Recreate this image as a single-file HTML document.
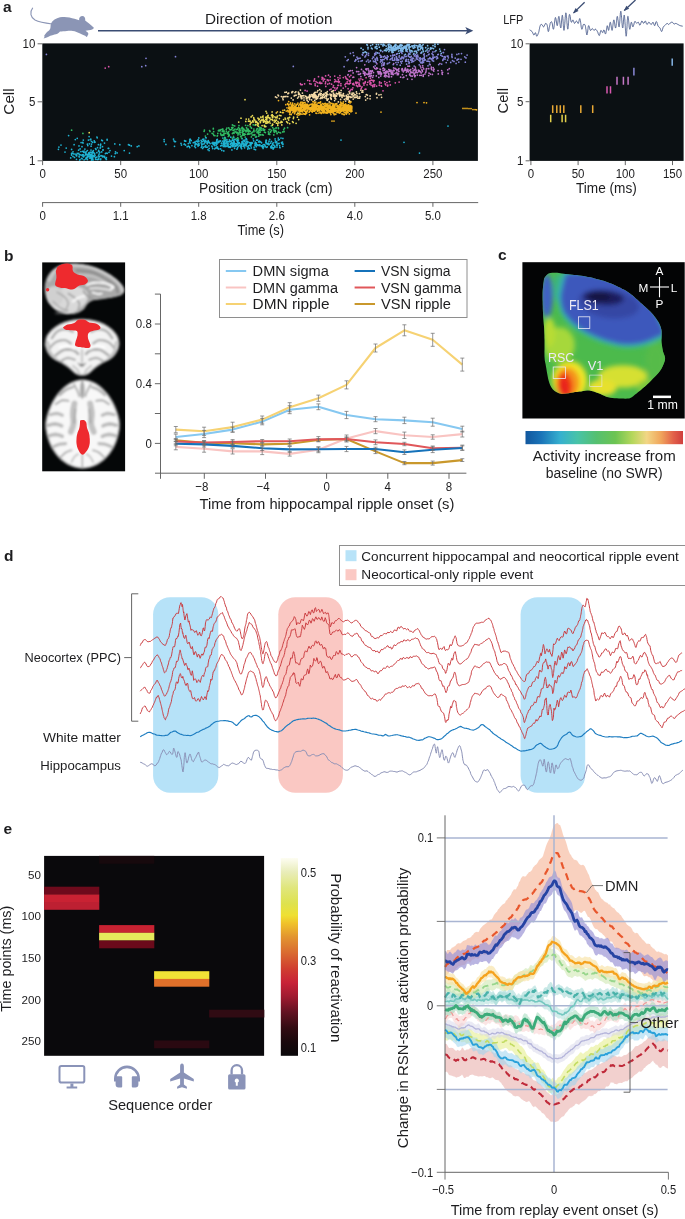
<!DOCTYPE html>
<html lang="en">
<head>
<meta charset="utf-8">
<title>Figure</title>
<style>
html,body{margin:0;padding:0;background:#fff}
svg{display:block}
text{font-family:"Liberation Sans", sans-serif;fill:#1d1d1f}
</style>
</head>
<body>
<svg width="685" height="1219" viewBox="0 0 685 1219">
<rect width="685" height="1219" fill="#fff"/>
<g id="panel_a">
<text x="3" y="12" font-size="15.5" font-weight="bold">a</text>
<path d="M32.6 8.2C29.5 12 30.5 17.5 35 20C40 22.5 46 23.2 52.5 24" fill="none" stroke="#8b95b5" stroke-width="1.1" stroke-linecap="round"/>
<path d="M51 23.5C52.5 20.5 56 18.2 60 17.3C65 16.3 70 17.2 74.5 18.8L79.2 20.3C78.8 18 79.8 16.2 82 15.9C84.3 15.8 85.6 17.6 85.2 20.6C87 22 90 24.3 93.9 27.8C93.5 29.3 91.5 30 88.5 30.3L85.5 30.8C87.5 32 88.6 33.2 88.3 34.2L86.9 36.9C86 36.5 85.6 35.8 84.5 35.4C81 34 79 32.9 76.5 31.9C73 30.8 70.5 30.6 67 30.9C64 31.1 62 31.2 60 31.5C58.5 33.5 56.5 34.3 54.5 34.5C51.5 35.3 49 36.3 46.8 37.6L43.6 38.6L44.8 36.6L43.9 36.3L45 34.6C45.8 33.2 46.8 31.8 48.4 30.9C49.8 30 50.3 28.8 50.5 27.2C50.6 25.8 50.6 24.6 51 23.5Z" fill="#8b95b5" stroke="none" stroke-width="1"/>
<line x1="98" y1="30.7" x2="468" y2="30.7" stroke="#3a4c73" stroke-width="1.6"/>
<path d="M473.3 30.7L465.3 27L467.3 30.7L465.3 34.4Z" fill="#3a4c73" stroke="none" stroke-width="1"/>
<text x="205" y="24" font-size="15.2" textLength="127.5" lengthAdjust="spacingAndGlyphs">Direction of motion</text>
<rect x="42.3" y="43.4" width="435.6" height="117.5" fill="#0b1013"/>
<g stroke-width="1.75" stroke-linecap="round" fill="none">
<path d="M92 154h0M95 155.3h0M89.3 154.5h0M83.1 156.5h0M87.5 155.1h0M82.1 155.4h0M92.6 151.5h0M105.4 153.6h0M85.8 154.1h0M96.9 152.7h0M95.6 157.7h0M82.7 151.3h0M91.7 155.7h0M99 154.2h0M78.6 150.2h0M87.4 159.1h0M73 156.4h0M79.1 156.8h0M73.6 153.8h0M89.6 158.1h0M79.3 154.6h0M94.7 156h0M93.6 152.5h0M90.1 152.1h0M86.6 154.7h0M91.5 157.6h0M93.1 156.4h0M76.7 154.9h0M87.2 154.7h0M82.2 158.8h0M83.9 155.4h0M102.6 156h0M83.9 156.6h0M100.8 158.9h0M86.2 157.9h0M90.9 154.5h0M93.1 151.5h0M92.6 159.9h0M79.7 160h0M92.8 156h0M105.6 158.5h0M76.5 159.3h0M100.6 159.5h0M93.2 159.8h0M85.6 154.9h0M99.6 152h0M80 159.6h0M92.7 158.3h0M97.8 159.6h0M91.3 152.4h0M98.7 150.4h0M106.4 159.4h0M85.2 152.8h0M94 156.5h0M87.4 159.5h0M93.3 150.6h0M80.1 148.9h0M86.2 157.4h0M90 156.7h0M101 155.6h0M103.5 156.6h0M78.8 153.4h0M84.1 151.1h0M98.5 155.9h0M72.1 153h0M87.4 150.6h0M91 158.3h0M104.6 156.3h0M98.9 158h0M88.7 152.9h0M88.3 154.1h0M89.5 152.9h0M107.2 153.3h0M87.7 157.2h0M89 153.7h0M95.5 157.8h0M90.8 157.7h0M80.9 151.5h0M91.9 159.7h0M87.6 156.2h0M103.7 156.4h0M98.5 151.3h0M91.8 154.8h0M98.7 159.2h0M88.6 156.2h0M102.5 156.8h0M91.9 155.5h0M79.1 156.4h0M95.5 148.6h0M75.1 154h0M71.6 149.4h0M83 154.6h0M114.4 156.7h0M83.7 152.3h0M85.8 153.1h0M96.9 157.1h0M90.2 156.7h0M89.9 156.3h0M99 156.6h0M97.2 159.4h0M81.7 158.5h0M91.2 157.3h0M92.4 152.7h0M81.5 158.3h0M94.6 154h0M101.7 151.9h0M93.9 156h0M92.9 156.5h0M86.1 151.7h0M80.7 154.8h0M95.6 159.3h0M70.7 157.9h0M100.5 147.1h0M74.5 157.4h0M99.6 156.3h0M83.5 156.8h0M99.8 152.6h0M93.3 155.5h0M76.6 155.9h0M106.4 157.7h0M91.3 156.5h0M90.4 154.5h0M82.2 155.1h0M103 150h0M91.5 160h0M84.1 159.8h0M85.7 158.9h0M79.2 156.9h0M104.6 157.3h0M90.5 155.6h0M101.7 155.8h0M92.1 156.7h0" stroke="#1fb2d2"/>
<path d="M108.2 148.3h0M94.7 142.3h0M83.3 140h0M82 146.7h0M131.3 145.9h0M107.1 140.1h0M97.5 147.7h0M88.4 140.1h0M71.6 153.7h0M94.5 153.4h0M115.2 153.5h0M87.4 144.2h0M91 150.1h0M91.1 146.2h0M98.4 144.7h0M61 145h0M90.8 139.2h0M77.2 138.3h0M115.5 151.8h0M79 145.9h0M108.7 148.3h0M129.5 153h0M89.1 136.6h0M82.8 142.3h0M100.2 148.1h0M96 149.4h0M74.1 144.7h0M106.1 153.2h0M90.3 139.7h0M91.5 141.4h0M73 151.8h0M103 149.8h0M68.6 135.6h0M71.6 155.1h0M124.2 150.6h0M76.1 155.1h0M119.8 144.7h0M129.5 145.2h0M101.7 140.2h0M138.9 145.9h0M91.7 156.5h0M83 143.1h0M66.2 148h0M96.9 137h0M128.5 144.7h0M117.1 152.9h0M75.3 139.5h0M77.2 153.4h0M84.9 149h0M102.4 140.7h0M91.5 144h0M100.7 144.2h0M102.5 146.7h0M89.4 143.8h0M95.1 142h0M100.5 145.2h0M94.2 140.8h0M107.1 139.3h0M137.2 146.7h0M109 152.3h0M97.2 137.8h0M58.9 147h0M104.5 143.1h0M65 152.1h0M114.8 143.9h0M111.5 156h0M92.7 142.3h0M58.4 149.3h0M87.8 145.6h0M81.1 142.5h0M110 150.5h0" stroke="#1fb2d2"/>
<path d="M173.5 139h0M181 143.4h0M174.5 146.3h0M164.1 139.7h0M174 140.8h0M175.5 141.6h0M184.6 140.7h0M165.9 144.4h0M174.6 141.5h0M181.5 145h0M164.2 141.6h0" stroke="#1fb2d2"/>
<path d="M248 148.3h0M205.9 141.8h0M198.6 144h0M225.4 138.1h0M242.3 141.9h0M234.1 142.3h0M239.8 145.7h0M236.5 145.6h0M203.8 139.2h0M188.3 146h0M204.6 142.9h0M195 141.9h0M257.4 145.4h0M259.6 141.1h0M206.2 137.8h0M193.3 142.7h0M224.4 139.5h0M276.7 141.9h0M250.8 144.7h0M202.7 148.4h0M266.2 143.2h0M202.7 139.4h0M226.4 141.6h0M189.8 141.1h0M205.7 140.3h0M276.6 145.1h0M259.6 141.9h0M222.9 138.1h0M208.9 145.8h0M223.2 144.8h0M234.1 144.1h0M232.5 145.6h0M232.2 143.9h0M201.3 147.4h0M233 145h0M233.8 144.9h0M273.7 145h0M230.9 143.3h0M212 143h0M233.1 144.4h0M216.8 139.9h0M212.7 148.5h0M233.2 144.1h0M203.7 140.3h0M253.2 138.8h0M231.9 143h0M242.5 143.5h0M229.5 141.7h0M213.2 144.1h0M206.6 141.9h0M227.9 145.4h0M218.5 141.7h0M242 143.7h0M234.9 146.6h0M237 140.9h0M194.7 142.5h0M216.5 141.4h0M226.2 146.1h0M237.7 142.4h0M239.5 143.7h0M230.3 141h0M222.3 141h0M223.8 142.4h0M205.7 137.7h0M226.9 139.6h0M218.4 142.6h0M237.8 144.2h0M198.9 143.3h0M242.1 138.7h0M239.3 142.5h0M230.8 146.1h0M221.8 145.4h0M251.6 143.6h0M185.1 141.2h0M248.8 145.6h0M242.3 142.1h0M243.5 140.4h0M246.5 141.5h0M215.4 148h0M227.2 144.4h0M254.1 147.2h0M247.9 142.4h0M241.2 146.5h0M189.6 142.1h0M251.1 143.3h0M265.3 146h0M242 142.3h0M188.3 143.6h0M263.3 144.7h0M230.6 147.3h0M246.3 138.8h0M190.2 143h0M196.1 143.8h0M216 144.1h0M273.2 147.6h0M223.9 144.7h0M243.1 146.2h0M282.8 146.3h0M231.9 149.9h0M227.8 146h0M197.2 144.5h0M214.2 144.2h0M247.8 149h0M246.9 141.1h0M238.3 143.5h0M264.8 145.1h0M211.8 146h0M233.3 142.5h0M256.9 144.7h0M252.5 143h0M267.1 144.1h0M246.9 143.4h0M225.7 140.5h0M245.9 143.7h0M204.9 146.3h0M185.8 141h0M252.4 143.1h0M233.3 145.7h0M244.3 140.7h0M184.1 144.3h0M224 140.7h0M217 147.1h0M209.1 150.5h0M225 143.2h0M261.9 145.9h0M246.4 144.2h0M217 144.1h0M234.6 148.3h0M257.7 140h0M231.3 143.7h0M251.3 147.9h0M255.5 144.3h0M269.1 144.6h0M244.4 145.9h0M244.1 143.9h0M258.6 145.2h0M218.8 142.3h0M233.8 137.6h0M262.2 146.4h0M230.2 144.2h0M233.5 144h0M241 146.8h0M275.3 142.5h0M234.1 141.8h0M279.1 143.3h0M206 147.2h0M229.4 139.8h0M229.1 147.3h0M258.6 141.9h0M266.4 140.6h0M189.7 147.5h0M207.5 143.5h0M245.1 140h0M215.2 142.8h0M189.3 146.5h0M266.2 147.3h0M249.8 142.6h0M249.8 145h0M220.7 145.9h0M265.9 141.9h0M227.8 144.8h0M267.9 143.7h0M207.7 142.2h0M209.4 142.4h0M241.1 144h0M213.9 143.9h0M255.3 142.2h0M242.8 142.6h0M207.3 147h0M237.2 144.4h0M224.5 146.4h0M262.5 147.3h0M216 145.5h0M221.8 150.4h0M271.3 141.4h0M236.9 149.2h0M241.6 148.7h0M281 138.1h0M231.3 141h0M205.7 145.7h0M238.5 146.1h0M248.5 145.9h0M210.1 143.6h0M185.6 145.1h0M191.9 145.7h0M255 143.6h0M212.2 146.8h0M230.8 137.2h0M241.4 145.6h0M253.6 140.8h0M225 146.6h0M250 143.1h0M208.3 141.2h0M224.1 144.9h0M204.3 141.2h0M269 141.2h0M234.2 139.3h0M212.8 143.7h0M224.4 145.2h0M228.3 146.8h0M256 143.4h0M187.1 146.8h0M203.9 143.9h0M223.7 143.5h0M263.7 146.9h0M231.7 142.8h0M256.4 143.1h0M228 144h0M224 141.2h0M271.4 146.8h0M249.8 142.6h0M255.1 145.1h0M219.8 141.4h0M252 142.6h0M255.5 149.7h0M254.1 149h0M229.2 146.6h0M248 141.9h0M255.5 142.7h0M224.8 145.1h0M184.3 144h0M246 143.9h0M212.8 143h0M225.1 138.6h0M216.9 143.1h0M224.8 137.4h0M271.5 141.7h0M242.6 141.7h0M268.3 143.2h0M235.7 139.6h0M208.2 140.7h0M198.8 137.9h0M219.9 141h0M237.4 148.4h0M245.3 145.7h0M189.7 139.8h0M243.9 144.7h0M231.7 142.9h0M225.6 143.6h0M232.8 145.4h0M218.8 148.9h0M216.6 144.4h0M184.5 144.2h0M234.1 141h0M274.7 146.2h0M256.2 143.7h0M214.7 148.8h0M278.3 138h0M233.3 142.9h0M232.9 146.4h0M226.3 142.8h0M237.8 141.5h0M221.9 143h0M232.5 139.8h0M202.5 144.1h0M223.8 150.9h0M232.9 140.6h0M227.8 141.3h0M251 142.6h0M256.2 146.7h0M201.6 141.4h0M228.8 141.8h0M262.5 146.4h0M243.1 146.3h0M238.7 142.7h0" stroke="#1fb2d2"/>
<path d="M282.5 142.1h0M246.3 138.7h0M196.9 141.2h0M236.2 143.7h0M194.6 146.4h0M241 146.7h0M207.2 143.6h0M224.2 143.3h0M218.3 141.4h0M246 145h0M266.5 143.1h0M277.1 145.6h0M220.6 148.9h0M243 143.7h0M190.5 139.5h0M224.6 141.3h0M279.3 139.6h0M201.1 140.3h0M270.9 147.6h0M250.7 144.5h0M217.3 139.4h0M262.4 145.7h0M216.9 147.5h0M273.2 142.8h0M197.7 141.8h0M201.1 142.8h0M259.8 144.6h0M231.8 145.7h0M203.7 147.2h0M237.7 147.3h0M217.6 147.2h0M241.1 147.7h0M259.2 145.7h0M269.7 139.4h0M195.5 143.4h0M245.1 144.7h0M281.5 142.7h0M232.8 146.4h0M261.6 142.8h0M199 141.1h0M271.2 148h0M244.1 145.7h0M272.6 144.4h0M263.2 146.5h0M270.8 146.9h0M195.3 144.8h0M256.5 136.7h0M208.3 141.8h0M214.7 142.5h0M220.2 140.9h0M245 144.4h0M248.4 147.3h0M276.6 142.4h0M191.2 140.5h0M208 149.7h0M223.7 142.5h0M266.1 140.2h0M241.1 144.5h0M237.6 145h0M260.7 141.8h0M250.9 146.1h0M217 142.4h0M198.1 141.1h0M233 144.3h0M271.9 146h0M245.6 142h0M195 144.8h0M230.9 143.5h0M244.2 141.7h0M244.6 147.8h0M278.5 143.6h0M221.4 143.4h0M228 145.9h0M247.1 146.4h0M272.4 147.5h0M255.7 144.8h0M233.8 142.1h0M265.8 142.2h0M235.1 145.3h0M279.6 145.5h0M216.3 147.9h0M201.8 145h0M267.2 146.9h0M217.6 148.2h0M268.8 144.3h0M246.7 139.5h0M237.3 140.4h0M198.1 139.6h0M263.1 148.4h0M196.1 141.3h0M279.8 147.4h0M271.6 145.5h0M218.2 148.8h0M201.9 146.7h0M272.4 143.5h0M234.6 143.2h0M201.6 144h0M236.4 144.3h0M213 142.3h0M227.9 143.7h0M249.5 148.5h0M275.1 138.9h0M264.5 144.5h0M205 141.2h0M234.4 144.3h0M235.7 146.2h0M282 143.6h0M198.1 146h0M237.5 139.2h0M275 147h0M227.1 142.1h0M214.3 145.6h0M241.7 144.3h0M276.2 141.6h0M197.9 144.4h0M209.2 148.3h0M197.8 144.6h0M256.2 144.5h0M217.3 139.7h0M273.7 148h0M273.1 149h0M277.1 143.9h0M213.8 143.2h0M190.1 139.1h0M226 146.4h0M261 145.9h0M195.5 147.5h0M255.3 145.4h0M275.3 140.9h0M280 147.7h0M256.6 140.2h0M270.3 143.2h0M268.3 144.6h0M223.3 146.4h0M199.2 145h0M257.7 144.9h0M202.7 141.6h0M225.7 140.1h0M282.6 144h0M242.1 141.7h0M238.5 140h0M278.2 140.1h0M216.4 142.4h0M282.9 138.4h0" stroke="#1fb2d2"/>
<path d="M220.4 130.7h0M214.9 135.7h0M249.5 130.5h0M253.8 130.7h0M284.1 131.7h0M217.5 135.6h0M233.1 125.3h0M263.3 128.9h0M241.9 128.8h0M239.8 128.6h0M278.5 128.5h0M239.6 129.3h0M224 133.2h0M221 129.6h0M252.4 132h0M251.8 132.9h0M219.9 130.1h0M227.3 132.6h0M256.2 136.6h0M257 132.6h0M233.8 130.1h0M257.8 131.4h0M256.9 128.8h0M212.1 133.3h0M240.1 134.6h0M253.9 129.1h0M235.1 131.4h0M205.4 136h0M240.6 130.4h0M260.3 132.1h0M276 128.1h0M204.4 130.1h0M224.6 138.8h0M264.2 130.2h0M269.4 129.7h0M264.7 129.7h0M248.8 131.2h0M223.9 134.2h0M257.9 132.1h0M232.4 138.2h0M259.5 132.4h0M280.5 132.9h0M228.7 127.8h0M273.9 130.9h0M276.2 131h0M275.5 130.5h0M245.6 125.3h0M223.2 134.9h0M242.6 130.7h0M204.1 131.3h0M213.7 131.7h0M247.7 131.1h0M227.2 133.4h0M242.9 128h0M243.9 129h0M282.7 131.9h0M270.7 131.7h0M245.1 130.7h0M269 129.6h0M231.2 129.6h0M239.6 131.8h0M263.3 135h0M222.4 129.1h0M240.7 136.5h0M220.9 134.8h0M248.2 130.4h0M277 133.5h0M231.7 127.7h0M250.3 126.5h0M229 128.3h0M224.2 131h0M222.5 131.3h0M273.6 129.7h0M255.2 125.2h0M232.4 133.6h0M259.4 127.3h0M239.6 129.9h0M261.2 130.3h0M251.5 128.2h0M251.3 127.6h0M257.5 128.6h0M235 132h0M238.3 133.7h0M213.3 134.1h0M237.6 129h0M219 130h0M243.3 129.1h0M227.8 133.5h0M247.9 125.6h0M254.6 135.3h0M219 130.9h0M230.5 129.8h0M228.1 133.2h0M260.2 134.6h0M278.4 132.2h0M262.2 134.6h0M239.4 132.3h0M273.8 134.9h0M217.2 136.1h0M274.5 130.9h0M233.5 136.4h0M276 128.4h0M226.4 131.3h0M249.2 134.1h0M241.9 127.9h0M247.9 133.7h0M217.8 133.4h0M233.1 132.9h0M254.9 125h0M250.2 131.4h0M268.8 133.3h0M247.5 129.5h0M232.4 124.9h0M250.9 133.7h0M209.6 130.5h0M222.2 134.9h0M271.2 125.8h0M228.1 134.2h0M256.1 130.9h0M244.8 134.2h0M226.2 129.4h0M239.4 130.1h0M236.2 138.7h0M236.7 129.5h0M260.3 129.4h0M258.4 130.7h0M235 129h0M228.8 135.7h0M251.4 136.9h0M244.1 129.7h0M265.5 126.2h0M262 134.8h0M245.3 134.3h0M242.7 135.3h0M229.7 129.5h0M228.8 131.6h0M226.9 128h0M238.5 127.7h0M237.9 134.9h0M260.1 129.5h0M238.4 138.8h0M242.2 132.1h0M222.9 130.3h0M277.2 133.6h0M255.6 137h0M280 132.6h0M261.1 127.8h0M274.3 132.3h0M241.3 136h0M259.6 130h0M222.8 135.3h0M268.3 131.8h0M278.3 127.8h0M254 130.5h0M260.5 129.2h0M270.3 132.2h0M233.3 132.4h0M253.9 135.1h0M229.1 134.3h0M232.9 127.4h0M234 133.3h0M243.2 134.5h0M248.8 133.1h0M254.8 134.7h0M218.4 130.7h0M284.5 128.2h0M268.5 134.1h0M260.1 128.3h0M239 125.5h0M244.3 134.9h0M256.7 129.4h0M254 130.7h0M213.3 128.3h0M260.4 127.5h0M210 131.4h0M265.4 132.5h0M253.2 124.8h0M243.8 134.1h0M272.7 127.7h0M222.9 129.1h0M249.2 133.8h0M274.5 131h0M242.2 127.3h0M237.8 137.5h0M248.2 129.2h0M237.3 132.7h0M276.2 131.8h0M228.3 136.4h0M263 130.1h0M221.6 135.3h0M259.1 129.3h0M244 135.2h0M245.9 130.7h0M225.2 137.9h0M237.3 132.9h0M276 131.5h0M224.2 139h0M225.3 133.3h0M274.1 128.8h0M248.3 134h0M276.1 127.7h0M252.3 135.1h0M228.8 135.8h0M244.7 130.1h0M270 129.4h0M264.4 132h0M246 131.8h0M247 128.8h0M243.8 133.5h0M234.7 125.9h0M283.7 129.7h0M246.1 130.6h0M223.9 131.4h0M236.7 132.9h0M260.2 127.8h0M258.5 133.3h0M243.3 131.3h0M232.9 130.1h0M246.5 127.7h0M213.3 128.9h0M220.6 133.4h0M261.6 128.6h0M236.6 132.2h0M253.3 134.8h0M269.8 134.4h0M258.7 136.2h0M246.4 130.9h0M287.6 127.7h0M259 134.6h0M239.1 132.9h0M260.3 134.9h0M254 131.7h0M229.3 135.7h0M247.4 134.3h0M242.8 134h0M207.6 134.1h0M242.6 133.1h0M240.5 132.6h0M237.4 132.6h0M213.9 135.4h0M239.1 130.4h0M245.2 137h0M248 131.4h0M223.8 135.2h0M258.4 131.3h0M222.3 131.5h0M241.6 138h0M271.5 130.4h0M232.5 128.2h0" stroke="#2fb862"/>
<path d="M258 118.2h0M263.6 122.2h0M298.2 113.3h0M270.9 119.6h0M281.1 121.4h0M254 119.7h0M272.9 120.4h0M277.4 116.1h0M293.2 122.4h0M258.3 123.9h0M276.4 120.2h0M272.2 114.5h0M253.7 117.7h0M267.7 122.9h0M264.3 125.4h0M276.4 123.2h0M275.6 117.7h0M261.9 119.8h0M249.3 121.1h0M288.7 120h0M271.7 115.2h0M282.2 122h0M287.7 122.8h0M260.7 117h0M279.4 115.3h0M264.6 121.3h0M267.1 118.1h0M266.8 113h0M268 122.4h0M283.6 119.5h0M269.7 118.5h0M265.8 126.5h0M264.1 120.6h0M272.8 117.5h0M255.5 121.1h0M261 117.3h0M267.3 117.8h0M260.1 121.6h0M266.3 118.4h0M259.4 119.2h0M296.1 123.3h0M286.6 121.5h0M274.3 122h0M267.2 121.6h0M298.7 119.6h0M272.5 124.1h0M266.8 120h0M272.2 125.3h0M272.3 116.9h0M287.7 118.1h0M267.7 115.9h0M297.4 117.2h0M255.7 122.3h0M277.7 123.8h0M254 118.9h0M293.4 118.5h0M263.4 119.2h0M267.2 117.8h0M280.9 115.7h0M285.6 119.1h0M252.4 115.7h0M263.2 120.6h0M248.5 121.2h0M269.9 117.9h0M266.6 117.1h0M263.1 116.1h0M258.4 126.2h0M262.6 116.3h0M257.6 125.3h0M275.4 121.4h0M289.2 117.6h0M241 118.2h0M266.4 123.2h0M262.1 125.5h0M274.9 116.8h0M254.7 119.9h0M265.9 123.3h0M253.4 121.9h0M277.8 125.4h0M269.4 118.2h0M265.7 121.8h0M273.2 115.9h0M264.5 126.5h0M246.2 119.1h0M276.3 112.9h0M272 119.4h0M265.8 119.7h0M281.8 124.9h0M285.1 118h0M252.7 120.9h0M257.1 122.4h0M289.7 123.5h0M287.9 118.6h0M257.7 123.7h0M251.5 122.5h0M259.1 119.6h0M261 120.7h0M245.8 121.4h0M268.4 117.2h0M250.1 124.7h0M251.1 116.9h0M280.8 122.7h0M258.4 123.4h0M267 119.8h0M276.8 117.2h0M279.4 118.6h0M263.3 121.7h0M268.6 122.2h0M256.4 121.6h0M292.5 121.5h0M277.1 117.8h0M252.6 121.6h0M268.1 115.3h0M278 121.7h0M274.7 120.1h0M293.6 117.2h0M287.2 122.3h0M260.4 122.5h0M250.1 121.2h0M271.5 115.4h0M270.1 123.1h0M269.4 118.4h0M238.7 122h0M258.6 119.8h0M269.6 121h0M250.4 123h0M255.9 124.6h0M262.9 117.3h0M272.8 124.4h0M265.7 117.3h0M255.6 121.6h0M279 122.8h0M260.4 122.6h0M261 117.6h0M248.7 119.1h0" stroke="#e9da55"/>
<path d="M280.4 112.2h0M284.5 110.1h0M296.5 107.4h0M272.1 111.9h0M289.7 110.9h0M291.1 114.5h0M290.6 108.6h0M289.7 117.3h0M300.2 113.8h0M289.9 112.3h0M293.6 110.9h0M290.6 110.6h0M266 111.4h0M297.8 113h0M282.4 112.5h0" stroke="#e9da55"/>
<path d="M292.5 108.7h0M345.7 104.2h0M351.1 111.7h0M321 109.2h0M302.8 103.7h0M323 108.1h0M332.7 105.9h0M319.1 106.2h0M310.9 108.4h0M304.2 106.1h0M307.4 111.1h0M291.7 106.1h0M304.7 111.1h0M349 108.1h0M289 110.8h0M334.7 106.6h0M338.6 106.7h0M314.2 104.7h0M326.3 109.9h0M302.5 111h0M330.9 114.6h0M333.4 112.1h0M335.1 108.9h0M319.7 107.6h0M350.1 109.4h0M343.5 108.1h0M324.9 112.6h0M331.8 111h0M305.9 105.7h0M348.4 106.1h0M329.5 112.3h0M345.3 109.1h0M306.8 107.5h0M350.9 111.8h0M295.2 107h0M322.2 107.4h0M295.5 106.8h0M300.6 102.3h0M337 110.8h0M292.7 104.6h0M312.8 106.5h0M300.7 106h0M342.5 110.4h0M293.7 108h0M309.9 108.2h0M342.9 103.2h0M332.1 107.9h0M333.2 103.8h0M351.4 109.1h0M290 109.3h0M330.7 108.1h0M335.8 114.3h0M336 109.8h0M333.8 110h0M293.1 108.6h0M293.8 107.6h0M337.6 111.1h0M327.3 111.5h0M305.2 104.3h0M289.1 111.4h0M322.4 109.7h0M294.2 111.1h0M336 109.6h0M310.1 104.5h0M339.8 104.7h0M294.6 113.7h0M319.9 109h0M294.8 103.9h0M338.1 109.2h0M324.1 107.1h0M303.4 102.7h0M349.6 101.3h0M331.8 103.4h0M309.9 109h0M342.8 108.1h0M312.6 107.5h0M348.3 109.1h0M307.4 110h0M351 101.9h0M292.5 107.3h0M335.1 105.7h0M307 104.5h0M315.4 106.6h0M328.9 107.8h0M291.4 107.4h0M302.7 103.8h0M295.1 106.8h0M335.5 114.2h0M302.5 105h0M320.1 103.1h0M309.4 109h0M303.5 110h0M347.9 109.6h0M320.7 104.8h0M329.8 111.2h0M333.2 105.8h0M340.6 104.8h0M305.2 106.4h0M293.5 107.9h0M318.2 110.3h0M299.3 110.1h0M289.8 108.1h0M346.9 111h0M328.3 108.4h0M314.8 110.9h0M297.2 104h0M336.8 103.5h0M322.3 110.5h0M299.6 104h0M350.9 107.3h0M348.9 107.9h0M347.4 106.7h0M341 106.8h0M322.3 112.4h0M329.9 110.9h0M298.1 115.1h0M327.7 108.3h0M292.7 108.1h0M289.4 110.4h0M333.9 113.7h0M310.3 104.6h0M332.8 108.5h0M338 107.6h0M341.5 109.9h0M327.6 108.7h0M342.3 110.2h0M330.3 106.9h0M347.4 108.3h0M345.4 106.2h0M291.2 106.2h0M305.5 107.8h0M313.2 107.8h0M304.5 104.7h0M299.7 112.9h0M344 107.8h0M290.1 104h0M300 111.5h0M336.8 106h0M302.7 109.7h0M304.9 108.1h0M349.9 109h0M336.9 108.7h0M317 106.5h0M297.1 108.3h0M305.6 114.3h0M350.8 101.5h0M338.7 108.4h0M292.9 109.5h0M333.4 105h0M312.4 104.1h0M334.2 114.7h0M307.3 107.1h0M296.8 114.4h0M289.8 109.8h0M307.3 108.4h0M343.1 109.6h0M345.1 110.1h0M331.9 111.7h0M336 109.5h0M300.9 108.6h0M311 108.7h0M345.6 112.3h0M351.1 110.7h0M316.6 105.2h0M337.8 106.3h0M347.8 109.2h0M351.8 106.3h0M307.3 107.1h0M330 105.3h0M313.3 107.4h0M318 109.5h0M317.8 111.2h0M306.2 108.2h0M289.7 114.4h0M337.2 108h0M341.9 111.2h0M298.2 109.7h0M303.6 106.7h0M348 107.7h0M318.5 108.7h0M301.3 114h0M326.3 104.1h0M349.3 113.9h0M343.6 107.4h0M345.6 110.4h0M305.2 108.6h0M343.8 107.2h0M338.5 110.2h0M342.6 108.5h0M313.3 104.8h0M306.7 111h0M303.8 110.3h0M343.8 110h0M346.9 111.2h0M311.8 111.5h0M344 108.1h0M312.7 104.1h0M316.9 104h0M324.5 112.2h0M302.6 110.3h0M305.5 108.5h0M305.4 106.9h0M305 108.3h0M321.2 108.3h0M294.9 107.2h0M338.1 106.1h0M299.6 114.7h0M316.7 108.9h0M329.3 106.4h0M297.3 104.3h0M314.5 106h0M324.3 110.4h0M323.4 110.5h0M345.2 107.5h0M338.3 108.4h0M296.2 107.3h0M341.4 104.9h0M323.4 112.1h0M331.6 109.3h0M318.5 105.9h0M332.9 107.8h0M339.1 110.8h0M339.7 107.5h0M302.3 104h0M341.4 105.4h0M324.6 108.5h0M331 109.2h0M342.6 107.9h0M314.2 111.2h0M346.9 111.2h0M344.5 109.2h0M339.8 108.3h0M312.6 107.4h0M322 109.9h0M299.5 111h0M336.7 108.4h0M345.1 109.5h0M298.7 107.2h0M335.8 104h0M332.6 105.2h0M290.8 110.5h0M346.7 109.5h0M318.9 113h0M305.6 108.4h0M290.4 110.8h0M338.1 112.2h0M309.9 111.2h0M321.1 106.4h0M300.9 107.6h0M327 108.6h0M313.7 105.2h0M339.7 109.6h0M330.8 111.3h0M334.3 106.8h0M304.4 114.1h0M292.6 107.3h0M344.4 107.6h0M347.9 107.5h0M329.4 106.1h0M347 109.5h0M333.3 108.3h0M327 113.2h0M315.1 110h0M311.1 109.8h0M319.6 107.5h0M302.6 104h0M315.7 107.9h0M320.7 105.6h0M290.5 111.1h0M313.5 108.1h0M306.6 113.2h0M328.8 110.4h0M340 110.7h0M327.5 108.9h0M330.7 108.8h0M327.5 110.2h0M304.8 111h0M312.4 106.1h0M342.1 109.7h0M300 107.9h0M289.2 107.4h0M349.6 106.1h0M343.1 103.9h0M327.1 111.8h0M340.4 108.4h0M326.2 109.1h0M346 113.7h0M316.7 105.5h0M331.1 111.4h0M302.2 110.1h0M333.9 109.4h0M305.2 109.6h0M333.6 108.1h0M339.6 113h0M315.4 110h0M351.4 109.2h0M328.6 111.9h0M336.5 110.9h0M289.8 109.6h0M295.7 109.2h0M333.7 113.5h0M348.4 109.7h0M328.4 107.9h0M346.5 105.6h0M292.3 107.2h0M345.1 105.1h0M344.2 108.5h0M328.4 109h0M315.8 102.1h0M333.3 108.3h0M304 110.2h0M330.9 108.7h0M332.6 105.3h0M322.8 112h0M305 106.1h0M288.6 104.5h0M300.9 105h0M341.4 108.2h0M302 111.2h0M293.2 111.7h0M304.2 108.8h0M321.5 104.6h0M325.7 106.2h0M344.2 105.5h0M342.8 107.7h0M350 102.9h0M344.7 108.5h0M317.1 110.1h0M297.5 107.8h0M349.2 109.6h0M303 105.4h0M328 103.8h0M305.3 106.3h0M340.4 111.7h0M301.2 111.3h0M315.2 106.8h0M302.5 111.8h0M343.1 107.2h0M327.8 112.7h0M328.6 109.7h0M308.5 106.8h0M299.7 110.6h0M342.9 105.9h0M337.1 105.4h0M335.1 103.8h0M351.8 109h0M324 108h0M299.8 108h0M327.2 107h0M306.7 112.5h0M321.1 106.9h0M317.7 106h0M324.3 111.9h0M347 112.5h0M339.9 109.2h0M314.9 103h0M340.4 106.4h0M343.1 110h0M337.6 108.3h0M323.5 112.9h0M345.6 104.1h0M319.7 110.2h0M295.2 106.3h0M305.8 112.2h0M330.3 108h0M312.6 111.3h0M315.3 106.3h0M314 104h0M300.7 104.9h0M294.4 106.4h0M291.6 105.1h0M331.2 111.8h0M309.1 112.2h0M317.5 109h0M347.9 105.1h0M328.3 107.8h0M340 106.1h0M336.9 112.6h0M349.1 109.1h0M292.7 109.7h0M312.9 107h0M348.8 102.2h0M318 105.9h0M348.7 104.9h0M300.2 109.3h0M292.3 108.5h0M345.4 105.8h0M314.6 107h0M320.8 112.9h0M348 105.3h0M302.4 105.4h0M350 107.5h0M313.7 106.1h0M304.2 106.9h0M303.3 109.8h0M321.4 113.4h0M318.2 102.9h0M344.8 108.1h0M291.7 108.3h0M291.3 107.9h0M298.2 107.6h0M327 107.2h0M338.1 111.2h0M319 106.8h0M327.5 107.8h0M329.3 108.2h0M289.7 108.5h0M304.1 107.7h0M351.9 111.2h0M309.5 108.2h0M348.6 108.7h0M319.8 108h0M302.6 105.2h0M288.7 105.7h0M302.3 105h0M308.9 108.8h0M316.4 106.1h0M316.9 105h0M323.3 108.9h0M318.6 109.8h0M290.6 102.9h0M305.5 113.3h0M349.6 108.3h0M290.2 107.9h0M335.1 111.4h0M318.7 108.4h0M333.4 106.4h0M309.6 114.8h0M312 105h0M321.3 107.9h0M346.3 110.7h0M309.4 105h0M294 107.9h0M290.9 109.4h0M308.4 105.5h0M296.1 108.1h0M326.4 110.2h0M342.2 108.4h0M326.6 104.6h0M298.1 109.4h0M314.3 108.5h0M305.4 109.5h0M289.6 111.6h0M349.8 111.2h0M317.7 109.4h0M297.1 109.1h0M344.7 104.9h0M351.1 107.8h0M340.3 108.9h0M304.6 107h0M300.6 108.5h0M321.8 105.7h0M325.6 112.8h0M344.3 114.7h0M349.9 107h0M346.3 109.4h0M310.2 107.5h0M325.7 112h0M296.4 109.5h0M321.4 108.4h0M293 107.5h0M295.6 108.6h0M296.2 105.2h0M307.6 110.2h0M308.2 106.1h0M333.3 109.8h0M293.3 108.6h0M295.6 111.5h0M330.2 108.1h0M331.2 111.3h0M333.6 105.4h0M334.2 110h0M330.6 107.5h0M323.6 108.8h0M335.6 108.4h0M293.7 111h0M302 102.1h0M335.6 109.2h0M300.7 103.7h0M322.2 111.8h0M305 102.3h0M315.9 105.2h0M341.5 103.2h0M330.5 113.1h0M316.8 104.3h0M305.9 108.5h0M339.6 106.6h0M330.2 102.8h0M316.4 107.2h0M343.7 110.2h0M332.5 107.6h0M350.8 111h0M330.7 107.1h0M345.6 108.2h0M323.5 107h0M333.6 109.2h0M342 113.9h0M294.2 109.3h0M318.6 108.8h0M327 106.3h0M292.2 105.9h0M338.6 112.6h0M333.9 104.9h0M348 105.5h0M312.1 107.9h0M318.3 106.9h0M346.4 114.1h0M341.5 109.3h0M315.3 110.3h0M309.9 104.8h0M306.1 106.3h0M302.1 109.5h0M315.9 113.1h0M298.8 105.4h0M341.1 103.5h0M350.4 111.1h0M294.7 112.8h0M292 107.2h0M288.7 101.6h0M347.7 112.6h0M293.2 107.6h0M331.7 111.6h0M307.8 108.1h0M301.1 107.1h0M304.1 106.8h0M332.3 112.6h0M289.6 112.5h0M343.4 101.8h0M324.6 105.4h0M303.5 113.5h0M301.7 107.1h0M330.1 104.1h0M328.5 108.2h0M308.7 107.9h0M309.7 107.9h0M317.9 106.8h0M346.3 107.3h0M322.7 106.8h0M341.8 109.2h0M329.2 105.8h0M324.2 107.3h0M319.6 107.8h0M331.7 112.1h0M319.7 109.3h0M334.6 107.9h0M300.1 109.8h0M309 109.4h0M343.9 111.5h0M313.6 109.7h0M342 113.6h0M348.1 112.2h0M325.2 108.1h0M295 107h0M336.6 110.8h0M330.8 109.7h0M307 107.9h0M343.3 103.8h0M319.2 102.7h0M292.1 109.2h0M292.8 110.5h0M303 110.6h0M327.2 104.3h0M340.3 111.3h0M294.8 106.6h0M289.9 109.4h0M328 109.5h0M314.5 105.8h0M316.5 106.4h0M340.6 102h0M346.9 105.4h0M349.9 102.8h0M338 109.5h0M288.7 108.4h0M298.1 110.9h0M325.8 109.3h0M349.2 106.3h0M293.7 109.2h0M321.2 107h0M313.7 110h0M314.3 109.1h0M305.6 105.2h0M305.7 108.2h0M303.6 108.4h0M295.1 107.3h0M323.7 110.9h0M316.8 113.3h0M333.8 107.1h0M329.1 107.1h0M349 101.5h0M310.1 107.8h0M344.5 106.9h0M312.9 101.7h0M330.5 109.1h0M339.6 110h0M313.7 106h0M316.8 107.1h0M328.6 105.3h0M295.5 110.5h0M322.3 103.6h0M294.5 107.3h0M302.8 114.1h0M328.1 108.4h0M350.2 109.6h0M352 107.8h0M305.1 104.7h0M297.8 108.1h0M321.4 109.4h0M316.5 105.1h0M312.6 109.2h0M337.3 111.9h0M333.6 111.4h0M324.2 103.5h0M328 105.3h0M325.4 103.4h0M331.5 111.4h0M347.4 110h0M348.6 110.3h0M350.7 105.6h0M343.1 104.7h0M295.2 108.4h0M317.2 108.5h0M338.1 105.6h0M307.2 108.6h0M327 110.1h0M292 108.9h0M301.4 105.1h0M313.9 101.9h0M293 107.4h0M315.4 108.7h0M303.1 107.4h0M343.2 106.9h0M308.7 106.1h0M312.7 110.3h0M339.4 108h0M324 108.6h0M291.7 105.3h0M302.3 106.3h0M327.3 108.7h0M301.2 105.2h0M304.3 104.4h0M328.1 107.2h0M319.9 111.8h0M305.6 108.8h0M324 112.6h0M328.7 107.8h0M291 107.3h0M305.9 104h0M308 106.5h0M344.3 112.5h0M291.8 109.2h0M310.5 110.4h0M300.9 110.3h0M332.6 108.2h0M340 107.6h0M292.1 108.6h0M343.3 110.2h0M332.7 109.6h0M302.3 109.7h0M346.7 108.7h0M307.1 105.9h0M338.6 107.4h0M293.3 105.4h0M317.5 111.2h0M320.6 101.9h0M345.4 107.5h0M323.2 107.2h0M291.8 104.8h0M315.8 108.1h0M312.3 112.1h0M351.7 107.7h0M331.7 110h0M314.2 108.5h0M311.7 107.1h0M294.6 108.4h0M340.4 106.6h0M331.1 106.7h0M316.1 109.3h0M333.6 109.4h0M313.8 110.5h0M297.6 108.6h0M315 103.9h0M291.8 109.8h0M294 107.3h0M316.4 107.3h0M340.9 103.8h0M301.4 106.5h0M320.3 106h0M350.7 108.1h0M341 103.8h0M345.8 108.4h0M331.4 108.6h0M325.9 104.8h0M325.4 106.3h0M326.7 105.6h0M318 110.9h0M303.7 107.2h0M292.6 103.2h0M311.9 106.9h0M337.4 110.7h0M323.6 106.3h0M298.9 108.6h0M340.2 105.7h0M291.1 114h0M347.6 110.9h0M329.9 111.6h0M323.8 104.2h0M314.7 104.9h0M340.9 111.4h0M288.9 107.6h0M289.5 107.4h0M321.5 109.2h0M307.4 104.4h0M314 110.5h0M322.6 108.3h0M291.3 109.6h0M350.9 106.2h0M331.5 109.7h0M294.8 106.1h0M335.4 111.1h0M322.3 111.6h0M332.1 110.9h0M335.3 109.7h0M351.5 110.1h0M351.8 110.7h0M318.8 107.4h0M301.3 108.5h0M312.2 107.3h0M311.6 104h0M345.4 106.6h0M321.8 110.2h0M292.7 112.5h0M333.9 106.3h0M320.1 105.5h0M340.2 112.6h0M291.5 105.6h0M343.4 114.4h0M345.2 108.4h0" stroke="#f2b21e"/>
<path d="M282.9 110.3h0M297.9 103.1h0M278.5 100.5h0M287.7 110.4h0M287 107.8h0M277.4 111.8h0M294 110h0M297.4 109.5h0M295.6 108.4h0M288.1 111.7h0M285.8 104.7h0M287.6 103.5h0M283.4 112.6h0M287.8 104.3h0M291.4 109h0M289.8 111.5h0M296.1 110.8h0M286.2 111.1h0" stroke="#f2b21e"/>
<path d="M304 100h0M309.3 98.6h0M341.5 95.6h0M362.8 92.2h0M359.4 93.7h0M381.6 97.3h0M333.5 93.9h0M330.9 98.1h0M350.1 96.7h0M326.5 96.6h0M324.5 97.5h0M300.9 97.1h0M349.8 93.6h0M300.3 95h0M338.3 101.9h0M291.9 92.7h0M352.3 94.6h0M301.3 98.6h0M346.2 95.4h0M287.9 93.7h0M315.4 92.4h0M354.3 97.2h0M306.7 98.5h0M327.6 99.4h0M314.5 95.9h0M333.4 93.1h0M336.4 96.2h0M299.4 94h0M339.8 96.3h0M306.9 97.8h0M301.9 98.6h0M326.2 93.2h0M309.6 99.1h0M381 94.6h0M288.7 93.1h0M343.7 95.4h0M349.7 92h0M278.5 95.8h0M284.4 96.6h0M339.5 95.3h0M314.4 97.2h0M335.2 95h0M353.3 95.8h0M317.1 92.1h0M300.5 95.9h0M330.9 94.6h0M303.7 95.6h0M333.5 96.3h0M331.6 91.5h0M292.8 91.7h0M367.4 95h0M352 97h0M346.4 96.7h0M297.6 98.1h0M316.2 99.2h0M312.9 97.1h0M316 95.7h0M299 93.1h0M336.4 93.3h0M331.5 94.6h0M334.8 96.5h0M313.9 96.4h0M357 95.8h0M330.5 95.4h0M310.6 96.3h0M324.6 96.6h0M349.2 96.6h0M318.8 94.4h0M320 93.1h0M310.1 97.1h0M342 96.9h0M315.3 95.2h0M311.5 94.7h0M308.2 101.7h0M339.4 93.8h0M313.2 95.2h0M285.8 96.5h0M340.9 92.8h0M309.2 96.1h0M334.6 100.5h0M335 98.2h0M354.9 97.4h0M351.1 97.3h0M312.2 96.1h0M322 98.3h0M295 95.4h0M366.3 94.7h0M336.6 96.1h0M359.5 98.2h0M318.3 96.7h0M276.8 97.6h0M362.8 90.5h0M328.2 98.9h0M329.2 101.9h0M327.3 99.3h0M341.5 95h0M338.8 93.6h0M287.8 96.5h0M352.1 93.2h0M313.3 97.7h0M314.8 94.4h0M367.5 98.3h0M348.1 99.3h0M317.9 90.5h0M281.4 96.6h0M329.9 94h0M338.9 92.1h0M324.1 94.2h0M296.1 95.2h0M307 98.5h0M295.9 91.8h0M331.2 98.5h0M345.7 101h0M350.6 97.4h0M308.4 97.2h0M331.6 95.8h0M339.3 92.7h0M313.7 97.2h0M322.4 96.8h0M377 97.7h0M347.2 97.7h0M315.6 96.9h0M327 99.9h0M284.9 92.3h0M325.4 92.8h0M354.6 94.8h0M376.4 94.1h0M354.7 97.6h0M342.5 95h0M327.3 100.3h0M311.6 99.8h0M322.2 97.8h0M340.7 94.8h0M307.2 97.4h0M348.4 97.9h0M302.4 93h0M283.3 96.7h0M301.7 97.6h0M286 96.4h0M293.1 99.9h0M353.2 99h0M321.2 93.7h0M331.2 96.1h0M353.8 93.6h0M356.2 97.3h0M313.9 93.5h0M357.9 98.2h0M335.2 96.8h0M326.1 98.3h0M336.6 95.4h0M291.8 92h0M307.1 100.4h0M323.4 95.4h0M340.6 99.4h0M317.1 96.9h0M322.9 97.6h0M349.3 100.6h0M359.9 96.7h0M344.4 99.4h0M356.4 91.9h0M316.3 98.1h0M318.6 95.2h0M333.6 95.5h0M318.8 95.8h0M313.8 96.7h0M365.7 100.1h0M321.2 91h0M302.8 95.9h0M337.7 93.9h0M370.1 98.8h0M327.9 94.7h0M355.6 97h0M315.5 94.8h0M314.2 97.5h0M309.4 98.4h0M322.6 94.8h0M370.1 95.9h0M298.3 92.1h0M365.3 96.6h0M301.8 98h0M320.4 94.4h0M346.1 98.7h0M341.1 90.4h0M332.8 91h0M286.4 92.2h0M334.7 94.5h0M301.5 95.8h0M320.9 95.6h0M330.5 97.7h0M298.5 94.6h0M314.5 92.5h0M295 92.6h0M349.6 101.3h0M319.7 89.7h0M339.5 95.3h0M309.6 99.6h0M314 97.1h0M356.9 93.6h0M302.7 95.8h0M282.8 98h0M335.7 98.9h0M298.6 93.5h0M315.5 97.8h0M347.9 96.5h0M306.4 98.7h0M347.1 99.4h0M309.7 94.9h0M361.8 92h0M357.8 96.8h0M314.7 100.4h0M320.9 97.6h0M306 96.4h0M353.6 93.1h0M291.3 98.1h0M348 94.3h0M294.2 95.9h0M305.4 96h0M283.1 99.7h0M376.5 93.4h0M327.4 94.4h0M331.9 91.7h0M309.8 97.1h0M351.6 94.6h0M275.5 96.9h0M326.6 93h0M379 94.9h0M316.8 98.5h0M326.4 95.3h0M342.1 97.4h0M306.5 97.2h0M326.5 94.9h0M349.1 91.7h0M330.7 98.4h0M334.9 96.2h0M317.6 98.4h0M333.6 90.6h0M327.3 91.5h0M360.9 90.2h0M343.4 93.5h0M320.2 98.5h0M343.2 95.7h0M344.1 96.1h0M304 97.8h0M278 95h0M298.6 96.8h0M348.2 96.2h0M300.4 90.1h0M315 94.8h0M331.3 99.3h0M355.4 94.8h0M325.6 95.4h0M323.6 94.2h0M312.8 94.5h0" stroke="#f3d9a6"/>
<path d="M381.2 82.9h0M345 84.7h0M325.4 83.7h0M337.1 81.7h0M300.9 84.5h0M304.6 83.8h0M372.7 86.7h0M370.4 78.4h0M302.2 84.6h0M374.1 80.6h0M363.9 83.5h0M331.6 84.2h0M371.1 85.1h0M309.7 80.8h0M320.7 83.4h0M314.6 78.8h0M323.1 78h0M374.8 84.7h0M317.3 82.6h0M322.1 77.3h0M327.3 79.9h0M357.1 82.9h0M343.2 88.1h0M374.4 86.4h0M333.5 85.5h0M318.5 76.7h0M338.9 82.5h0M352.9 84.4h0M327.7 84.1h0M359.1 84.2h0M399.1 82h0M336.7 88.8h0M352.9 87.8h0M386.9 82.5h0M334.9 79.5h0M329.7 89.8h0M323.3 80.9h0M362 86.9h0M365 89.3h0M347.8 79.6h0M352.7 83.8h0M384.7 81.6h0M374.1 84.6h0M315.1 83.9h0M351.2 89.4h0M354.2 84.8h0M370.1 82.8h0M345.6 86.6h0M334.6 81.9h0M339.4 81.6h0M305.1 90.4h0M350.6 80h0M335.8 81.1h0M363.4 83h0M324.6 79.2h0M339.9 75.6h0M325.8 86.4h0M323.5 80.1h0M369.4 81h0M339 81.5h0M362.7 79.5h0M322 79.1h0M353.6 83.3h0M307.1 91h0M338.6 85.3h0M337.9 85.3h0M366.1 77.7h0M355.7 82.7h0M346.4 78.8h0M372.7 85.4h0M355.9 82h0M364.9 82.9h0M370.8 82.5h0M349.2 80.8h0M343.3 77.6h0M359.4 84.8h0M340 78.1h0M360.9 78.8h0M379.6 81.8h0M373 80.4h0M340.9 83.7h0M317.5 86.2h0M349.4 83.6h0M347.6 83.5h0M379.5 82.9h0M340.9 85.7h0M345.4 76.5h0M369.9 84h0M338.4 79.6h0M346.7 78.6h0M395.3 82.8h0M389.5 81.5h0M367.1 84.8h0M357.7 86.5h0M365.3 82.6h0M352.3 89.5h0M356.5 85.7h0M337.3 87.7h0M350.5 83.1h0M346 77.9h0M359 79h0M387.8 85.2h0M360.2 86.1h0M307.7 80.3h0M325.6 81.9h0M309.7 83.7h0M330.2 76.8h0M365.3 81.6h0M361.2 88.3h0M335.2 90.2h0M357.7 82.4h0M331.1 89h0M313.9 81h0M314.3 80h0M328.5 75.2h0M387.6 86.1h0M316 81.5h0M383 90.8h0M385.2 83.9h0M346 83.4h0M349.5 76.7h0M334.8 87.9h0M350.1 81.6h0M367.8 82.3h0M350.9 75.3h0M376.6 86h0M381.5 86.2h0M359.6 80.7h0M359.2 83.1h0M349.1 84.1h0M359.7 86.1h0M321.8 83.2h0M361.2 88.7h0M356 82h0M328.3 80.7h0M328.1 80.1h0M357.9 86.2h0M300.4 83.7h0M330.1 80h0M311.1 84h0M325.6 75.9h0M347.2 81.8h0M358.9 84.6h0M379.3 85.2h0M371.5 80.2h0M381.4 85.9h0M365.9 89.2h0M338.5 81.4h0M379.5 85.3h0M337.9 77.5h0M334.7 76.1h0M390.3 84.9h0M371 83h0M356.3 83.5h0M370.1 80.8h0M373.4 81.8h0M315.2 85.6h0M348.1 88.7h0M320 82.1h0M353.7 77.2h0M333.1 87.2h0M385.8 84.9h0M364 85.1h0M329.5 83.4h0M350.1 90.7h0M319.1 83.1h0" stroke="#da54aa"/>
<path d="M409.1 70.3h0M352.3 70.6h0M382.9 68.6h0M380.3 71.9h0M396.1 69.2h0M405.1 68.8h0M378.8 77.4h0M438.3 73.9h0M371.2 75.4h0M386 71.6h0M402.5 74.6h0M366.7 74h0M410.5 75.5h0M412 79.3h0M389.7 70.7h0M442.6 72.3h0M398.7 71.3h0M373.7 66.9h0M356.6 71.5h0M381.6 73.6h0M389 69.6h0M385.8 75.2h0M415.2 75.7h0M369.5 76.2h0M352.9 77.3h0M429 73h0M383.2 68.2h0M384.4 76.3h0M370.3 70.9h0M418.4 70.2h0M386.9 71.9h0M402.1 69.7h0M347.9 75h0M424.9 74.1h0M406.3 75.5h0M410 73.4h0M426.5 68.9h0M392.2 71h0M392.8 74.4h0M414 70.2h0M390.9 70.7h0M397.9 69.6h0M384.7 75.3h0M414 74h0M419.3 71.4h0M396.9 70.7h0M442 72.9h0M359.9 74.3h0M391.2 74h0M438 70.5h0M386.7 72.9h0M358.4 74.3h0M430.4 74h0M368.1 68.6h0M415.5 68.9h0M372.2 70.7h0M364.6 72.1h0M393.2 74.5h0M385.3 73.5h0M370.4 71.1h0M388.1 71.6h0M372.7 77.3h0M398.3 69.5h0M396.3 72.5h0M414.8 76.7h0M385.9 72.6h0M364.8 64.8h0M365.1 72.7h0M390.9 70.2h0M433.8 71.1h0M417.3 75h0M381.4 73h0M419.5 70.6h0M369 74.4h0M421.2 72.9h0M387.7 71.8h0M415.4 72.5h0M411.8 72.3h0M390.2 70.4h0M404.8 70h0M371.2 71.6h0M395.1 68.4h0M422.9 67.3h0M413.8 70.7h0M399 71.4h0M372.5 71.1h0M422.4 71.6h0M357 71.6h0M377.6 71.7h0M405.5 68.8h0M367.9 74.6h0M434 69.2h0M423.2 74.9h0M383.2 65.2h0M383.5 68h0M365.1 74.8h0M363.2 71h0M407.5 69.3h0M411.9 72.7h0M405.4 68h0M403.3 71.8h0M383.4 64.2h0M405.6 70h0M361.5 69.4h0M397.1 73.3h0M432.4 74.4h0M428.7 68.7h0M385.7 76.8h0M388.8 69.5h0M430.1 64.7h0M439.9 63.6h0M360.9 76.6h0M386.6 71.2h0M402.5 69.4h0M426.2 69h0M376.7 67.9h0M412.4 76h0M389.7 71.2h0M407.3 70.8h0M393.7 63.7h0M388.8 74.3h0M422.3 70.3h0M413.3 70.7h0M370.8 76.7h0M402.1 70.6h0M364.7 75.3h0M378.7 71.5h0M365.7 69h0M365 73.2h0M380.4 69.5h0M373.3 75.6h0M409.6 74.7h0M416.1 71.7h0M391.2 73.5h0M370 73.4h0M416.3 70.6h0M348.1 74.5h0M350.4 70.7h0M414.5 73.5h0M412.7 68.4h0M420.4 71.8h0M391.7 72.9h0M366.5 68.9h0M384.6 70.1h0M410.6 69.7h0M378.5 73.9h0M380 69.1h0M363.3 73h0M368.9 76.5h0M417.2 72.7h0M407.9 66.2h0M368.9 71.9h0M370.9 75h0M383.4 70.6h0M410.1 75.2h0M368.8 73.6h0M392.9 72.9h0M366.6 69.8h0M407.1 70.7h0M418.6 71.7h0M369.1 73.3h0M378.3 72.9h0M416.2 70.5h0M387.5 71.7h0M383.9 72.8h0M409.4 66.2h0M401.7 69h0M423.7 68.9h0M416.1 70.9h0M383.1 70.6h0M394.1 70.7h0M395.5 68.7h0M364.3 73.8h0M373.5 72.5h0M420.4 66.1h0M358.7 71.6h0M420.9 67.8h0M403.8 77.2h0M393.6 70h0M409.9 70.3h0M408.4 71.8h0M426.1 70.9h0M387.3 71.4h0M391.5 76.7h0M391.1 72.3h0M442.3 74.3h0M419.8 75.3h0M374.7 68.3h0M389 77.1h0M380 73.8h0M397.3 74.7h0M402.2 68.7h0M353.1 72.9h0M421.8 69.8h0M407.5 79.1h0M380.1 73.4h0M393.4 70.8h0M385.1 72.2h0M398.3 74.6h0M421.3 75.3h0M360.5 73.5h0M428.7 75.6h0M388.1 76.4h0M433.2 67.5h0M407 70h0M426.8 68.5h0M410.7 71.9h0M423.2 76.3h0M398.5 73.7h0M377.1 68.1h0M413.3 70.6h0M414.2 75h0M447.7 69.8h0M348.9 71.2h0M392.4 72.6h0M422.7 65.6h0M367 74.1h0M391.7 72.7h0M448.1 73.4h0M431.3 68.3h0M376 69h0M431.5 69.6h0M425.7 72.4h0M415.9 71.8h0M406.4 72h0M403 77.5h0M376.3 75.9h0M384.8 69.2h0M414.9 69.4h0M400.6 77.2h0M441.7 70.5h0M389.2 76.1h0M389.2 69.8h0M404 70.7h0M406.5 71.8h0M398.9 68.7h0M377.5 68.3h0M433.2 70.2h0M381.3 74.4h0M414.4 70.1h0M390.4 70.9h0M368.6 70h0M431.3 67.1h0M376.9 63.8h0M407.8 69.4h0M388.8 73.4h0M415.4 67h0M395 73.6h0M386.5 75.7h0M449.3 68.7h0M392.1 72.3h0M393.6 67.9h0M371.4 73.2h0M379.5 71.9h0M413 72.3h0M411 76.1h0M397.5 73.1h0M380.7 76h0M414 73.7h0M356.6 67.6h0" stroke="#bf74cc"/>
<path d="M416.1 56.3h0M422.8 61.6h0M366.6 54.4h0M447.2 56.1h0M410.5 52.4h0M419.2 64.8h0M382.6 62.1h0M410.7 60.1h0M417.3 59.2h0M399.1 57.1h0M410.9 57.1h0M347.1 60.6h0M448.1 56.1h0M376.2 62.7h0M345.3 56.8h0M380.7 55.5h0M384.3 62.9h0M424.3 58h0M382 60.4h0M416.8 57.1h0M380.7 50.8h0M424.3 53.9h0M465.3 62.2h0M379.1 53.2h0M427.8 52.2h0M380.8 59.5h0M425.3 59.9h0M428.2 58.9h0M362.3 54.4h0M375.5 61.5h0M374.7 53.5h0M364.9 56.9h0M387.3 55.8h0M380.6 57.2h0M366.5 61.4h0M411.3 56.3h0M424.3 60.4h0M370.3 60.9h0M392.3 52.7h0M408.6 54.5h0M401.7 57.2h0M388.1 56.5h0M431.9 59.5h0M432.9 51.9h0M428.1 61h0M402.3 61h0M466 57.9h0M458.8 53.8h0M396.7 58.5h0M404.9 56.7h0M442.8 60.4h0M385.1 58.2h0M419.9 61h0M409.7 57h0M387.9 63.4h0M401.6 50.7h0M362.7 55h0M392.5 60.2h0M350.4 53.4h0M451.9 54.4h0M443.9 58.8h0M417 55.4h0M437.2 57h0M445.1 59.1h0M437.7 58.1h0M434.9 57.2h0M381.8 65.8h0M420.6 58.5h0M392.7 55.2h0M374 61.7h0M375.1 61.3h0M420.6 62.7h0M438.7 64.6h0M368.5 55.3h0M458.8 62.1h0M450.7 62.4h0M397.1 58.5h0M394.7 59.3h0M436.6 56.5h0M397 64.6h0M376 52.4h0M418 56.7h0M348.2 59.5h0M412.1 60.5h0M441.7 64h0M416.9 52.5h0M430.7 58.6h0M422.3 61.4h0M429.1 54h0M412.2 58.4h0M384 64.9h0M401.5 63h0M405.9 60.3h0M444.5 49.6h0M455.2 58.1h0M420.2 59.8h0M386.2 57.5h0M386.8 58.3h0M448.3 57.8h0M417.7 55.2h0M406.4 59.3h0M385.8 57.4h0M433.6 57.4h0M416.4 58.2h0M406.5 61.1h0M411 59.3h0M456.9 54.4h0M403.3 58h0M457 60.1h0M444 56.9h0M409.5 62.4h0M433.6 61.1h0M404.4 55.1h0M384 59.6h0M400.2 65.2h0M381.7 63.8h0M422.8 58.3h0M408.4 61.6h0M424.5 56.2h0M432 53.6h0M417 59.3h0M355.8 60.2h0M412.8 58.4h0M382.6 59.6h0M411 56.8h0M447.6 60.1h0M358.5 61.3h0M413.5 58.3h0M405.7 61.3h0M353.1 52.5h0M426.8 55.8h0M409 63.4h0M393.2 64.5h0M387.1 59.4h0M396.6 54.2h0M355.8 59.7h0M381 61.1h0M397.4 53.5h0M396.9 60.4h0M405.7 60.2h0M377.6 60h0M423.7 54.7h0M394 60.3h0M368.5 53.4h0M384.3 63.6h0M396.8 59h0M432.6 54.5h0M422.1 63.1h0M398.2 62.4h0M408.6 56.3h0M414.2 66h0M467.1 55.1h0M390.1 59.6h0M421.5 62.5h0M429.1 50.8h0M380.4 61.9h0M413.5 58.3h0M412.7 58.4h0M394.4 54.8h0M424.5 59.6h0M437.8 54.7h0M440.8 55.2h0M402.4 57h0M413.5 54.3h0M376 54h0M414.4 55.9h0M433.8 57.4h0M412.4 58.5h0M427 61.2h0M413 61.3h0M429.9 57.5h0M445.2 57.2h0M401.6 58.6h0M413.7 61.3h0M406.4 60.9h0M396.3 56.7h0M407.4 51.5h0M375.2 65.8h0M429.6 61.7h0M457.4 59.4h0M457.4 59.7h0M445 56.7h0M380 55.1h0M452.1 57.4h0M387.3 57.7h0M406.5 56.4h0M461.5 53.5h0M376.9 57.4h0M432.4 60.5h0M416.2 56.8h0M403.6 58.6h0M382.6 51.5h0M420.3 57.8h0M394.6 58.1h0M438.3 54.3h0M443.5 52.6h0M368 59.9h0M393.3 55.7h0M398.7 60.2h0M373.7 57.1h0M375.6 60.6h0M410.6 57.3h0M402 53.4h0M360.1 58.2h0M392.4 57.4h0M423 60.7h0M373 57h0M381.2 57.2h0M454 61.4h0M446.2 62.5h0M361 61.1h0M368.8 62h0M418.9 60h0M373.4 61.1h0M400.7 61.5h0M394.9 59.9h0M424.2 58.7h0M344.1 66.7h0M372.4 58.5h0M437.4 57.7h0M403.5 57.3h0M358.5 58.4h0M422.3 59.3h0M428.5 54.7h0M400.9 51.8h0M398.4 59.5h0M420.7 53h0M443.1 59.4h0M412.4 59h0M423.5 62.4h0M406.6 64.2h0M396.9 59.8h0M381.4 56.6h0M415.4 54.5h0M399.3 55.8h0M400.9 58.6h0M435 51.5h0M422.2 58.8h0M433.2 58.5h0M362.3 60.7h0M424.2 57.4h0M390.9 58.8h0M384.6 56h0M383.3 56.9h0M443.1 52.5h0M432 58.9h0M387.2 63.8h0M375 59.1h0M408.4 59.7h0M394.7 55.2h0M456.1 63.4h0M365.6 55.9h0M354.9 61.2h0M400.6 58.9h0M408.3 55.2h0M411.8 62h0M429.8 58.6h0M398.1 60h0M392.2 58.4h0M357 57.2h0M415.1 60.1h0M432.7 57.1h0M400.4 58.7h0M442.2 56.2h0M408.9 53.4h0M451.9 56.2h0M417.7 56.8h0M377.3 58.6h0M389.5 62.5h0M363.5 52.8h0M357.6 58.9h0M415.7 51h0M433.2 54.9h0M464.7 56.8h0M406.4 50.8h0M401.1 52.2h0M375.8 59h0M436.6 58.8h0M419.3 58.1h0M390.7 55.8h0M428 65.8h0M424.3 58h0M353.8 55.6h0M429.5 64.2h0M411.9 60.6h0M396.6 57.2h0M395.9 62.6h0M458.7 59h0M452.5 60.7h0M461 59.3h0M374.7 55h0" stroke="#8583d6"/>
<path d="M418.5 46.1h0M403 49.4h0M380.8 50.3h0M385.5 50.2h0M418.2 49.6h0M400.9 44.5h0M412.4 46.5h0M402.4 48.1h0M412.1 51.7h0M417.8 48.4h0M416.5 45.6h0M430.7 48h0M406.9 46.4h0M414.8 45.2h0M430.2 49h0M394.5 46.1h0M433 45.6h0M414.9 47.1h0M435 44.2h0M416.2 51.3h0M383.3 44.2h0M421.6 52.8h0M406.2 50.2h0M407.9 44.7h0M402.9 47.9h0M425.8 51h0M410.5 46.9h0M409.2 47.8h0M413.9 53.5h0M391.7 49.2h0M392.7 47.5h0M388.5 47.1h0M406.6 46.3h0M419.3 46.5h0M436 50.6h0M422.7 49.3h0M419.4 44.5h0M421.7 52.2h0M392.8 49.5h0M413.2 48.1h0M406.1 51.1h0M397.5 48.6h0M391.4 50.7h0M390.4 47.4h0M394.9 50.4h0M376.5 48.5h0M409.9 54h0M399.6 45.4h0M402 51.1h0M406.4 48.9h0M413.8 48h0M388.8 45.8h0M398 48.9h0M363.1 49.7h0M365.3 51.8h0M409 46.7h0M428.1 48.3h0M391.3 47.7h0M431 48.8h0M435.1 46.7h0M418 46.4h0M411.8 50.7h0M386.2 50.9h0M410 51.3h0M391.6 48.6h0M375.3 46.9h0M389.8 50h0M399.7 46.3h0M387.5 49.9h0M402.8 51.4h0M395.6 47.8h0M392.4 50.7h0M377.2 48.5h0M386.1 46.1h0M405.8 46.3h0M439.7 49.1h0M420.3 44.9h0M434.9 46.2h0M409.5 44.6h0M398.6 47.4h0M375.1 47.7h0M400.3 50.5h0M394.6 48h0M431.3 48.3h0M406.6 47.9h0M421.8 47.9h0M393.1 52.2h0M391.3 47h0M392.9 48.5h0M423.3 50.9h0M437.9 44.2h0M386.3 48.6h0M393.6 50.1h0M397.7 46.2h0M376.8 46.5h0M407.3 49.5h0M407.8 45h0M377.5 52.9h0M398.3 48h0M367.4 45.1h0M417.8 46h0M381.1 44.3h0M395.3 48.7h0M392 52h0M389.4 46.9h0M380.4 50.3h0M366.9 44.7h0M433.5 48.5h0M405.4 54.4h0M440.4 51.2h0M398.6 51.1h0M423.1 44.6h0M410.1 50.4h0M406.6 46.2h0M395.7 47h0M405.9 49.7h0M422.7 47.9h0M361.1 48.2h0M398.1 46.6h0M392.7 50.9h0M394.9 45.2h0M363.1 52.6h0M414.5 46.5h0M384.5 45.1h0M396.3 49.5h0M391 48.9h0M392.1 48.2h0M382.7 45h0M394.6 49.9h0M400.5 44.9h0M401.7 48.6h0M398 46.4h0M441.2 53.3h0M408.9 47.2h0M389 44.2h0M388.1 44.8h0M397.3 47.9h0M389.2 47.5h0M384.4 50.4h0M432 48h0M401.5 47.9h0M394.2 48.5h0M395.8 47.1h0M396.5 48.4h0M427.1 49.9h0M409.7 49.9h0M422 45.9h0M406.8 45.1h0M420.8 48.3h0M401.2 46.1h0M368 48.8h0M411.9 45.8h0M366.6 52.7h0M388.9 51.6h0M420.7 46.7h0M423.5 51.5h0M414.4 51.4h0M378.5 44.7h0M399.2 46.7h0M425.7 47.7h0M417.6 47.5h0M402.4 50.7h0M399.4 48.1h0M404 46.7h0M364.9 52.1h0M419.6 44.8h0M418.1 50.4h0M393.3 46.6h0M400.5 48.1h0M406.5 47.6h0M430.6 47.8h0M409 47.3h0M401.6 45.1h0M391.1 45.7h0M372.2 48.8h0M389.5 47.1h0M396 45.3h0M402.3 45.4h0M415 47.3h0M409.1 48h0M406.1 47.7h0M413.3 45.5h0M404.4 47.5h0M368 47.3h0M376.4 44.6h0M401.1 49.3h0M401.6 48.2h0M383 45.9h0M403.2 48.8h0M402.5 48.5h0M420 49.7h0M416.5 52.9h0M405.3 48.2h0M371.5 48.2h0M393.3 47h0M403 47.7h0M435.1 46.3h0M408.3 44.7h0M399.2 53.3h0M398.9 48.1h0M400.5 48.7h0M404 47.8h0M372.6 44.5h0M419.2 46.8h0M409.1 46h0M379.3 47.2h0M405.1 46.1h0M427.6 45.7h0M388.9 49.4h0M409 48.6h0M370.7 45.5h0M392.6 47.5h0M388 48h0M395.8 44.4h0M390.6 45h0M407.4 44.7h0M396.9 47.8h0M389.7 49.5h0" stroke="#7fbbea"/>
<path d="M46.4 54.4h0M146 58.3h0M141.8 66.7h0M145.7 65.7h0M175.5 56.7h0M293.3 66.4h0" stroke="#8583d6"/>
<path d="M105.2 68h0M108.7 66.7h0" stroke="#da54aa"/>
<path d="M417 102.6h0M424 102.6h0M426.5 102.8h0M356 113h0M381 112h0M463 108.4h0M465 108.4h0M467 108.4h0M469 108.6h0M471 108.6h0M473 109.5h0M475 109.5h0M476.5 109.8h0M332 121h0M334 121h0" stroke="#f2b21e"/>
<path d="M341 140h0M448 126h0M404 142.3h0M419.5 153h0M277 147h0M283 144h0" stroke="#1fb2d2"/>
<path d="M71.6 130.2h0M82.9 133.4h0" stroke="#2fb862"/>
<path d="M89.2 132.7h0M245 99.7h0" stroke="#e9da55"/>
</g>
<line x1="37.6" y1="43.8" x2="42.3" y2="43.8" stroke="#555" stroke-width="0.9"/>
<text x="35.4" y="47.9" font-size="13.2" text-anchor="end" textLength="12.8" lengthAdjust="spacingAndGlyphs">10</text>
<line x1="37.6" y1="101.8" x2="42.3" y2="101.8" stroke="#555" stroke-width="0.9"/>
<text x="35.4" y="105.9" font-size="13.2" text-anchor="end" textLength="6.4" lengthAdjust="spacingAndGlyphs">5</text>
<line x1="37.6" y1="160.8" x2="42.3" y2="160.8" stroke="#555" stroke-width="0.9"/>
<text x="35.4" y="164.9" font-size="13.2" text-anchor="end" textLength="6.4" lengthAdjust="spacingAndGlyphs">1</text>
<text font-size="15.4" text-anchor="middle" textLength="26.3" lengthAdjust="spacingAndGlyphs" transform="translate(13.9 101.5) rotate(-90)">Cell</text>
<line x1="42.6" y1="160.9" x2="42.6" y2="165.1" stroke="#555" stroke-width="0.9"/>
<text x="42.6" y="177.6" font-size="13.2" text-anchor="middle" textLength="6.4" lengthAdjust="spacingAndGlyphs">0</text>
<line x1="120.7" y1="160.9" x2="120.7" y2="165.1" stroke="#555" stroke-width="0.9"/>
<text x="120.7" y="177.6" font-size="13.2" text-anchor="middle" textLength="12.8" lengthAdjust="spacingAndGlyphs">50</text>
<line x1="198.7" y1="160.9" x2="198.7" y2="165.1" stroke="#555" stroke-width="0.9"/>
<text x="198.7" y="177.6" font-size="13.2" text-anchor="middle" textLength="19.2" lengthAdjust="spacingAndGlyphs">100</text>
<line x1="276.8" y1="160.9" x2="276.8" y2="165.1" stroke="#555" stroke-width="0.9"/>
<text x="276.8" y="177.6" font-size="13.2" text-anchor="middle" textLength="19.2" lengthAdjust="spacingAndGlyphs">150</text>
<line x1="354.8" y1="160.9" x2="354.8" y2="165.1" stroke="#555" stroke-width="0.9"/>
<text x="354.8" y="177.6" font-size="13.2" text-anchor="middle" textLength="19.2" lengthAdjust="spacingAndGlyphs">200</text>
<line x1="432.9" y1="160.9" x2="432.9" y2="165.1" stroke="#555" stroke-width="0.9"/>
<text x="432.9" y="177.6" font-size="13.2" text-anchor="middle" textLength="19.2" lengthAdjust="spacingAndGlyphs">250</text>
<text x="199" y="192.6" font-size="15.2" textLength="133.5" lengthAdjust="spacingAndGlyphs">Position on track (cm)</text>
<line x1="42.2" y1="202.6" x2="478.2" y2="202.6" stroke="#555" stroke-width="0.9"/>
<line x1="42.6" y1="202.6" x2="42.6" y2="206.8" stroke="#555" stroke-width="0.9"/>
<text x="42.6" y="219.8" font-size="13.2" text-anchor="middle" textLength="6.4" lengthAdjust="spacingAndGlyphs">0</text>
<line x1="120.7" y1="202.6" x2="120.7" y2="206.8" stroke="#555" stroke-width="0.9"/>
<text x="120.7" y="219.8" font-size="13.2" text-anchor="middle" textLength="16" lengthAdjust="spacingAndGlyphs">1.1</text>
<line x1="198.7" y1="202.6" x2="198.7" y2="206.8" stroke="#555" stroke-width="0.9"/>
<text x="198.7" y="219.8" font-size="13.2" text-anchor="middle" textLength="16" lengthAdjust="spacingAndGlyphs">1.8</text>
<line x1="276.8" y1="202.6" x2="276.8" y2="206.8" stroke="#555" stroke-width="0.9"/>
<text x="276.8" y="219.8" font-size="13.2" text-anchor="middle" textLength="16" lengthAdjust="spacingAndGlyphs">2.6</text>
<line x1="354.8" y1="202.6" x2="354.8" y2="206.8" stroke="#555" stroke-width="0.9"/>
<text x="354.8" y="219.8" font-size="13.2" text-anchor="middle" textLength="16" lengthAdjust="spacingAndGlyphs">4.0</text>
<line x1="432.9" y1="202.6" x2="432.9" y2="206.8" stroke="#555" stroke-width="0.9"/>
<text x="432.9" y="219.8" font-size="13.2" text-anchor="middle" textLength="16" lengthAdjust="spacingAndGlyphs">5.0</text>
<text x="237.5" y="235" font-size="15.2" textLength="46.5" lengthAdjust="spacingAndGlyphs">Time (s)</text>
<rect x="529.6" y="43.4" width="154" height="117.5" fill="#0b1013"/>
<text x="503.2" y="23.8" font-size="13.2" textLength="20.2" lengthAdjust="spacingAndGlyphs">LFP</text>
<path d="M529.7 29.9L530.1 30.2L530.7 30.5L531.4 31L532 31.5L532.4 32.1L532.7 32.8L533 33.5L533.3 34.2L533.6 34.8L533.9 35L534.3 34.7L534.7 33.9L535.1 33L535.5 32.7L535.7 33L535.9 33.7L536.1 34.5L536.3 35.3L536.5 36L536.7 36.2L537 36.1L537.3 35.7L537.6 35.1L537.9 34.4L538.2 33.6L538.6 32.7L538.7 32.2L538.9 31.6L539 30.9L539.2 30.2L539.3 29.4L539.5 28.7L539.6 28L539.7 27.3L539.9 26.7L540 26.1L540.2 25.7L540.7 24.7L541.3 24.4L541.8 24.5L542.3 25L542.7 25.8L543.2 26.6L543.7 26.9L544 26.6L544.3 25.9L544.6 25.1L545 24.4L545.3 23.7L545.6 23.4L546 23.3L546.4 23.7L546.8 24.3L547.2 25.2L547.3 25.7L547.4 26.4L547.6 27.3L547.7 28.1L547.8 29L547.9 29.8L548 30.6L548.1 31.1L548.2 31.5L548.4 31.5L548.5 31.4L548.6 31L548.8 30.5L548.9 29.9L549 29.1L549.2 28.3L549.3 27.5L549.5 26.7L549.7 25.8L549.8 25.1L550 24.4L550.1 23.8L550.2 23.4L550.8 22.2L551.3 21.7L551.9 22.2L552 22.6L552.2 23.2L552.3 24L552.5 24.9L552.6 25.9L552.7 26.8L552.9 27.7L553 28.4L553.2 29L553.3 29.2L553.5 29.2L553.6 29L553.7 28.7L553.8 28.2L553.9 27.6L554 27L554.1 26.2L554.2 25.4L554.3 24.6L554.4 23.7L554.5 22.9L554.6 22L554.7 21.2L554.8 20.4L554.9 19.7L555 19L555.1 18.5L555.2 18L555.3 17.7L555.4 17.5L555.5 17.5L555.7 17.9L555.8 18.4L556 19.1L556.1 20L556.2 21L556.4 22L556.5 22.9L556.7 23.8L556.8 24.6L557 25.2L557.1 25.6L557.2 25.7L557.4 25.5L557.5 25.2L557.6 24.6L557.7 23.9L557.8 23.1L557.9 22.2L558 21.3L558.1 20.3L558.2 19.4L558.3 18.6L558.4 17.8L558.5 17.2L558.7 16.7L558.8 16.4L558.9 16.4L559 16.5L559.1 16.8L559.2 17.3L559.3 17.9L559.4 18.6L559.5 19.3L559.6 20.2L559.7 21L559.8 22L559.9 22.9L560 23.8L560.1 24.6L560.2 25.4L560.3 26.2L560.4 26.8L560.5 27.3L560.6 27.7L560.7 28L560.7 28L560.8 27.9L560.9 27.7L561 27.2L561.1 26.7L561.2 26.1L561.2 25.3L561.3 24.5L561.4 23.7L561.5 22.8L561.5 21.9L561.6 20.9L561.7 20L561.8 19.1L561.8 18.3L561.9 17.5L562 16.8L562.1 16.2L562.2 15.8L562.2 15.4L562.3 15.2L562.4 15.2L562.4 15.3L562.5 15.5L562.6 15.9L562.6 16.4L562.7 17L562.8 17.6L562.8 18.3L562.9 19.1L563 19.9L563 20.8L563.1 21.7L563.2 22.6L563.2 23.5L563.3 24.4L563.3 25.3L563.4 26.2L563.5 27L563.5 27.7L563.6 28.4L563.7 29L563.7 29.5L563.8 29.9L563.9 30.2L563.9 30.3L564 30.4L564.1 30.3L564.1 30.1L564.2 29.8L564.3 29.4L564.3 28.9L564.4 28.3L564.5 27.7L564.5 27L564.6 26.2L564.6 25.4L564.7 24.6L564.8 23.7L564.8 22.9L564.9 22L565 21.1L565 20.2L565.1 19.3L565.2 18.5L565.2 17.7L565.3 16.9L565.4 16.1L565.4 15.5L565.5 14.8L565.6 14.3L565.6 13.8L565.7 13.4L565.8 13.1L565.8 12.9L565.9 12.9L566 12.9L566 13.1L566.1 13.4L566.2 13.7L566.2 14.2L566.3 14.8L566.4 15.5L566.4 16.2L566.5 16.9L566.6 17.8L566.7 18.6L566.7 19.5L566.8 20.4L566.9 21.3L566.9 22.2L567 23.1L567.1 24L567.2 24.8L567.2 25.6L567.3 26.3L567.4 27L567.4 27.6L567.5 28.1L567.6 28.6L567.6 28.9L567.7 29.1L567.8 29.2L567.8 29.2L567.9 29L568 28.7L568 28.3L568.1 27.8L568.2 27.2L568.2 26.5L568.3 25.8L568.4 25L568.4 24.1L568.5 23.3L568.6 22.4L568.6 21.5L568.7 20.6L568.8 19.7L568.8 18.9L568.9 18.1L569 17.3L569 16.6L569.1 16L569.2 15.5L569.2 15L569.3 14.7L569.4 14.5L569.5 14.4L569.7 14.5L569.8 14.9L570 15.5L570.1 16.3L570.3 17.1L570.4 18L570.5 18.9L570.7 19.8L570.8 20.6L571 21.3L571.1 21.9L571.3 22.2L571.7 22.2L572.1 21.3L572.5 20.3L572.9 19.9L573.2 20.2L573.4 20.8L573.7 21.6L574 22.4L574.2 23.1L574.5 23.4L575 23.1L575.5 22.3L575.9 21.4L576.4 21L576.9 21.4L577.4 22.3L577.8 23.2L578.3 23.4L578.5 23L578.7 22.3L578.9 21.5L579.1 20.5L579.3 19.6L579.5 19L579.7 18.6L579.9 18.7L580 18.9L580.1 19.3L580.2 19.8L580.3 20.4L580.4 21.1L580.6 21.9L580.7 22.7L580.8 23.5L580.9 24.4L581 25.2L581.1 26L581.2 26.8L581.3 27.5L581.5 28.1L581.6 28.6L581.7 29L581.8 29.2L582 29.3L582.2 29L582.4 28.3L582.6 27.5L582.8 26.5L583 25.6L583.2 24.9L583.4 24.5L584 24.2L584.7 24.5L585.3 25.7L585.4 26.1L585.5 26.7L585.6 27.3L585.7 28.1L585.8 28.9L586 29.7L586.1 30.6L586.2 31.5L586.3 32.3L586.4 33L586.5 33.7L586.6 34.2L586.7 34.7L586.8 34.9L586.9 35L587 34.9L587.1 34.6L587.2 34.1L587.3 33.5L587.5 32.8L587.6 32L587.7 31.1L587.8 30.2L587.9 29.3L588 28.5L588.1 27.7L588.2 27L588.3 26.4L588.4 26L588.6 25.7L588.8 25.7L589 26L589.2 26.7L589.5 27.6L589.7 28.5L589.9 29.3L590.2 30L590.4 30.4L590.9 30.3L591.4 29.6L591.8 28.9L592.3 28.5L592.7 28.8L593.1 29.4L593.5 30L593.9 30.4L594.5 30.1L595 29.4L595.6 29.2L596 29.5L596.5 30.1L597 30.8L597.4 31.5L597.7 32.1L598 32.8L598.2 33.6L598.5 34.4L598.8 35L599 35.4L599.3 35.5L599.5 35.3L599.7 34.7L599.9 33.9L600.1 33L600.3 32.2L600.5 31.3L600.7 30.7L600.9 30.4L601.3 30.6L601.8 31.4L602.2 32.3L602.6 32.7L602.9 32.4L603.1 31.6L603.4 30.8L603.7 30.1L604 29.9L604.2 30.2L604.4 30.9L604.7 31.8L604.9 32.7L605.1 33.4L605.4 33.9L605.6 33.9L605.7 33.6L605.9 33.2L606 32.6L606.1 31.8L606.2 31L606.4 30.2L606.5 29.3L606.6 28.5L606.8 27.7L606.9 27L607 26.4L607.1 25.9L607.2 25.7L607.4 25.8L607.6 26.3L607.8 27.1L607.9 28L608.1 29L608.3 29.8L608.5 30.3L608.6 30.4L608.8 30.1L608.9 29.7L609 29L609.1 28.3L609.2 27.4L609.4 26.5L609.5 25.6L609.6 24.7L609.8 23.9L609.9 23.2L610 22.7L610.1 22.3L610.3 22.2L610.4 22.3L610.6 22.7L610.7 23.3L610.8 24.1L611 25L611.1 25.9L611.3 26.9L611.4 27.8L611.6 28.7L611.7 29.4L611.9 30L612 30.3L612.1 30.4L612.3 30.2L612.4 29.9L612.4 29.4L612.5 28.8L612.6 28.1L612.7 27.3L612.8 26.4L612.9 25.6L613 24.7L613.1 23.8L613.2 22.9L613.3 22.2L613.4 21.4L613.5 20.8L613.6 20.4L613.7 20L613.8 19.9L613.9 19.9L614.1 20.3L614.2 20.9L614.4 21.6L614.5 22.5L614.6 23.5L614.8 24.5L614.9 25.5L615.1 26.4L615.2 27.1L615.4 27.7L615.5 28L615.7 28L615.7 27.9L615.8 27.5L615.9 27.1L616 26.5L616.1 25.8L616.2 25.1L616.3 24.2L616.3 23.4L616.4 22.5L616.5 21.6L616.6 20.7L616.7 19.9L616.8 19.1L616.8 18.4L616.9 17.7L617 17.2L617.1 16.7L617.2 16.5L617.3 16.4L617.4 16.4L617.5 16.7L617.6 17.2L617.7 17.9L617.8 18.6L617.9 19.5L618.1 20.4L618.2 21.4L618.3 22.3L618.4 23.3L618.5 24.2L618.6 25L618.7 25.7L618.8 26.3L618.9 26.7L619.1 26.9L619.2 26.9L619.2 26.7L619.3 26.4L619.4 26.1L619.4 25.6L619.5 25L619.5 24.4L619.6 23.7L619.7 22.9L619.7 22.1L619.8 21.3L619.9 20.4L619.9 19.5L620 18.6L620 17.8L620.1 16.9L620.2 16.1L620.2 15.3L620.3 14.5L620.3 13.8L620.4 13.1L620.5 12.6L620.5 12.1L620.6 11.7L620.7 11.4L620.7 11.3L620.8 11.2L620.9 11.3L620.9 11.5L621 11.8L621.1 12.2L621.1 12.7L621.2 13.2L621.3 13.8L621.3 14.5L621.4 15.3L621.5 16L621.5 16.9L621.6 17.7L621.7 18.6L621.7 19.5L621.8 20.3L621.9 21.2L621.9 22.1L622 22.9L622.1 23.7L622.1 24.4L622.2 25.2L622.3 25.8L622.3 26.4L622.4 26.9L622.5 27.3L622.5 27.7L622.6 27.9L622.7 28L622.7 28L622.8 27.8L622.9 27.5L623 26.9L623.1 26.3L623.1 25.5L623.2 24.7L623.3 23.8L623.4 22.8L623.4 21.8L623.5 20.9L623.6 19.9L623.7 18.9L623.7 18.1L623.8 17.3L623.9 16.5L624 16L624.1 15.5L624.1 15.2L624.2 15.1L624.3 15.2L624.3 15.3L624.4 15.6L624.5 15.9L624.5 16.3L624.6 16.8L624.6 17.3L624.7 17.9L624.7 18.5L624.8 19.2L624.8 19.9L624.9 20.7L624.9 21.5L625 22.3L625 23.1L625.1 24L625.2 24.8L625.2 25.7L625.3 26.6L625.3 27.4L625.4 28.3L625.4 29.1L625.5 29.9L625.5 30.7L625.6 31.5L625.6 32.2L625.7 32.9L625.8 33.5L625.8 34.1L625.9 34.6L625.9 35.1L626 35.4L626 35.8L626.1 36L626.1 36.2L626.2 36.2L626.2 36.2L626.3 36L626.3 35.8L626.4 35.5L626.4 35.1L626.5 34.7L626.5 34.1L626.6 33.5L626.6 32.9L626.7 32.2L626.7 31.4L626.8 30.6L626.8 29.8L626.9 29L626.9 28.1L627 27.2L627 26.4L627.1 25.5L627.1 24.6L627.2 23.7L627.2 22.9L627.2 22.1L627.3 21.3L627.3 20.5L627.4 19.8L627.4 19.1L627.5 18.5L627.5 18L627.6 17.5L627.6 17.1L627.7 16.8L627.8 16.5L627.8 16.4L627.9 16.3L628 16.4L628.1 16.6L628.1 17.1L628.2 17.6L628.3 18.2L628.4 19L628.5 19.8L628.6 20.6L628.7 21.5L628.8 22.4L628.9 23.4L629 24.3L629.1 25.2L629.1 26L629.2 26.8L629.3 27.5L629.4 28.1L629.5 28.6L629.6 29L629.7 29.2L629.8 29.3L630 29L630.1 28.4L630.3 27.6L630.4 26.7L630.6 25.7L630.7 24.7L630.9 23.8L631 23L631.2 22.5L631.3 22.2L631.5 22.3L631.7 22.8L631.9 23.5L632.1 24.4L632.3 25.3L632.5 26.1L632.7 26.7L632.9 26.9L633.1 26.7L633.3 26.2L633.5 25.6L633.8 24.8L634 23.9L634.2 23.1L634.4 22.4L634.6 21.8L634.8 21.5L635.3 21.5L635.8 22.2L636.2 22.9L636.7 23.4L637.2 23L637.8 22.4L638.3 22.2L638.6 22.7L639 23.5L639.3 24.3L639.6 25L640 25.2L640.2 25L640.5 24.4L640.7 23.6L641 22.8L641.3 22L641.6 21.3L641.8 21L642.3 21.3L642.8 22.1L643.2 23L643.7 23.4L644.1 23L644.5 22.1L644.9 21.3L645.3 21L645.6 21.3L645.9 22L646.1 22.8L646.4 23.6L646.7 24.2L647 24.5L647.4 24.2L647.9 23.4L648.3 22.6L648.8 22.2L649.3 22.4L649.8 23L650.2 23.7L650.7 24.3L651.2 24.5L651.7 24.1L652.1 23.3L652.6 22.5L653 22.2L653.3 22.5L653.6 23.2L653.9 24.1L654.1 24.9L654.4 25.5L654.7 25.7L654.9 25.4L655.1 24.8L655.4 24L655.6 23.1L655.8 22.3L656.1 21.7L656.3 21.5L656.5 21.7L656.8 22.1L657 22.7L657.2 23.5L657.5 24.2L657.7 25L657.9 25.7L658.2 26.2L658.7 26.8L659.1 27.2L659.6 27.5L660 28L660.3 28.6L660.6 29.4L660.9 30.2L661.1 30.9L661.4 31.4L661.7 31.5L661.9 31.3L662.1 30.9L662.3 30.3L662.5 29.5L662.7 28.8L662.9 28L663.1 27.4L663.3 26.9L663.8 26.3L664.2 25.9L664.7 25.6L665.2 25.2L665.7 24.7L666.1 24.1L666.6 23.6L667.1 23.4L667.6 23.6L668.2 24.2L668.7 24.5L669.2 24.2L669.8 23.5L670.3 22.9L670.9 22.5L671.6 22.2L672.2 22.2L672.7 22.5L673.1 23.1L673.6 23.7L674.1 24.1L674.9 23.8L675.7 23.4L676.2 23.5L676.8 23.8L677.4 24.2L678 24.5L678.6 24.8L679.2 25.2L679.8 25.5L680.4 25.7L681.2 25.9L682.1 26.1L682.7 26.2" fill="none" stroke="#4b5d8c" stroke-width="0.95" stroke-linejoin="round"/>
<line x1="584.6" y1="2.3" x2="573.6" y2="12.9" stroke="#3a4c73" stroke-width="1.3"/>
<path d="M573 13.5L578.5 11L575.6 8.1Z" fill="#3a4c73" stroke="none" stroke-width="1"/>
<line x1="635.5" y1="0" x2="624.3" y2="10.5" stroke="#3a4c73" stroke-width="1.3"/>
<path d="M623.7 11L629.2 8.7L626.4 5.7Z" fill="#3a4c73" stroke="none" stroke-width="1"/>
<path d="M552.7 105.2V112.9M556.8 105.2V112.9M560.3 105.2V112.9M563.8 105.2V112.9M580.8 105.2V112.9M592.7 105.2V112.9" fill="none" stroke="#e9a935" stroke-width="1.5"/>
<path d="M550.7 114.8V122.2M562.1 114.8V122.2M565.6 114.8V122.2" fill="none" stroke="#e3d04c" stroke-width="1.5"/>
<path d="M607 86.2V93.5M610.5 86.2V93.5" fill="none" stroke="#d858b0" stroke-width="1.5"/>
<path d="M617 76.8V84.7M623.4 76.8V84.7M628.1 76.8V84.7" fill="none" stroke="#c577c6" stroke-width="1.5"/>
<path d="M633.9 67.7V75.4" fill="none" stroke="#8a88d6" stroke-width="1.5"/>
<path d="M672.2 58.4V65.8" fill="none" stroke="#86b6e6" stroke-width="1.5"/>
<line x1="525.6" y1="43.8" x2="529.6" y2="43.8" stroke="#555" stroke-width="0.9"/>
<text x="523.4" y="47.9" font-size="13.2" text-anchor="end" textLength="12.8" lengthAdjust="spacingAndGlyphs">10</text>
<line x1="525.6" y1="101.7" x2="529.6" y2="101.7" stroke="#555" stroke-width="0.9"/>
<text x="523.4" y="105.8" font-size="13.2" text-anchor="end" textLength="6.4" lengthAdjust="spacingAndGlyphs">5</text>
<line x1="525.6" y1="160.8" x2="529.6" y2="160.8" stroke="#555" stroke-width="0.9"/>
<text x="523.4" y="164.9" font-size="13.2" text-anchor="end" textLength="6.4" lengthAdjust="spacingAndGlyphs">1</text>
<text font-size="15.4" text-anchor="middle" textLength="25.5" lengthAdjust="spacingAndGlyphs" transform="translate(507.6 100.8) rotate(-90)">Cell</text>
<line x1="530.9" y1="160.9" x2="530.9" y2="165.1" stroke="#555" stroke-width="0.9"/>
<text x="530.9" y="178.2" font-size="13.2" text-anchor="middle" textLength="6.4" lengthAdjust="spacingAndGlyphs">0</text>
<line x1="578.1" y1="160.9" x2="578.1" y2="165.1" stroke="#555" stroke-width="0.9"/>
<text x="578.1" y="178.2" font-size="13.2" text-anchor="middle" textLength="12.8" lengthAdjust="spacingAndGlyphs">50</text>
<line x1="625.3" y1="160.9" x2="625.3" y2="165.1" stroke="#555" stroke-width="0.9"/>
<text x="625.3" y="178.2" font-size="13.2" text-anchor="middle" textLength="19.2" lengthAdjust="spacingAndGlyphs">100</text>
<line x1="672.5" y1="160.9" x2="672.5" y2="165.1" stroke="#555" stroke-width="0.9"/>
<text x="672.5" y="178.2" font-size="13.2" text-anchor="middle" textLength="19.2" lengthAdjust="spacingAndGlyphs">150</text>
<text x="576" y="192.8" font-size="15.2" textLength="60.8" lengthAdjust="spacingAndGlyphs">Time (ms)</text>
</g>
<g id="panel_b">
<text x="4" y="261" font-size="15.5" font-weight="bold">b</text>
<defs><filter id="bl1" x="-20%" y="-20%" width="140%" height="140%"><feGaussianBlur stdDeviation="1.05"/></filter><filter id="bl2" x="-30%" y="-30%" width="160%" height="160%"><feGaussianBlur stdDeviation="1.8"/></filter><filter id="bl3" x="-30%" y="-30%" width="160%" height="160%"><feGaussianBlur stdDeviation="3"/></filter><filter id="blr" x="-20%" y="-20%" width="140%" height="140%"><feGaussianBlur stdDeviation="0.45"/></filter><radialGradient id="gA" cx="50%" cy="50%" r="55%"><stop offset="0" stop-color="#f4f4f4"/><stop offset="0.62" stop-color="#e2e2e2"/><stop offset="0.86" stop-color="#b4b4b4"/><stop offset="1" stop-color="#6e6e6e"/></radialGradient><radialGradient id="gB" cx="50%" cy="42%" r="60%"><stop offset="0" stop-color="#ededed"/><stop offset="0.6" stop-color="#d6d6d6"/><stop offset="0.88" stop-color="#a8a8a8"/><stop offset="1" stop-color="#6a6a6a"/></radialGradient></defs>
<rect x="42.2" y="262.4" width="82.9" height="208.9" fill="#050708"/>
<clipPath id="cb1"><path d="M47.9 301.4L47.3 299.9L46.5 297.9L45.6 295.6L45 293.5L44.6 290.9L44.4 288.3L44.6 285.6L45 283.3L45.5 281L46.3 278.6L47.2 276.4L48.4 274.4L49.8 272.5L51.4 270.7L53.1 269.2L54.7 268L56.5 267L58.3 266L60.3 265.2L62.3 264.6L64.5 264.1L66.8 263.7L69.2 263.4L71.7 263.3L74.2 263.3L76.3 263.3L78.4 263.5L80.7 263.7L82.9 264L85.1 264.4L87.3 264.8L89.5 265.4L91.7 266L94 266.7L96.2 267.5L98.3 268.3L100.4 269.2L102.5 270.1L104.6 271.2L106.6 272.3L108.6 273.4L110.5 274.6L112.3 275.7L114.3 277.2L116.1 278.6L117.9 280.1L119.5 281.6L120.8 283L122.7 285.3L124.1 287.5L124.8 289.5L124.2 292.4L122.1 294.8L120.5 295.7L118.4 296.3L116.1 296.9L113.6 297.4L111.4 297.9L109 298.3L106.5 298.7L104 299.1L101.8 299.4L99.2 299.7L96.8 299.9L94.5 300.2L92.6 300.7L90.5 301.8L88.8 303.1L87.3 304.6L86 306.4L84.9 308.2L83.4 309.9L81.7 311.1L79.8 312.2L77.7 313.2L75.5 313.8L73.5 314.2L71.4 314.3L69.2 314.3L67 314.2L65 313.8L63 313.3L61 312.6L59.1 311.7L57.3 310.8L55.8 309.9L53.8 308.6L52.4 307.3L51.2 306L49.2 303.4L47.9 301.4Z"/></clipPath>
<g filter="url(#bl1)"><g clip-path="url(#cb1)">
<path d="M47.9 301.4L47.3 299.9L46.5 297.9L45.6 295.6L45 293.5L44.6 290.9L44.4 288.3L44.6 285.6L45 283.3L45.5 281L46.3 278.6L47.2 276.4L48.4 274.4L49.8 272.5L51.4 270.7L53.1 269.2L54.7 268L56.5 267L58.3 266L60.3 265.2L62.3 264.6L64.5 264.1L66.8 263.7L69.2 263.4L71.7 263.3L74.2 263.3L76.3 263.3L78.4 263.5L80.7 263.7L82.9 264L85.1 264.4L87.3 264.8L89.5 265.4L91.7 266L94 266.7L96.2 267.5L98.3 268.3L100.4 269.2L102.5 270.1L104.6 271.2L106.6 272.3L108.6 273.4L110.5 274.6L112.3 275.7L114.3 277.2L116.1 278.6L117.9 280.1L119.5 281.6L120.8 283L122.7 285.3L124.1 287.5L124.8 289.5L124.2 292.4L122.1 294.8L120.5 295.7L118.4 296.3L116.1 296.9L113.6 297.4L111.4 297.9L109 298.3L106.5 298.7L104 299.1L101.8 299.4L99.2 299.7L96.8 299.9L94.5 300.2L92.6 300.7L90.5 301.8L88.8 303.1L87.3 304.6L86 306.4L84.9 308.2L83.4 309.9L81.7 311.1L79.8 312.2L77.7 313.2L75.5 313.8L73.5 314.2L71.4 314.3L69.2 314.3L67 314.2L65 313.8L63 313.3L61 312.6L59.1 311.7L57.3 310.8L55.8 309.9L53.8 308.6L52.4 307.3L51.2 306L49.2 303.4L47.9 301.4Z" fill="#a9a9a9" stroke="none" stroke-width="1"/>
<ellipse cx="65" cy="301.4" rx="24" ry="13.5" fill="#d9d9d9" transform="rotate(-20 65 301.4)"/>
<ellipse cx="54.5" cy="296.1" rx="9" ry="10" fill="#d0d0d0"/>
<path d="M49.2 280.3L49.9 279L50.9 277.2L52.1 275L53.5 272.8L55.1 270.7L57.1 269.2L58.8 268.3L60.7 267.5L62.8 266.9L65 266.3L67.3 265.9L69.6 265.6L71.9 265.4L74.2 265.2L76.2 265.2L78.2 265.3L80.3 265.4L82.4 265.7L84.5 266L86.6 266.4L88.6 266.8L90.6 267.3L92.6 267.9L94.7 268.5L96.8 269.3L98.9 270.2L100.9 271.1L102.9 272.1L104.8 273.1L106.6 274.1L108.3 275.1L110.5 276.4L112.5 277.9L114.3 279.4L116 280.8L117.5 282.3L118.8 283.6L120.3 285.7L121.3 287.8L122 289.6L122.5 290.9" fill="none" stroke="#cbcbcb" stroke-width="3.0" stroke-linecap="round" stroke-linejoin="round"/>
<path d="M76.8 270.5L78.2 270.6L80.2 270.8L82.6 270.9L85.2 271.2L87.8 271.5L90.3 271.9L92.6 272.5L94.6 273.1L96.6 274L98.6 274.9L100.4 275.9L102.3 277L104 278L105.7 279L107.6 280.2L109.5 281.4L111.3 282.7L113 283.9L114.4 285.1L115.6 286.3L116.9 288.5L117.3 290.7L117.5 292.2" fill="none" stroke="#8f8f8f" stroke-width="2.6" stroke-linecap="round" stroke-linejoin="round"/>
<path d="M79.4 275.1L80.9 275.2L82.9 275.3L85.3 275.4L87.8 275.6L90.3 275.9L92.6 276.4L94.7 277L96.7 277.8L98.8 278.7L100.8 279.7L102.7 280.7L104.4 281.7L106.3 283L108.2 284.5L109.9 286L111.3 287.3L112.3 288.2" fill="none" stroke="#c4c4c4" stroke-width="2.2" stroke-linecap="round" stroke-linejoin="round"/>
<path d="M86.6 284.9L88.1 284.4L90.1 283.6L92.6 283L94.6 282.7L97 282.6L99.4 282.6L101.8 282.7L104.1 283.1L106.4 283.7L108.6 284.3L110.3 284.9L112.6 286.1L113.6 287.2L112.5 288.2L111 289" fill="none" stroke="#ffffff" stroke-width="1.9" stroke-linecap="round" stroke-linejoin="round"/>
<path d="M89.9 288.5L92 288.4L94.9 288.2L97.8 288.2L100.5 288.5L103.3 288.9L105.7 289.3L108.8 289.9L111 290.3" fill="none" stroke="#f2f2f2" stroke-width="1.5" stroke-linecap="round" stroke-linejoin="round"/>
<path d="M92.6 292.4L94.9 293.3L97.8 294.1L100.1 293.9L101.8 293.5" fill="none" stroke="#ffffff" stroke-width="1.6" stroke-linecap="round" stroke-linejoin="round"/>
<path d="M57.1 292.2L58.6 293.1L60.8 294.4L63.1 295.9L65 297.4L66.6 299.4L67.7 301.4L68.3 303.3L67.5 306.3L66.3 308.6" fill="none" stroke="#a6a6a6" stroke-width="1.4" stroke-linecap="round" stroke-linejoin="round"/>
<path d="M68.3 293.5L69.8 294.4L72 295.8L74.2 297.4L76.2 299.2L78.2 301.3L79.4 303.3L79.4 305.5L78.7 307.7L78.1 309.2" fill="none" stroke="#9c9c9c" stroke-width="1.5" stroke-linecap="round" stroke-linejoin="round"/>
<path d="M72.9 301.4L74.6 300.2L77.1 298.7L79.4 297.4L82.5 296.5L84.7 296.1" fill="none" stroke="#f4f4f4" stroke-width="2.6" stroke-linecap="round" stroke-linejoin="round"/>
<path d="M53.1 301.4L54.3 302.5L55.9 304.1L57.8 305.8L59.7 307.3L61.8 308.4L64.1 309.3L66.1 310L67.6 310.6" fill="none" stroke="#a8a8a8" stroke-width="1.3" stroke-linecap="round" stroke-linejoin="round"/>
<path d="M83.4 290.9L84.3 292.3L85.7 294.4L87.3 296.1L90.2 297.8L92.6 298.7" fill="none" stroke="#9a9a9a" stroke-width="1.6" stroke-linecap="round" stroke-linejoin="round"/>
</g></g>
<g filter="url(#bl2)"><ellipse cx="61.7" cy="312.1" rx="7" ry="1.6" fill="#9a9a9a" fill-opacity="0.6" transform="rotate(-8 61.7 312.1)"/>
</g>
<g filter="url(#blr)">
<path d="M55.8 271.1L56.3 269.7L57 267.6L58.4 265.9L59.7 265.2L61.3 264.5L63 264L64.7 263.7L66.3 263.5L68 263.6L69.7 263.9L71.1 264.4L72.2 265.2L72.7 267L72.5 269.2L72.9 271.1L74 272.5L75.6 273.5L77.5 274.4L79.2 274.9L81.1 275.3L83.1 275.8L84.7 276.4L86.3 277.8L87.5 279.5L88 281L87.2 282.8L85.3 284.3L84.1 284.7L82.5 284.9L80.9 285.2L79.4 285.6L78 286.3L76.7 287.3L75.4 288.2L74.2 288.9L72.1 289.5L70.2 289.5L68.4 289L66.3 288.2L64.8 288.1L63 288L61.3 287.9L59.7 287.6L57.8 287L56.1 286.2L55.1 284.9L55.1 283.4L55.5 281.6L56.1 279.6L56.4 277.7L56.4 275.9L56.2 274L55.9 272.3L55.8 271.1Z" fill="#ee2a2f" stroke="none" stroke-width="1"/>
<circle cx="47.6" cy="289.8" r="1.7" fill="#ee2a2f"/>
</g>
<clipPath id="cb2"><path d="M44.6 344.7L44.8 343.1L45.1 340.7L45.6 338L46.6 335.5L47.7 333.7L49.1 331.9L50.7 330.2L52.5 328.5L54.5 327L56.2 325.8L58 324.7L59.9 323.6L61.9 322.7L64 321.8L66.3 321.1L68.3 320.5L70.5 320L72.8 319.6L75.1 319.2L77.4 318.9L79.8 318.8L82 318.7L84.3 318.8L86.7 318.9L89 319.2L91.3 319.6L93.6 320L95.8 320.5L97.8 321.1L100.1 321.8L102.2 322.7L104.2 323.6L106.1 324.7L107.9 325.8L109.6 327L111.6 328.5L113.4 330.2L115 331.9L116.4 333.7L117.5 335.5L118.5 337.8L119.2 340.2L119.5 342.5L119.5 344.7L119.2 346.8L118.6 348.9L117.8 350.8L116.9 352.6L115.4 354.8L113.7 356.7L111.6 358.5L109.7 359.8L107.5 360.9L105.2 362L103.1 363.1L101 364.4L99 365.7L97.1 367L95.2 368.4L93.5 369.9L91.8 371.6L90.2 373.1L88.6 374.3L86.4 375.3L84.2 375.7L82 375.9L79.9 375.7L77.7 375.3L75.5 374.3L73.9 373.1L72.3 371.6L70.6 369.9L68.9 368.4L67 367L65.1 365.7L63.1 364.4L61 363.1L58.9 362L56.6 360.9L54.4 359.8L52.5 358.5L50.4 356.7L48.7 354.8L47.2 352.6L46.3 350.6L45.6 348.3L45 346.2L44.6 344.7Z"/></clipPath>
<g filter="url(#bl1)"><g clip-path="url(#cb2)">
<path d="M44.6 344.7L44.8 343.1L45.1 340.7L45.6 338L46.6 335.5L47.7 333.7L49.1 331.9L50.7 330.2L52.5 328.5L54.5 327L56.2 325.8L58 324.7L59.9 323.6L61.9 322.7L64 321.8L66.3 321.1L68.3 320.5L70.5 320L72.8 319.6L75.1 319.2L77.4 318.9L79.8 318.8L82 318.7L84.3 318.8L86.7 318.9L89 319.2L91.3 319.6L93.6 320L95.8 320.5L97.8 321.1L100.1 321.8L102.2 322.7L104.2 323.6L106.1 324.7L107.9 325.8L109.6 327L111.6 328.5L113.4 330.2L115 331.9L116.4 333.7L117.5 335.5L118.5 337.8L119.2 340.2L119.5 342.5L119.5 344.7L119.2 346.8L118.6 348.9L117.8 350.8L116.9 352.6L115.4 354.8L113.7 356.7L111.6 358.5L109.7 359.8L107.5 360.9L105.2 362L103.1 363.1L101 364.4L99 365.7L97.1 367L95.2 368.4L93.5 369.9L91.8 371.6L90.2 373.1L88.6 374.3L86.4 375.3L84.2 375.7L82 375.9L79.9 375.7L77.7 375.3L75.5 374.3L73.9 373.1L72.3 371.6L70.6 369.9L68.9 368.4L67 367L65.1 365.7L63.1 364.4L61 363.1L58.9 362L56.6 360.9L54.4 359.8L52.5 358.5L50.4 356.7L48.7 354.8L47.2 352.6L46.3 350.6L45.6 348.3L45 346.2L44.6 344.7Z" fill="#f3f3f3" stroke="none" stroke-width="1"/>
<path d="M44.6 344.7L44.8 343.1L45.1 340.7L45.6 338L46.6 335.5L47.7 333.7L49.1 331.9L50.7 330.2L52.5 328.5L54.5 327L56.2 325.8L58 324.7L59.9 323.6L61.9 322.7L64 321.8L66.3 321.1L68.3 320.5L70.5 320L72.8 319.6L75.1 319.2L77.4 318.9L79.8 318.8L82 318.7L84.3 318.8L86.7 318.9L89 319.2L91.3 319.6L93.6 320L95.8 320.5L97.8 321.1L100.1 321.8L102.2 322.7L104.2 323.6L106.1 324.7L107.9 325.8L109.6 327L111.6 328.5L113.4 330.2L115 331.9L116.4 333.7L117.5 335.5L118.5 337.8L119.2 340.2L119.5 342.5L119.5 344.7L119.2 346.8L118.6 348.9L117.8 350.8L116.9 352.6L115.4 354.8L113.7 356.7L111.6 358.5L109.7 359.8L107.5 360.9L105.2 362L103.1 363.1L101 364.4L99 365.7L97.1 367L95.2 368.4L93.5 369.9L91.8 371.6L90.2 373.1L88.6 374.3L86.4 375.3L84.2 375.7L82 375.9L79.9 375.7L77.7 375.3L75.5 374.3L73.9 373.1L72.3 371.6L70.6 369.9L68.9 368.4L67 367L65.1 365.7L63.1 364.4L61 363.1L58.9 362L56.6 360.9L54.4 359.8L52.5 358.5L50.4 356.7L48.7 354.8L47.2 352.6L46.3 350.6L45.6 348.3L45 346.2L44.6 344.7Z" fill="none" stroke="#8c8c8c" stroke-width="3.2" stroke-opacity="0.85"/>
<path d="M51.8 338.2L52.7 336.9L54 335L55.5 333.1L57.1 331.6L58.9 330.5L60.9 329.7L62.9 329.2L65 329L67.1 329.3L69.4 330.1L71.4 331L72.9 331.6" fill="none" stroke="#b0b0b0" stroke-width="2.6" stroke-linecap="round" stroke-linejoin="round"/>
<path d="M49.2 348.7L50.3 347.4L51.9 345.5L53.8 343.6L55.8 342.1L58 341.2L60.4 340.5L62.8 340.1L65 340.1L67.4 341L69.5 342.4L70.9 343.4" fill="none" stroke="#b0b0b0" stroke-width="2.4" stroke-linecap="round" stroke-linejoin="round"/>
<path d="M55.8 355.2L57.2 354.2L59.1 352.6L61.4 351.1L63.7 350L66 349.5L68.4 349.4L70.8 349.6L72.9 350L75.1 351.2L76.9 352.8L78.1 353.9" fill="none" stroke="#b0b0b0" stroke-width="2.8" stroke-linecap="round" stroke-linejoin="round"/>
<path d="M59.7 361.8L61.1 361L63.2 359.7L65.5 358.5L67.6 357.9L70.3 358.2L73 359.1L74.8 359.8" fill="none" stroke="#b0b0b0" stroke-width="2.2" stroke-linecap="round" stroke-linejoin="round"/>
<path d="M47.9 342.1L48.2 343.6L48.6 345.7L49.1 348.1L49.7 350.6L50.5 352.6L52 354.8L54 356.9L55.8 358.6L57.1 359.8" fill="none" stroke="#c2c2c2" stroke-width="2.4" stroke-linecap="round" stroke-linejoin="round"/>
<path d="M59.7 347.4L61.8 346.9L64.8 346.2L67.6 346L70.2 346.7L72.7 347.8L74.4 348.7" fill="none" stroke="#ffffff" stroke-width="2.2" stroke-linecap="round" stroke-linejoin="round"/>
<path d="M72.9 365.8L74.1 366.8L75.9 368.2L77.5 369.7L78.7 371.9L79.4 373.6" fill="none" stroke="#c6c6c6" stroke-width="2.0" stroke-linecap="round" stroke-linejoin="round"/>
<path d="M112.3 338.2L111.4 336.9L110.1 335L108.6 333.1L107 331.6L105.2 330.5L103.2 329.7L101.2 329.2L99.1 329L97 329.3L94.7 330.1L92.7 331L91.2 331.6" fill="none" stroke="#b0b0b0" stroke-width="2.6" stroke-linecap="round" stroke-linejoin="round"/>
<path d="M114.9 348.7L113.8 347.4L112.2 345.5L110.3 343.6L108.3 342.1L106.1 341.2L103.7 340.5L101.3 340.1L99.1 340.1L96.7 341L94.6 342.4L93.2 343.4" fill="none" stroke="#b0b0b0" stroke-width="2.4" stroke-linecap="round" stroke-linejoin="round"/>
<path d="M108.3 355.2L106.9 354.2L105 352.6L102.7 351.1L100.4 350L98.1 349.5L95.7 349.4L93.3 349.6L91.2 350L89 351.2L87.2 352.8L86 353.9" fill="none" stroke="#b0b0b0" stroke-width="2.8" stroke-linecap="round" stroke-linejoin="round"/>
<path d="M104.4 361.8L103 361L100.9 359.7L98.6 358.5L96.5 357.9L93.8 358.2L91.1 359.1L89.3 359.8" fill="none" stroke="#b0b0b0" stroke-width="2.2" stroke-linecap="round" stroke-linejoin="round"/>
<path d="M116.2 342.1L115.9 343.6L115.5 345.7L115 348.1L114.4 350.6L113.6 352.6L112.1 354.8L110.1 356.9L108.3 358.6L107 359.8" fill="none" stroke="#c2c2c2" stroke-width="2.4" stroke-linecap="round" stroke-linejoin="round"/>
<path d="M104.4 347.4L102.3 346.9L99.3 346.2L96.5 346L93.9 346.7L91.4 347.8L89.7 348.7" fill="none" stroke="#ffffff" stroke-width="2.2" stroke-linecap="round" stroke-linejoin="round"/>
<path d="M91.2 365.8L90 366.8L88.2 368.2L86.6 369.7L85.4 371.9L84.7 373.6" fill="none" stroke="#c6c6c6" stroke-width="2.0" stroke-linecap="round" stroke-linejoin="round"/>
<path d="M82 350L82 351.8L82 354.4L82 357.4L82 360L82 361.8" fill="none" stroke="#c8c8c8" stroke-width="2.2" stroke-linecap="round" stroke-linejoin="round"/>
<ellipse cx="81.8" cy="365.1" rx="2.6" ry="1.6" fill="#6e6e6e"/>
<path d="M78.1 363.1L79.7 364.8L81.8 366L83.9 364.8L85.5 363.1" fill="none" stroke="#9a9a9a" stroke-width="1.3" stroke-linecap="round" stroke-linejoin="round"/>
</g></g>
<g filter="url(#blr)"><path d="M63 327.6L64.1 326.5L66.3 325L67.6 324.6L69.3 324.2L71.1 323.9L72.8 323.5L74.2 323L75.7 321.9L76.7 320.7L78.1 319.8L79.6 319.5L81.4 319.4L83.1 319.5L84.7 319.8L86.3 320.5L87.6 321.5L89.3 322.4L91 322.8L92.9 323L94.9 323.3L96.5 323.7L98.3 324.7L99.6 325.9L100.4 327L100.4 328.4L99.1 329.6L97.8 330L96 330.3L94.1 330.6L92.6 330.9L90.2 331.7L88.6 332.9L88 334.3L87.8 336.1L88 338.2L88.4 339.6L89 341.1L89.7 342.7L90.3 344.2L90.6 345.4L90.2 347.2L88.6 348L87.3 348.1L85.6 347.9L83.8 347.6L82 347.4L80.3 347.1L78.4 346.9L76.7 346.6L75.5 346L74.9 344.4L75.5 342.1L75.9 340.6L76.5 338.9L77.1 337.1L77.5 335.5L77.6 333.7L77.5 332.1L76.8 330.9L75.5 330.5L73.8 330.4L71.9 330.3L70.2 330.3L68.3 330.1L66.4 329.9L65 329.6L63.7 328.6L63 327.6Z" fill="#ee2a2f" stroke="none" stroke-width="1"/>
</g>
<clipPath id="cb3"><path d="M120.2 424L119.9 428.7L119.1 433.3L118 437.8L116.5 442.2L114.7 446.4L112.5 450.3L110 454L107.2 457.3L104.2 460.2L100.9 462.8L97.5 464.9L93.9 466.6L90.2 467.8L86.4 468.6L82.6 468.8L78.8 468.6L75 467.8L71.3 466.6L67.7 464.9L64.3 462.8L61 460.2L58 457.3L55.2 454L52.7 450.3L50.5 446.4L48.7 442.2L47.2 437.8L46.1 433.3L45.3 428.7L45 424L45.7 419.3L46.8 414.7L48.3 410.2L50.1 405.8L52.2 401.6L54.5 397.7L57.1 394L59.9 390.7L62.8 387.8L65.9 385.2L69.1 383.1L72.4 381.4L75.8 380.2L79.2 379.4L82.6 379.2L86 379.4L89.4 380.2L92.8 381.4L96.1 383.1L99.3 385.2L102.4 387.8L105.3 390.7L108.1 394L110.7 397.7L113 401.6L115.1 405.8L116.9 410.2L118.4 414.7L119.5 419.3Z"/></clipPath>
<g filter="url(#bl1)"><g clip-path="url(#cb3)">
<path d="M120.2 424L119.9 428.7L119.1 433.3L118 437.8L116.5 442.2L114.7 446.4L112.5 450.3L110 454L107.2 457.3L104.2 460.2L100.9 462.8L97.5 464.9L93.9 466.6L90.2 467.8L86.4 468.6L82.6 468.8L78.8 468.6L75 467.8L71.3 466.6L67.7 464.9L64.3 462.8L61 460.2L58 457.3L55.2 454L52.7 450.3L50.5 446.4L48.7 442.2L47.2 437.8L46.1 433.3L45.3 428.7L45 424L45.7 419.3L46.8 414.7L48.3 410.2L50.1 405.8L52.2 401.6L54.5 397.7L57.1 394L59.9 390.7L62.8 387.8L65.9 385.2L69.1 383.1L72.4 381.4L75.8 380.2L79.2 379.4L82.6 379.2L86 379.4L89.4 380.2L92.8 381.4L96.1 383.1L99.3 385.2L102.4 387.8L105.3 390.7L108.1 394L110.7 397.7L113 401.6L115.1 405.8L116.9 410.2L118.4 414.7L119.5 419.3Z" fill="#f8f8f8" stroke="none" stroke-width="1"/>
<path d="M120.2 424L119.9 428.7L119.1 433.3L118 437.8L116.5 442.2L114.7 446.4L112.5 450.3L110 454L107.2 457.3L104.2 460.2L100.9 462.8L97.5 464.9L93.9 466.6L90.2 467.8L86.4 468.6L82.6 468.8L78.8 468.6L75 467.8L71.3 466.6L67.7 464.9L64.3 462.8L61 460.2L58 457.3L55.2 454L52.7 450.3L50.5 446.4L48.7 442.2L47.2 437.8L46.1 433.3L45.3 428.7L45 424L45.7 419.3L46.8 414.7L48.3 410.2L50.1 405.8L52.2 401.6L54.5 397.7L57.1 394L59.9 390.7L62.8 387.8L65.9 385.2L69.1 383.1L72.4 381.4L75.8 380.2L79.2 379.4L82.6 379.2L86 379.4L89.4 380.2L92.8 381.4L96.1 383.1L99.3 385.2L102.4 387.8L105.3 390.7L108.1 394L110.7 397.7L113 401.6L115.1 405.8L116.9 410.2L118.4 414.7L119.5 419.3Z" fill="none" stroke="#888888" stroke-width="3.4" stroke-opacity="0.8"/>
<ellipse cx="82.3" cy="389.7" rx="2.6" ry="8.5" fill="#b4b4b4"/>
<path d="M82.3 380.5L82.3 382L82.3 384.1L82.3 386.6L82.3 389.4L82.3 392.1L82.3 394.6L82.3 396.8L82.3 398.3" fill="none" stroke="#a0a0a0" stroke-width="1.3" stroke-linecap="round" stroke-linejoin="round"/>
<path d="M82.3 454.1L82.3 455.5L82.3 457.6L82.3 460L82.3 462.6L82.3 465.1L82.3 467.1L82.3 468.6" fill="none" stroke="#b0b0b0" stroke-width="1.6" stroke-linecap="round" stroke-linejoin="round"/>
<path d="M59.7 395L60.9 394L62.6 392.5L64.5 391L66.3 389.7L68.7 388.5L71.1 387.7L72.9 387.1" fill="none" stroke="#b4b4b4" stroke-width="2.6" stroke-linecap="round" stroke-linejoin="round"/>
<path d="M74.2 384.5L75.1 386.2L76.3 388.7L77.5 391L78.6 394.1L79.4 396.3" fill="none" stroke="#b4b4b4" stroke-width="2.0" stroke-linecap="round" stroke-linejoin="round"/>
<path d="M55.8 404.2L57.5 403L60 401.3L62.3 400.2L65.7 400.3L68.3 400.9" fill="none" stroke="#b4b4b4" stroke-width="2.2" stroke-linecap="round" stroke-linejoin="round"/>
<path d="M74.4 403.5L74.1 405.3L73.6 407.8L73.1 410.6L72.9 413.4L72.9 415.5L73.1 417.6L73.4 419.8L73.6 421.9L73.5 423.9L73 426.2L72.2 428.5L71.4 430.4L70.9 431.8" fill="none" stroke="#c2c2c2" stroke-width="6.0" stroke-linecap="round" stroke-linejoin="round"/>
<path d="M75.5 409.4L75.4 411L75.2 413.3L75 416L74.7 418.7L74.6 421L74.4 422.6" fill="none" stroke="#a9a9a9" stroke-width="2.0" stroke-linecap="round" stroke-linejoin="round"/>
<path d="M50.5 414.7L52.3 414.2L54.7 413.6L57.1 413.4L60.1 414.3L62.3 415.3" fill="none" stroke="#bcbcbc" stroke-width="3.2" stroke-linecap="round" stroke-linejoin="round"/>
<path d="M48.5 425.2L50.5 424.7L53.2 424.1L55.8 423.9L58.1 424.4L60.2 425.2L61.7 425.8" fill="none" stroke="#bcbcbc" stroke-width="3.6" stroke-linecap="round" stroke-linejoin="round"/>
<path d="M49.2 435.7L51.1 435.2L53.8 434.6L56.4 434.4L58.7 434.9L60.9 435.7L62.3 436.4" fill="none" stroke="#bcbcbc" stroke-width="3.6" stroke-linecap="round" stroke-linejoin="round"/>
<path d="M53.1 446.9L54.9 446.1L57.3 445.1L59.7 444.2L63.1 443.8L65.6 443.6" fill="none" stroke="#bcbcbc" stroke-width="3.2" stroke-linecap="round" stroke-linejoin="round"/>
<path d="M61 456.7L62.4 455.4L64.3 453.6L66.3 452.1L69.2 450.9L71.5 450.2" fill="none" stroke="#b4b4b4" stroke-width="2.0" stroke-linecap="round" stroke-linejoin="round"/>
<path d="M71.5 462L72.8 459.5L74.4 456.7L76.4 455.1L78.1 454.1" fill="none" stroke="#c4c4c4" stroke-width="1.8" stroke-linecap="round" stroke-linejoin="round"/>
<path d="M104.9 395L103.7 394L102 392.5L100.1 391L98.3 389.7L95.9 388.5L93.5 387.7L91.8 387.1" fill="none" stroke="#b4b4b4" stroke-width="2.6" stroke-linecap="round" stroke-linejoin="round"/>
<path d="M90.5 384.5L89.6 386.2L88.3 388.7L87.2 391L86 394.1L85.2 396.3" fill="none" stroke="#b4b4b4" stroke-width="2.0" stroke-linecap="round" stroke-linejoin="round"/>
<path d="M108.9 404.2L107.1 403L104.7 401.3L102.3 400.2L98.9 400.3L96.4 400.9" fill="none" stroke="#b4b4b4" stroke-width="2.2" stroke-linecap="round" stroke-linejoin="round"/>
<path d="M90.2 403.5L90.5 405.3L91 407.8L91.5 410.6L91.8 413.4L91.7 415.5L91.5 417.6L91.3 419.8L91.1 421.9L91.1 423.9L91.6 426.2L92.4 428.5L93.2 430.4L93.7 431.8" fill="none" stroke="#c2c2c2" stroke-width="6.0" stroke-linecap="round" stroke-linejoin="round"/>
<path d="M89.1 409.4L89.3 411L89.5 413.3L89.7 416L89.9 418.7L90.1 421L90.2 422.6" fill="none" stroke="#a9a9a9" stroke-width="2.0" stroke-linecap="round" stroke-linejoin="round"/>
<path d="M114.1 414.7L112.4 414.2L109.9 413.6L107.5 413.4L104.5 414.3L102.3 415.3" fill="none" stroke="#bcbcbc" stroke-width="3.2" stroke-linecap="round" stroke-linejoin="round"/>
<path d="M116.1 425.2L114.2 424.7L111.4 424.1L108.9 423.9L106.6 424.4L104.4 425.2L102.9 425.8" fill="none" stroke="#bcbcbc" stroke-width="3.6" stroke-linecap="round" stroke-linejoin="round"/>
<path d="M115.4 435.7L113.5 435.2L110.8 434.6L108.2 434.4L105.9 434.9L103.8 435.7L102.3 436.4" fill="none" stroke="#bcbcbc" stroke-width="3.6" stroke-linecap="round" stroke-linejoin="round"/>
<path d="M111.5 446.9L109.8 446.1L107.3 445.1L104.9 444.2L101.5 443.8L99 443.6" fill="none" stroke="#bcbcbc" stroke-width="3.2" stroke-linecap="round" stroke-linejoin="round"/>
<path d="M103.6 456.7L102.2 455.4L100.3 453.6L98.3 452.1L95.4 450.9L93.1 450.2" fill="none" stroke="#b4b4b4" stroke-width="2.0" stroke-linecap="round" stroke-linejoin="round"/>
<path d="M93.1 462L91.9 459.5L90.2 456.7L88.2 455.1L86.5 454.1" fill="none" stroke="#c4c4c4" stroke-width="1.8" stroke-linecap="round" stroke-linejoin="round"/>
</g></g>
<g filter="url(#blr)"><path d="M80.1 420.6L81.9 420.1L84 419.9L85.3 420.9L86.3 422.6L86.6 424.1L86.7 425.9L87 427.8L87.5 429.3L88.2 430.9L88.8 432.5L89.3 434.4L89.5 435.8L89.6 437.4L89.8 439L89.8 440.6L89.8 442.2L89.7 443.6L89.3 445.5L88.8 447.2L88.1 448.7L87.3 450.2L86.3 451.6L85.1 453.1L83.9 454.3L82.7 454.8L81.3 454.2L79.9 452.7L78.8 450.8L78.2 449.6L77.6 448.3L77.1 446.8L76.8 445.2L76.5 443.6L76.4 442.1L76.4 440.6L76.5 438.9L76.6 437.3L76.8 435.8L77.1 434.4L77.6 432.6L78.2 431L78.9 429.4L79.4 427.8L79.7 425.9L79.9 423.8L80 421.9L80.1 420.6Z" fill="#ee2a2f" stroke="none" stroke-width="1"/>
</g>
<line x1="160.5" y1="294.1" x2="160.5" y2="473.2" stroke="#555" stroke-width="0.9"/>
<line x1="155" y1="473.2" x2="466.4" y2="473.2" stroke="#555" stroke-width="0.9"/>
<line x1="154.9" y1="294.1" x2="160.5" y2="294.1" stroke="#555" stroke-width="0.9"/>
<line x1="154.9" y1="324" x2="160.5" y2="324" stroke="#555" stroke-width="0.9"/>
<line x1="154.9" y1="353.8" x2="160.5" y2="353.8" stroke="#555" stroke-width="0.9"/>
<line x1="154.9" y1="383.7" x2="160.5" y2="383.7" stroke="#555" stroke-width="0.9"/>
<line x1="154.9" y1="413.5" x2="160.5" y2="413.5" stroke="#555" stroke-width="0.9"/>
<line x1="154.9" y1="443.4" x2="160.5" y2="443.4" stroke="#555" stroke-width="0.9"/>
<text x="151.8" y="328.1" font-size="13.2" text-anchor="end" textLength="16" lengthAdjust="spacingAndGlyphs">0.8</text>
<text x="151.8" y="387.8" font-size="13.2" text-anchor="end" textLength="16" lengthAdjust="spacingAndGlyphs">0.4</text>
<text x="151.8" y="447.5" font-size="13.2" text-anchor="end" textLength="6.4" lengthAdjust="spacingAndGlyphs">0</text>
<line x1="160.5" y1="473.2" x2="160.5" y2="478.8" stroke="#555" stroke-width="0.9"/>
<line x1="204.3" y1="473.2" x2="204.3" y2="478.8" stroke="#555" stroke-width="0.9"/>
<text x="201.8" y="490.6" font-size="13.2" text-anchor="middle" textLength="13.1" lengthAdjust="spacingAndGlyphs">−8</text>
<line x1="265.5" y1="473.2" x2="265.5" y2="478.8" stroke="#555" stroke-width="0.9"/>
<text x="263" y="490.6" font-size="13.2" text-anchor="middle" textLength="13.1" lengthAdjust="spacingAndGlyphs">−4</text>
<line x1="326.6" y1="473.2" x2="326.6" y2="478.8" stroke="#555" stroke-width="0.9"/>
<text x="326.6" y="490.6" font-size="13.2" text-anchor="middle" textLength="6.4" lengthAdjust="spacingAndGlyphs">0</text>
<line x1="387.8" y1="473.2" x2="387.8" y2="478.8" stroke="#555" stroke-width="0.9"/>
<text x="387.8" y="490.6" font-size="13.2" text-anchor="middle" textLength="6.4" lengthAdjust="spacingAndGlyphs">4</text>
<line x1="449" y1="473.2" x2="449" y2="478.8" stroke="#555" stroke-width="0.9"/>
<text x="449" y="490.6" font-size="13.2" text-anchor="middle" textLength="6.4" lengthAdjust="spacingAndGlyphs">8</text>
<text x="199.6" y="508.5" font-size="15.2" textLength="254.8" lengthAdjust="spacingAndGlyphs">Time from hippocampal ripple onset (s)</text>
<path d="M175.8 446.9L204.1 448.7L232.6 451.4L262.2 451.4L289.7 453.9L318.4 449.8L346.5 438.5L375.5 431.1L404.4 435.3L432.7 437L462.3 434.1" fill="none" stroke="#f9c4c2" stroke-width="2.1" stroke-linejoin="round"/>
<path d="M175.8 437L204.1 434L232.6 429.6L262.2 421.6L289.7 409.7L318.4 406.8L346.5 415L375.5 419.2L404.4 420.4L432.7 422.2L462.3 429.1" fill="none" stroke="#86c8f1" stroke-width="2.1" stroke-linejoin="round"/>
<path d="M175.8 429.6L204.1 431.3L232.6 427.1L262.2 419.6L289.7 407.2L318.4 398.2L346.5 384.9L375.5 348L404.4 330.3L432.7 339.8L462.3 364.6" fill="none" stroke="#f6d273" stroke-width="2.1" stroke-linejoin="round"/>
<path d="M175.8 440.2L204.1 442.7L232.6 443.2L262.2 444.4L289.7 443.7L318.4 440L346.5 439L375.5 451.4L404.4 463.1L432.7 463.1L462.3 460.1" fill="none" stroke="#c9982c" stroke-width="2.1" stroke-linejoin="round"/>
<path d="M175.8 441.5L204.1 442.5L232.6 442L262.2 441.2L289.7 441.2L318.4 439.2L346.5 439L375.5 442.3L404.4 444L432.7 448.2L462.3 447.7" fill="none" stroke="#e0575a" stroke-width="2.1" stroke-linejoin="round"/>
<path d="M175.8 443.7L204.1 444.4L232.6 445.9L262.2 448.2L289.7 449.4L318.4 449.2L346.5 449L375.5 449L404.4 452.2L432.7 449.7L462.3 448" fill="none" stroke="#1572ba" stroke-width="2.1" stroke-linejoin="round"/>
<path d="M175.8 444V449.8M173.8 444h4M173.8 449.8h4M204.1 445.2V452.2M202.1 445.2h4M202.1 452.2h4M232.6 448.8V454M230.6 448.8h4M230.6 454h4M262.2 448.2V454.6M260.2 448.2h4M260.2 454.6h4M289.7 451.7V456.1M287.7 451.7h4M287.7 456.1h4M318.4 446.9V452.7M316.4 446.9h4M316.4 452.7h4M346.5 435V442M344.5 435h4M344.5 442h4M375.5 428.5V433.7M373.5 428.5h4M373.5 433.7h4M404.4 432.1V438.5M402.4 432.1h4M402.4 438.5h4M432.7 434.8V439.2M430.7 434.8h4M430.7 439.2h4M462.3 431.2V437M460.3 431.2h4M460.3 437h4M175.8 434.1V439.9M173.8 434.1h4M173.8 439.9h4M204.1 430.4V437.6M202.1 430.4h4M202.1 437.6h4M232.6 427.1V432.1M230.6 427.1h4M230.6 432.1h4M262.2 418.4V424.8M260.2 418.4h4M260.2 424.8h4M289.7 405.7V413.7M287.7 405.7h4M287.7 413.7h4M318.4 403.9V409.7M316.4 403.9h4M316.4 409.7h4M346.5 411.4V418.6M344.5 411.4h4M344.5 418.6h4M375.5 416.7V421.7M373.5 416.7h4M373.5 421.7h4M404.4 417.2V423.6M402.4 417.2h4M402.4 423.6h4M432.7 418.2V426.2M430.7 418.2h4M430.7 426.2h4M462.3 426.2V432M460.3 426.2h4M460.3 432h4M175.8 426.5V432.8M173.8 426.5h4M173.8 432.8h4M204.1 427.2V435.4M202.1 427.2h4M202.1 435.4h4M232.6 422.2V432.1M230.6 422.2h4M230.6 432.1h4M262.2 416V423.2M260.2 416h4M260.2 423.2h4M289.7 402.7V411.7M287.7 402.7h4M287.7 411.7h4M318.4 395.1V401.3M316.4 395.1h4M316.4 401.3h4M346.5 380.8V388.9M344.5 380.8h4M344.5 388.9h4M375.5 344V352M373.5 344h4M373.5 352h4M404.4 324.8V335.8M402.4 324.8h4M402.4 335.8h4M432.7 333.3V346.3M430.7 333.3h4M430.7 346.3h4M462.3 358.1V371.1M460.3 358.1h4M460.3 371.1h4M175.8 438.8V441.6M173.8 438.8h4M173.8 441.6h4M204.1 440.9V444.5M202.1 440.9h4M202.1 444.5h4M232.6 441V445.4M230.6 441h4M230.6 445.4h4M262.2 442.8V446M260.2 442.8h4M260.2 446h4M289.7 441.7V445.7M287.7 441.7h4M287.7 445.7h4M318.4 438.6V441.4M316.4 438.6h4M316.4 441.4h4M346.5 437.2V440.8M344.5 437.2h4M344.5 440.8h4M375.5 449.2V453.6M373.5 449.2h4M373.5 453.6h4M404.4 461.5V464.7M402.4 461.5h4M402.4 464.7h4M432.7 461.1V465.1M430.7 461.1h4M430.7 465.1h4M462.3 458.7V461.5M460.3 458.7h4M460.3 461.5h4M175.8 438.9V444.1M173.8 438.9h4M173.8 444.1h4M204.1 440.6V444.4M202.1 440.6h4M202.1 444.4h4M232.6 439.6V444.4M230.6 439.6h4M230.6 444.4h4M262.2 439.5V442.9M260.2 439.5h4M260.2 442.9h4M289.7 439V443.4M287.7 439h4M287.7 443.4h4M318.4 436.6V441.8M316.4 436.6h4M316.4 441.8h4M346.5 437.1V440.9M344.5 437.1h4M344.5 440.9h4M375.5 439.9V444.7M373.5 439.9h4M373.5 444.7h4M404.4 442.3V445.7M402.4 442.3h4M402.4 445.7h4M432.7 446V450.4M430.7 446h4M430.7 450.4h4M462.3 445.1V450.3M460.3 445.1h4M460.3 450.3h4M175.8 441.6V445.8M173.8 441.6h4M173.8 445.8h4M204.1 441.8V447M202.1 441.8h4M202.1 447h4M232.6 444.1V447.7M230.6 444.1h4M230.6 447.7h4M262.2 445.9V450.5M260.2 445.9h4M260.2 450.5h4M289.7 446.5V452.3M287.7 446.5h4M287.7 452.3h4M318.4 447.1V451.3M316.4 447.1h4M316.4 451.3h4M346.5 446.4V451.6M344.5 446.4h4M344.5 451.6h4M375.5 447.2V450.8M373.5 447.2h4M373.5 450.8h4M404.4 449.9V454.5M402.4 449.9h4M402.4 454.5h4M432.7 446.8V452.6M430.7 446.8h4M430.7 452.6h4M462.3 445.9V450.1M460.3 445.9h4M460.3 450.1h4" fill="none" stroke="#6a6a6a" stroke-width="0.7"/>
<rect x="219.5" y="259.5" width="247.5" height="58" fill="#fff" stroke="#8e8e8e" stroke-width="1"/>
<line x1="225.8" y1="271" x2="246.2" y2="271" stroke="#86c8f1" stroke-width="2.0"/>
<text x="252.6" y="276.3" font-size="15.2" textLength="76.2" lengthAdjust="spacingAndGlyphs">DMN sigma</text>
<line x1="225.8" y1="287.5" x2="246.2" y2="287.5" stroke="#f9c4c2" stroke-width="2.0"/>
<text x="252.6" y="292.8" font-size="15.2" textLength="85.4" lengthAdjust="spacingAndGlyphs">DMN gamma</text>
<line x1="225.8" y1="304" x2="246.2" y2="304" stroke="#f6d273" stroke-width="2.0"/>
<text x="252.6" y="309.3" font-size="15.2" textLength="77" lengthAdjust="spacingAndGlyphs">DMN ripple</text>
<line x1="354.6" y1="271" x2="375" y2="271" stroke="#1572ba" stroke-width="2.0"/>
<text x="380.9" y="276.3" font-size="15.2" textLength="69.6" lengthAdjust="spacingAndGlyphs">VSN sigma</text>
<line x1="354.6" y1="287.5" x2="375" y2="287.5" stroke="#e0575a" stroke-width="2.0"/>
<text x="380.9" y="292.8" font-size="15.2" textLength="80.5" lengthAdjust="spacingAndGlyphs">VSN gamma</text>
<line x1="354.6" y1="304" x2="375" y2="304" stroke="#c9982c" stroke-width="2.0"/>
<text x="380.9" y="309.3" font-size="15.2" textLength="70" lengthAdjust="spacingAndGlyphs">VSN ripple</text>
</g>
<g id="panel_c">
<text x="498" y="260" font-size="15.5" font-weight="bold">c</text>
<rect x="522.4" y="262.2" width="162.3" height="156.3" fill="#030405"/>
<defs><clipPath id="cc"><path d="M544.1 278.4L545 277.1L546.4 275.2L548.1 273.8L550.1 273.1L552.5 272.7L555.4 272.7L557.1 272.8L559 273.1L561.1 273.4L563.2 273.7L565.4 274L567.6 274.3L569.7 274.5L572 274.7L574.2 274.9L576.5 275.1L578.8 275.4L581.1 275.7L583.3 276L585.6 276.4L587.8 276.9L590.1 277.3L592.3 277.8L594.6 278.4L596.5 278.9L598.5 279.4L600.5 280L602.4 280.5L604.3 281.1L606.2 281.8L608.1 282.4L610.2 283.3L612.4 284.1L614.4 285.1L616.5 286L618.4 286.9L620.3 287.8L622.3 288.9L624.2 289.8L626 290.8L627.8 291.9L629.7 293.2L631.2 294.4L632.7 295.6L634.3 297L635.8 298.4L637.4 299.8L639 301.3L640.5 302.7L642.1 304.1L643.7 305.6L645.4 307L647 308.5L648.6 309.9L650 311.3L651.4 312.7L653 314.6L654.5 316.4L655.9 318.2L657 319.9L658.1 321.6L659.2 323.6L660.1 325.5L660.8 327.4L661.4 329.7L661.6 331.6L661.6 333.6L661.6 335.7L661.6 337.9L661.5 340L661.6 341.9L661.9 344.5L662.2 347L662.6 349.2L663 351.4L663.8 353.8L664.7 356L665.1 358.1L664.9 360.4L664.2 362.6L663.2 364.9L662.3 367L661.1 369.2L659.5 371.6L658.1 373.2L656.5 375L654.8 376.8L653 378.6L651.4 380.3L649.7 381.9L648.1 383.4L646.5 384.9L644.9 386.4L643.2 387.8L641.6 389.3L639.9 390.7L638.2 392.1L636.6 393.4L635.1 394.6L633.2 396.2L631.4 397.5L629.2 398.4L627.4 398.6L625.4 398.7L623.3 398.6L621.1 398.5L618.9 398.4L616.8 398.3L614.6 398.2L612.4 398L610.2 397.7L608.1 397.3L606.1 396.7L604.2 395.8L602.4 394.9L600.5 394L598.6 393.2L596.3 392.4L593.8 391.6L591.5 390.9L589.2 390.5L587.1 390.5L585.1 390.7L583.1 391L581.1 391.4L579.1 391.6L577 391.9L575 392.1L573 392.4L570.9 392.8L568.8 393.2L566.7 393.6L564.9 393.8L561.8 393.9L558.9 393.2L556.8 392.3L554.6 390.9L552.7 389.2L551.3 387.2L550.1 384.9L549.2 382.4L548.6 380.5L548.1 378.5L547.7 376.4L547.3 374.3L546.9 372.3L546.6 370.3L546.3 368.2L545.9 366.2L545.6 364.3L545.2 362.5L544.8 360.5L544.6 358.1L544.5 356.2L544.5 354L544.5 351.7L544.6 349.3L544.6 346.9L544.6 344.6L544.6 342.3L544.6 340.1L544.5 337.8L544.5 335.6L544.4 333.3L544.3 331.1L544.2 328.8L544 326.6L543.8 324.3L543.6 322.1L543.4 319.8L543.2 317.6L543.1 315.3L543 313.1L542.9 310.8L542.8 308.6L542.8 306.3L542.7 304.1L542.7 301.8L542.6 299.5L542.6 297.2L542.6 294.9L542.6 292.7L542.7 290.5L542.9 288.3L543.1 285.9L543.4 283.6L543.7 281.5L543.9 279.7L544.1 278.4Z"/></clipPath><filter id="fcb1" x="-20%" y="-20%" width="140%" height="140%"><feGaussianBlur stdDeviation="2.6"/></filter><filter id="fcb2" x="-30%" y="-30%" width="160%" height="160%"><feGaussianBlur stdDeviation="2.6"/></filter><linearGradient id="cbar" x1="0" x2="1" y1="0" y2="0"><stop offset="0" stop-color="#12579e"/><stop offset="0.1" stop-color="#1a74b8"/><stop offset="0.22" stop-color="#35b0cf"/><stop offset="0.33" stop-color="#48c3a8"/><stop offset="0.45" stop-color="#55c070"/><stop offset="0.57" stop-color="#6cc452"/><stop offset="0.68" stop-color="#b6d75c"/><stop offset="0.77" stop-color="#f2d685"/><stop offset="0.86" stop-color="#f0a55c"/><stop offset="0.94" stop-color="#e2604a"/><stop offset="1" stop-color="#cf3e3e"/></linearGradient></defs>
<g clip-path="url(#cc)">
<rect x="535" y="268" width="135" height="135" fill="#4cba4c"/>
<g filter="url(#fcb1)">
<ellipse cx="559.5" cy="344.7" rx="15.3" ry="17.4" fill="#a6d83a"/>
<ellipse cx="549.3" cy="332.4" rx="6.1" ry="14.3" fill="#b8dc36"/>
<ellipse cx="622.9" cy="376.4" rx="24.5" ry="11.2" fill="#d6e032"/>
<ellipse cx="602.4" cy="387.6" rx="14.3" ry="8.2" fill="#e6e02e"/>
<ellipse cx="655.6" cy="361.1" rx="10.2" ry="17.4" fill="#56bb48"/>
<ellipse cx="649.4" cy="387.6" rx="12.3" ry="8.2" fill="#7cc83e"/>
<ellipse cx="546.9" cy="295.7" rx="6.1" ry="21.5" fill="#3f62c4"/>
<ellipse cx="557.9" cy="287.5" rx="4.5" ry="14.3" fill="#3ab27e"/>
<path d="M565.7 273.2L567.8 273.1L570.6 272.9L574 272.7L577.8 272.6L581.9 272.8L586.1 273.2L588.8 273.6L591.7 274.1L594.9 274.7L598.1 275.3L601.4 276L604.7 276.8L608 277.7L611.1 278.5L614.1 279.4L616.7 280.3L620.3 281.7L623.5 283.1L626.5 284.6L629.3 286.3L632 287.9L634.6 289.7L637.2 291.6L639.7 293.5L642.1 295.6L644.5 297.7L646.7 300L648.8 302.2L650.7 304.6L652.5 306.9L654.4 309.8L656.1 312.8L657.7 316L659.1 319L660.3 321.8L661.3 324.3L663 328.1L664.1 331.1L664.2 333.5L662.1 335.6L657.6 337.3L655 338.5L651.8 339.9L648.3 341.3L644.7 342.5L641.3 343.5L638 344.1L634.7 344.5L631.5 344.8L628.2 344.8L624.9 344.7L621.7 344.4L618.4 343.9L615.1 343.2L611.8 342.3L608.6 341.4L605.3 340.4L601.9 339.3L598.6 338L595.4 336.7L592.2 335.3L589.2 333.8L586.1 332.2L583.2 330.5L580.4 328.8L577.9 327.1L575.2 325.1L572.8 323.1L570.7 321.1L568.7 319L566.3 316.1L564.2 313.2L562.6 310L561.7 307.1L561 304L560.5 300.8L560.3 297.7L560.5 294.6L561 291.6L561.7 288.5L562.4 285.4L563.2 282.1L564.1 278.5L565 275.4L565.7 273.2Z" fill="#2fbcc0" stroke="#2fbcc0" stroke-width="5" stroke-linejoin="round"/>
<path d="M565.7 273.2L567.8 273.1L570.6 272.9L574 272.7L577.8 272.6L581.9 272.8L586.1 273.2L588.8 273.6L591.7 274.1L594.9 274.7L598.1 275.3L601.4 276L604.7 276.8L608 277.7L611.1 278.5L614.1 279.4L616.7 280.3L620.3 281.7L623.5 283.1L626.5 284.6L629.3 286.3L632 287.9L634.6 289.7L637.2 291.6L639.7 293.5L642.1 295.6L644.5 297.7L646.7 300L648.8 302.2L650.7 304.6L652.5 306.9L654.4 309.8L656.1 312.8L657.7 316L659.1 319L660.3 321.8L661.3 324.3L663 328.1L664.1 331.1L664.2 333.5L662.1 335.6L657.6 337.3L655 338.5L651.8 339.9L648.3 341.3L644.7 342.5L641.3 343.5L638 344.1L634.7 344.5L631.5 344.8L628.2 344.8L624.9 344.7L621.7 344.4L618.4 343.9L615.1 343.2L611.8 342.3L608.6 341.4L605.3 340.4L601.9 339.3L598.6 338L595.4 336.7L592.2 335.3L589.2 333.8L586.1 332.2L583.2 330.5L580.4 328.8L577.9 327.1L575.2 325.1L572.8 323.1L570.7 321.1L568.7 319L566.3 316.1L564.2 313.2L562.6 310L561.7 307.1L561 304L560.5 300.8L560.3 297.7L560.5 294.6L561 291.6L561.7 288.5L562.4 285.4L563.2 282.1L564.1 278.5L565 275.4L565.7 273.2Z" fill="#3d58bc" stroke="none" stroke-width="1"/>
<ellipse cx="608.6" cy="303.8" rx="30.7" ry="14.3" fill="#3646a4" transform="rotate(8 608.6 303.8)"/>
<ellipse cx="603.5" cy="297.7" rx="20.4" ry="7.4" fill="#1f1c5e" transform="rotate(4 603.5 297.7)"/>
<ellipse cx="599.4" cy="296.7" rx="11.2" ry="4.1" fill="#15123f" transform="rotate(4 599.4 296.7)"/>
</g>
<g filter="url(#fcb2)">
<ellipse cx="569.7" cy="380.5" rx="17.4" ry="19.4" fill="#efe628"/>
<ellipse cx="567.7" cy="383.1" rx="11.9" ry="15.9" fill="#f5951f"/>
<ellipse cx="565" cy="385.2" rx="7.4" ry="12.7" fill="#ee3319" transform="rotate(-6 565 385.2)"/>
<ellipse cx="563.6" cy="387.6" rx="4.1" ry="8.2" fill="#e8201c" transform="rotate(-6 563.6 387.6)"/>
</g>
</g>
<text x="568.9" y="310" font-size="13.8" textLength="29.8" lengthAdjust="spacingAndGlyphs" style="fill:#eceaf6">FLS1</text>
<rect x="578.4" y="316.8" width="11.4" height="11.6" fill="none" stroke="#eceaf6" stroke-width="0.8"/>
<text x="548" y="362.2" font-size="13.6" textLength="26.3" lengthAdjust="spacingAndGlyphs" style="fill:#eceaf6">RSC</text>
<rect x="553.2" y="367" width="12.2" height="11.4" fill="none" stroke="#eceaf6" stroke-width="0.8"/>
<text x="587.8" y="370.3" font-size="13.6" textLength="15.7" lengthAdjust="spacingAndGlyphs" style="fill:#eceaf6">V1</text>
<rect x="589.7" y="375.1" width="12.2" height="11.4" fill="none" stroke="#eceaf6" stroke-width="0.7" stroke-opacity="0.8"/>
<line x1="650" y1="287" x2="669" y2="287" stroke="#fff" stroke-width="1.1"/>
<line x1="659.5" y1="277" x2="659.5" y2="297.3" stroke="#fff" stroke-width="1.1"/>
<text x="659.5" y="275.1" font-size="11.8" text-anchor="middle" style="fill:#fff">A</text>
<text x="659.5" y="308.1" font-size="11.8" text-anchor="middle" style="fill:#fff">P</text>
<text x="648.3" y="291.6" font-size="11.8" text-anchor="end" style="fill:#fff">M</text>
<text x="670.8" y="291.6" font-size="11.8" style="fill:#fff">L</text>
<rect x="653" y="395.6" width="18" height="2.5" fill="#fff"/>
<text x="647.3" y="408.9" font-size="12.2" textLength="30.5" lengthAdjust="spacingAndGlyphs" style="fill:#fff">1 mm</text>
<rect x="525.5" y="431" width="157.5" height="13.2" fill="url(#cbar)"/>
<text x="604.2" y="461" font-size="15.2" text-anchor="middle" textLength="143" lengthAdjust="spacingAndGlyphs">Activity increase from</text>
<text x="604.2" y="477.6" font-size="15.2" text-anchor="middle" textLength="117" lengthAdjust="spacingAndGlyphs">baseline (no SWR)</text>
</g>
<g id="panel_d">
<text x="4" y="561" font-size="15.5" font-weight="bold">d</text>
<rect x="339.5" y="545.5" width="346" height="40" fill="#fff" stroke="#8e8e8e" stroke-width="1"/>
<rect x="345.5" y="550.2" width="11" height="11" fill="#b8e3f8"/>
<rect x="345.5" y="569.2" width="11" height="11" fill="#fbc9c4"/>
<text x="361.3" y="561" font-size="13.6" textLength="317.5" lengthAdjust="spacingAndGlyphs">Concurrent hippocampal and neocortical ripple event</text>
<text x="361.3" y="579" font-size="13.6" textLength="172" lengthAdjust="spacingAndGlyphs">Neocortical-only ripple event</text>
<rect x="153.1" y="597.2" width="65.2" height="195.6" fill="#b6e2f8" rx="17" ry="17"/>
<rect x="278.3" y="597.2" width="64.6" height="195.6" fill="#fac8c3" rx="17" ry="17"/>
<rect x="520.6" y="597.2" width="64.6" height="195.6" fill="#b6e2f8" rx="17" ry="17"/>
<path d="M138.3 593.8H131.6V721.2H138.3M124.2 657.6H131.6" fill="none" stroke="#555" stroke-width="0.9"/>
<text x="24.5" y="662" font-size="13.4" textLength="96.4" lengthAdjust="spacingAndGlyphs">Neocortex (PPC)</text>
<text x="43" y="741.6" font-size="13.4" textLength="77.9" lengthAdjust="spacingAndGlyphs">White matter</text>
<text x="40.3" y="770.1" font-size="13.4" textLength="80.6" lengthAdjust="spacingAndGlyphs">Hippocampus</text>
<path d="M140.2 645.7L140.6 644.6L141.2 643.1L141.8 643.1L142.5 642L143.2 640.4L143.9 640L144.6 639.6L145.5 639.6L146.4 640.6L147.2 641.5L148.1 641.8L149 641.6L149.9 641.4L150.7 641.3L151.6 640.4L152.5 639.8L153.4 639.3L154.2 638.6L155.1 638.1L156 637.5L156.9 636.9L157.7 637L158.3 637.9L158.9 638.7L159.4 639.3L160 640.6L160.6 641.9L161.1 642.4L161.6 642.7L162.1 643.5L163.1 644.4L164 644.8L165 645.5L165.4 645.4L165.7 644.7L166 644.1L166.4 643L166.8 642.3L167.1 640.8L167.5 639.4L167.9 638.9L168.3 638.7L168.7 637.6L169 637.1L169.4 635.4L169.6 633.5L169.9 632.7L170.1 631.1L170.3 629.9L170.5 629.1L170.7 628.4L170.9 628L171.2 628L171.4 626.9L171.6 626.7L171.8 625.4L172 624.7L172.3 623.7L172.5 621.5L172.7 620L172.9 618.2L173.1 618.4L173.4 617.7L173.6 617L173.8 616.8L174.5 616.6L175.3 615.2L176 613.9L176.8 613L177.5 613.1L178.2 613.8L178.5 613.2L178.9 610.9L179.3 608.3L179.7 606.1L180 605L180.4 604.3L180.7 602.9L181.1 602.5L181.4 603.5L181.7 604.8L182 606L182.2 606.9L182.3 605.6L182.5 604.5L182.6 605.3L182.7 606.4L182.9 607.6L183 608.8L183.1 609.8L183.2 610.5L183.3 611.3L183.5 612.5L183.6 612.8L183.7 611.8L183.9 613.1L184 615.3L184.9 620L185.9 615.7L186.9 613.6L187.2 615L187.5 616.9L187.7 618.7L188 620L188.3 622.2L188.5 622.1L188.8 621.4L189.1 620.9L189.3 622.1L189.6 624L189.9 624.9L190.4 627.2L191 630.4L191.6 629.3L192.2 629.9L192.8 629.9L193.7 630.5L194.7 632.5L195.7 631.2L196.4 630.7L197.2 633.5L197.9 635.3L198.6 634.6L199.6 632L200.6 635.5L201.5 635.7L201.9 634.3L202.4 632.6L202.8 629.9L203.2 628L203.6 627.9L204 630.1L204.5 631L204.8 629.8L205.2 626.4L205.5 622.9L205.9 621.4L206.3 620.2L206.6 619.8L207 619.4L207.4 620.1L208.3 619.9L209.3 619L210.3 616.8L210.6 617.2L211 617.6L211.3 617.6L211.7 616.5L212 615.2L212.4 613.7L212.8 612.2L213.2 610.7L213.5 609.8L213.8 608.4L214.1 608L214.5 607.9L214.8 606.8L215.1 606.5L215.5 605.4L215.8 603.6L216.2 602.9L216.6 601.9L216.9 600.7L217.3 599.6L217.6 599.3L218.5 599L219.4 598L220.3 596.8L221.2 596.5L222 597.4L222.4 597.7L222.8 598L223.2 598.2L223.5 599.2L223.9 600.6L224.2 601.2L224.5 602.6L224.9 604.1L225.2 604.7L225.5 606.1L225.8 606.9L226.1 606.8L226.4 607.3L226.6 608.8L226.9 610.2L227.2 610.8L227.5 611.2L227.8 612L228.2 613.2L228.5 614.4L228.9 615.4L229.3 616.1L229.6 617.2L230 618.1L230.4 619.1L230.7 619.2L231.1 619.8L231.6 621.8L232 623L232.4 623.2L232.8 623.9L233.2 624.8L233.6 625.6L234.1 627L234.5 628L234.9 628.8L235.3 629.6L235.7 630.3L236.2 630.7L236.6 631.1L237.3 631L238 629.8L238.8 628.7L239.5 628.8L239.8 629.5L240 630.3L240.3 631.5L240.6 633L240.8 634.4L241.1 635.5L241.3 636.7L241.6 637.9L241.9 638L242.1 638.5L242.4 638.9L242.6 638.4L242.8 637.7L243 637.3L243.2 637.4L243.5 636.7L243.7 635.5L243.9 634.6L244.1 633.2L244.3 632L244.5 630.1L244.7 629L244.9 628L245.1 626.7L245.3 626L245.5 625.3L245.7 624.6L246 623.6L246.2 622.3L246.4 620.7L246.6 619.7L246.8 619.2L247 618.1L247.2 616.5L247.4 615.1L247.6 614.1L247.8 613.6L248 613.4L248.2 613.1L249.2 612.2L250.2 613L251.2 614.6L251.8 615.6L252.3 616.2L252.9 616.9L253.5 618L254.1 619.3L254.4 619.4L254.6 619.6L254.9 620.9L255.1 622L255.4 623.3L255.7 623.7L255.9 624.4L256.2 626L256.5 626.8L256.7 627.6L257 629L257.3 630.1L257.5 630.7L257.8 631.5L258.1 632.4L258.3 633.4L258.6 634.3L258.9 635.2L259.1 636L259.4 636.7L259.7 637.6L259.9 638.7L260.1 640L260.3 640.8L260.5 641.5L260.7 642.9L260.8 644.1L261 645.5L261.2 646.4L261.4 647.6L261.6 649.4L261.8 650.6L261.9 651.3L262.1 651.5L262.3 651.9L262.5 652.8L262.7 653.8L262.8 653.9L263.1 653.7L263.3 653.4L263.5 652.4L263.7 650.9L264 649.5L264.2 648.4L264.4 647.2L264.6 645.7L264.9 644.6L265.1 643.6L265.3 642.9L265.5 642.5L265.8 642.1L266.2 641.7L266.6 641.6L267 642.4L267.4 643.8L267.9 646.2L268.3 647.5L268.7 647.7L269 648.5L269.2 649.4L269.5 650.5L269.8 651.5L270.1 651.9L270.3 652.4L270.6 653.7L270.9 655.3L271.3 656.1L271.6 656.4L272.1 657.2L272.6 658.3L273.2 659.6L273.8 660.6L274.4 661.6L275 662.2L275.5 662.1L276 662.7L276.4 662.4L276.8 661.2L277.1 661.1L277.4 660.4L277.8 659.2L278.1 657.3L278.5 656L278.9 655.6L279.2 654.6L279.5 653.8L279.8 652.1L280.1 650.7L280.5 650.6L280.8 650.8L281.2 649.8L281.5 648.8L281.9 648.3L282.2 647.2L282.6 645.7L282.9 644.3L283.3 643.2L283.6 641.8L283.8 641.5L284.1 640.8L284.4 639.5L284.7 639L284.9 638.3L285.2 637.5L285.5 636.5L285.7 635.8L286 634.9L286.3 633L286.6 631.5L286.8 631.1L287.1 629.7L287.4 628.5L287.7 628.2L288.2 627.5L288.7 626.4L289.2 626L289.7 624.9L290.2 623.1L290.7 622.7L291.2 622.2L291.6 621.6L292 621.4L292.9 620.2L293.6 618.9L294.3 616.6L295 617.4L295.4 618.4L295.8 619.3L296.2 622L296.6 624.9L297 623.2L297.5 622.7L297.9 623.5L298.6 623L299.3 623.5L300 623.5L300.8 620.9L301.3 619.4L301.8 619.6L302.3 619.9L302.9 619.9L303.5 620.7L304.1 618.2L304.6 615.2L305.2 613L306.1 614.9L306.9 616.2L307.8 614.8L308.7 611.5L309.6 612L310.4 614.6L311.3 611.2L312.2 609.8L313.1 612.6L313.9 612.9L314.8 608.4L315.6 607.7L316.4 611.5L317.3 610.4L318.3 609.4L319.1 609.7L320 612.5L320.9 611.6L321.9 609.3L322.8 611.7L323.6 613.7L324.4 612.9L325.5 612.3L326.5 614.2L327.4 613L328.2 612.9L328.4 613.3L328.6 614.5L328.8 615.5L328.9 616.4L329.1 617.3L329.2 618.9L329.4 620L329.5 621.7L329.7 623L330 625L330.2 626.9L330.9 625.6L331.8 622.7L332.7 622.9L333.7 623.9L334.6 621.9L335.5 620.6L336.4 620.7L337.2 619.7L338.1 618.9L339 618.2L339.9 619.2L340.7 619.8L341.6 620.8L342.5 621.5L343.4 621.8L344.2 621.4L345.1 620.5L346 620.5L346.9 620.4L347.7 620.1L348.6 620.7L349.5 621.4L350.4 622.4L351.2 623L352.1 622.6L353 622.2L353.9 621.3L354.7 620.7L355.6 620.3L356.5 620.4L357 620.6L357.6 621.1L358.1 622.3L358.7 622.8L359.2 623.3L359.8 623.6L360.3 625L360.9 626.4L361.6 627L362.3 627.6L363.1 628.1L363.8 628.7L364.5 629.8L365.3 630.7L366.1 630.7L367 631.3L367.9 631.9L368.8 632.6L369.6 632.8L370.4 633.6L371.1 635.8L371.8 636.7L372.6 636.3L373.3 637.5L374 638L375.1 638.6L376.2 638.3L377.3 637.5L378.4 638.2L379.3 637L380.1 635.9L381 635.3L381.9 635.8L382.8 634.7L383.6 634L384.5 633.5L385.4 633.7L386.3 634L387.2 632.7L388 632L388.9 633L389.8 632.3L390.7 631.3L391.5 631.9L392.4 632.9L393.3 631.7L394.2 630.1L395 629.9L395.9 630.6L396.8 630.8L397.7 627.6L398.5 627.1L399.4 628.5L400.3 626.9L401.2 626.5L402 627.1L402.9 628.4L403.8 629.1L404.7 628L405.5 628.9L406.4 629.7L407.3 628.9L408.2 629L409.1 630.5L409.9 631.6L410.8 631L411.7 631.4L412.6 632.4L413.4 632.4L414.3 630.7L415.2 630.1L416.1 629.7L416.9 628.9L417.8 628.6L418.3 629.6L418.8 630L419.3 630.5L419.8 631.9L420.2 632.8L420.7 633.6L421.2 634.8L421.7 635.3L422.2 636.2L423.1 637.4L423.9 637.3L424.8 638.1L425.7 639.1L426.6 639.1L427.4 638.8L428.3 638.9L429.2 638.8L430.1 638.2L430.9 637.3L431.8 636.6L432.8 636.6L433.7 636.6L434.5 636.3L435.3 636.9L435.6 637.2L435.9 638.1L436.2 638.6L436.5 638.9L436.8 639.8L437 640.9L437.2 642L437.5 642.3L437.7 644L438 645.2L438.2 647.1L439 649.7L439.7 649.2L440.4 648.3L441.2 648.9L442.1 649.4L443.1 647.6L444.1 646.5L444.8 649.4L445.5 650.6L446.3 649.6L447 649.6L447.6 649.8L448.2 649.6L448.8 648.8L449.3 647.4L449.9 644.8L450.5 644.7L451.1 645.9L451.7 645.1L452.3 643.8L452.8 641.7L453.3 639.5L453.7 638.9L454.1 638.5L454.4 637.6L454.8 636.5L455.2 635.8L455.4 636.7L455.7 637.2L455.9 637.4L456.2 638.1L456.4 639.9L456.7 641.3L456.9 642.6L457.2 643.6L457.9 645.1L458.5 645.8L459.3 646L460.1 646.1L460.9 646.1L461.8 645.9L462.7 645.5L463.6 645.2L464.5 644.3L465.1 643.5L465.7 643.2L466.2 643L466.8 642.7L467.4 641.9L467.9 640.8L468.4 639.7L468.9 639.2L469.3 638.6L469.7 637.3L470.1 636.2L470.5 635.6L470.8 634.9L471.1 633.7L471.5 632.9L471.8 632.4L472.2 631L472.5 629.6L472.9 628.5L473.2 627.3L473.5 626.6L473.9 626.3L474.3 625.8L474.7 624.8L475.5 623.7L476.4 623.2L477.3 623.2L478.2 623.2L479.1 623L480 622.9L480.9 622.5L481.7 622.2L482.6 622.3L483.5 622.3L484.4 621.3L485.3 620.1L486.3 619.5L487.1 619.3L487.9 618.5L489 618.2L489.9 619.4L490.8 620.6L491.1 620.6L491.4 621.3L491.7 622.6L491.9 623.1L492.2 623.4L492.5 624.4L492.8 625.5L493.1 626.9L493.4 628.1L493.8 628.4L494 629.2L494.2 630.6L494.5 631.6L494.8 632.4L495.1 633.2L495.4 634.2L495.7 635.1L495.9 635.6L496.2 636.6L496.5 637.8L496.8 639.3L497.1 640.5L497.4 641.3L497.7 641.9L497.9 642L498.1 643.2L498.5 644.3L498.8 645.1L499.1 646.2L499.4 647.5L499.7 648.5L500 649.2L500.2 650L500.5 650.9L500.8 652.1L501.1 652.5L502 652.1L502.9 651.2L504 651.1L504.8 651.1L505.7 651.2L506.6 651.7L507.6 651.9L508.4 652.2L508.7 652.5L509 653.3L509.3 654.2L509.6 655L509.8 656L510.1 657.7L510.3 658.4L510.6 658.7L510.9 659.8L511.3 660.6L511.7 661.8L512.1 662.9L512.5 663.7L512.9 664.2L513.4 665.1L513.8 666.4L514.3 666.8L514.8 667.9L515.2 669.3L515.7 670L516.1 670.7L516.6 671.3L517.1 672.3L517.6 673.4L518.1 674.1L518.6 675.1L519.1 675.8L519.5 676.2L520 676.9L520.8 678.1L521.6 679.4L522.4 680.1L523.1 680.8L523.8 681.6L524.4 681.5L524.9 681.4L525.3 680.8L525.6 679L525.8 677.6L526.1 676.3L526.5 675L527 674.1L527.6 673.7L528.2 673.7L528.8 673.2L529.5 671.3L530.1 670.5L530.9 670.4L531.7 669.8L532.2 669.2L532.7 668.4L533.3 667.6L533.8 666.4L534.4 666.5L535 666.4L535.5 665.4L536.1 663.9L536.7 662.6L537.2 661.3L537.8 662L538.4 662.8L538.9 661.4L539.5 658L540 656.3L540.5 653.9L540.7 653.8L541 652.9L541.3 655.4L541.5 655.7L541.7 653.7L542 652.5L542.2 652L542.4 651L542.6 648.8L542.8 648.3L543 646.5L543.2 645.3L543.4 644.5L543.8 645.7L544.2 647.9L544.6 650.8L545 653.8L545.4 652.5L545.7 651.6L546.1 650.6L546.5 650.1L546.9 648.8L547.3 649.5L547.8 650.5L548.1 651.7L548.4 652L548.8 652L549.2 650.5L549.6 649.4L549.9 651.4L550.3 652.2L550.7 654.1L551 653.9L551.3 654.2L551.6 654.9L551.9 656.4L552.2 655.4L552.4 654.5L552.7 652.1L553 649.6L553.3 645.6L553.6 643.8L554 644.8L554.4 644L554.8 644.2L555.2 643.9L555.6 643.3L556 642L556.5 640.3L557.3 638.2L558.2 639.7L559.1 640.7L560 638.5L560.9 637L561.6 636.7L562.4 637.1L563.1 636.8L563.8 633.4L564.6 631L565.3 632L566 633.9L566.8 633.6L567.6 628.7L568.3 628.4L569 628.2L569.7 629.4L570.3 629.7L570.9 629.9L571.4 630.8L571.9 632.5L572.6 633.5L573 633.6L573.4 633.2L573.8 631.2L574.3 630.7L574.8 629.1L575.3 627.5L575.7 626.7L576.2 626.7L576.6 626.3L577 625.3L577.5 624.7L577.9 623.6L578.3 622.2L578.7 621L579.1 620.4L579.5 620.5L579.9 619.5L580.1 618.2L580.3 617.8L580.5 616.7L580.7 615.2L581 614.2L581.2 612.8L581.4 611.3L581.6 610.1L581.8 608.7L582 607.7L582.2 607L582.4 606.5L582.6 606L582.8 605.3L583.6 605.3L584.4 606.5L585.1 606.9L585.4 606.4L585.6 605.3L585.8 604L586 602.5L586.2 601.5L586.5 600.3L586.7 598.9L586.9 598.3L587.2 598.5L587.4 598.9L587.6 599.5L587.8 599.1L588 599.9L588.2 600.6L588.5 601.8L588.7 603.3L588.9 604.2L589.2 605.2L589.4 607L589.7 608.3L589.9 609.1L590.1 610.8L590.4 612.3L590.6 612.5L590.9 613.1L591.2 614L591.4 614.6L591.7 615.4L592 616L592.2 617.1L592.5 618.4L592.8 620L593 620.8L593.3 621.8L593.6 622L593.8 622L594.1 623.2L594.4 624.4L594.6 625.4L594.9 626.4L595.2 627.7L595.4 629L595.7 629.9L595.9 630.2L596.2 631.7L596.5 632.9L596.8 633.4L597.1 633.7L597.4 634.9L597.7 635.6L598 636L598.3 636.9L598.6 638.3L598.9 639.5L599.5 639.8L600 638.2L600.6 636.5L601.2 634.9L601.8 632.8L602.8 633.3L603.7 633.5L604.7 632.2L605.4 633L606.1 634.8L606.8 636.2L607.6 636.6L608.4 636.5L609.3 637.5L610.2 638.8L611.1 637.3L612 636.1L612.6 637.2L613.1 637.8L613.7 636.8L614.3 635.3L614.8 633.6L615.4 632.7L615.9 631.8L616.4 631.6L616.9 631.6L617.5 629.9L618 628L618.5 626.9L619 626L619.5 626.1L619.9 626.8L620.2 627.2L620.5 627.6L620.8 628.5L621 628.4L621.3 629L621.5 630.3L621.8 631.8L622.2 634.1L623 634.9L623.9 633.5L624.9 633L625.8 635.3L626.6 635.9L627.1 635L627.5 636.1L628 636.4L628.4 637.9L628.7 639.3L629.1 640.3L629.5 640.8L630.5 640L631.5 638.7L632.4 639.1L632.8 639.6L633.2 640.9L633.5 641.3L633.9 642.1L634.3 643.5L634.6 644.3L635 645.6L635.4 646.9L635.9 647.5L636.5 645.8L637 643.8L637.6 642.3L638.3 641.5L638.9 640.5L639.7 641.3L640.5 640.1L641.3 637.8L642 637.3L642.7 637.5L643.7 637.3L644.7 635.2L645.6 634.3L645.9 635.3L646.3 636.2L646.7 637.5L647 639.6L647.4 641.6L647.8 643.1L648.1 643.8L648.5 643.9L648.8 644.8L649.1 645.3L649.4 645.7L649.7 645.5L650 645.9L650.3 647.4L650.5 649L650.8 650.7L651.1 651.9L651.4 652.8L651.7 653.6L652 654.4L652.3 655L652.6 655.6L652.9 655.4L653.2 656.3L653.5 658.1L653.8 659.1L654.1 660.1L654.3 661.3L655.1 663.1L655.8 663.7L656.5 663.6L657.3 663.1L658.2 663.2L659.2 662.4L660.2 661.5L660.7 662.9L661.3 664.7L661.9 665.2L662.5 666.3L663.1 667L663.7 666.2L664.3 666.1L664.9 666.2L665.5 665.2L666.2 664.9L666.8 663.4L667.5 662.3L668.2 661.7L668.9 660.3L669.6 659.4L670.4 658.7L671.1 658.2L671.9 657.9L672.6 658.2L673.4 659.1L674.1 660.1L674.9 661.7L675.6 662.2L676.2 662.4L676.7 661.9L677.1 660.8L677.4 659.7L677.8 658.3L678.1 657.3L678.5 656.1L678.8 655.2L679.2 654.8L680 654.3L680.8 653.6L681.6 653L682.1 653.1" fill="none" stroke="#c9383c" stroke-width="0.95" stroke-linejoin="round"/>
<path d="M140.2 668L140.6 667.7L141 667L141.5 666L142.1 665.4L142.8 664.3L143.4 663.3L144 662.5L144.6 662.1L145.3 663L146.1 664L146.8 665.8L147.5 666.6L148.2 666.5L149 666.8L149.5 666.3L150 665.7L150.4 664.8L150.9 663.8L151.4 663.8L151.9 662.7L152.4 661.2L152.9 660.8L153.4 660.2L154.1 658.9L154.8 657.5L155.5 656.5L156.3 655.8L157 654.8L157.7 655.1L158.1 655.8L158.5 656.3L158.9 657.2L159.3 657.9L159.6 658.3L160 658.8L160.4 660.3L160.8 661.7L161.1 662.1L161.5 663.1L161.8 664.3L162.1 665.6L162.5 666.6L162.9 667.6L163.3 669.3L163.6 670.3L163.9 671.1L164.2 672.3L164.6 672.9L165 672.5L165.3 672.2L165.6 672L165.9 671.6L166.3 670.2L166.6 669.6L167 668.9L167.3 667.6L167.7 666.1L168 665.1L168.4 663.9L168.7 662.3L169.1 660.7L169.4 660L169.7 659.6L170 658.4L170.2 657.7L170.5 657.2L170.8 657.5L171.1 656.7L171.3 656.2L171.6 654.9L171.9 653.1L172.2 651.6L172.4 650.3L172.7 648.6L173 647.1L173.2 646.6L173.5 646.8L173.8 646.5L174.1 646.9L174.5 646.8L174.8 645.9L175.2 643.1L175.5 640.4L175.9 639L176.3 638.4L176.6 639L176.9 638.1L177.3 637.6L177.6 636.8L177.9 635.9L178.2 636.4L178.5 635L178.9 632.6L179.2 630.1L179.5 627.5L179.8 624.9L180.1 624L180.3 623.7L180.6 623L180.8 625.1L181.1 627.4L181.3 628.9L181.5 628.4L181.7 629.1L181.9 629.1L182.1 629.2L182.2 630.5L182.4 632.4L182.6 633.3L182.8 632.7L182.9 632.8L183.1 634.5L183.9 637.6L184.6 638.5L185.5 635.5L185.9 635.2L186.3 638.2L186.7 639.8L187.1 642.4L187.5 643.5L188 643.8L188.4 643.1L189 642L189.5 643L190 645.3L190.6 647.9L191.3 648.8L191.8 648.1L192.3 646.5L192.8 649L193.4 653.1L194 654.9L194.6 653L195.1 651.7L195.7 651.7L196.6 654.7L197.4 657.1L198.3 654L199.2 655L200.1 658.3L200.6 657.1L201.2 655.2L201.7 654.1L202.3 654L202.8 655.3L203.4 654.2L203.9 652.6L204.5 651.1L204.7 649.2L205 648L205.3 647.1L205.6 646.8L205.9 647.5L206.2 647.3L206.5 646.6L206.8 645.5L207.1 644L207.4 641.4L207.7 639.3L208 639.3L208.2 638L208.5 637.7L208.8 638.4L209.2 638.5L209.6 636.2L209.9 635L210.3 632.8L210.7 632.1L211 630.8L211.4 631.1L211.8 630.9L212.1 631.5L212.5 631.2L212.8 629L213.2 626.7L213.6 625.6L213.9 624.2L214.3 623.5L214.7 623L215 622.4L215.4 622.1L215.8 621.8L216.1 620.9L216.5 619.7L216.9 618.1L217.2 617.1L217.6 617L218.3 616.2L219.1 615.4L219.9 614.4L220.6 613.6L221.3 613.4L222 612.7L222.5 612.7L222.9 613.9L223.2 614.7L223.6 615.5L224 616.1L224.4 617.3L224.9 618.8L225.2 619.5L225.5 620.4L225.9 621.4L226.2 621.5L226.6 622.7L227 623.9L227.4 624.9L227.8 626.3L228.1 626.4L228.5 627.1L228.9 628.1L229.3 628.9L229.8 629.6L230.2 630.2L230.7 630.9L231.2 631.8L231.7 633.1L232.2 633.6L232.7 634.2L233.2 635.1L233.6 635.9L234.4 636.7L235.2 637.4L235.9 637.8L236.7 638.4L237.4 639.5L238 640.6L238.3 641.2L238.6 642.5L238.9 644.1L239.1 644.8L239.4 645.8L239.6 647.2L239.8 648.5L240.1 649.7L240.3 650L240.6 650.1L240.9 650.2L241.2 650.5L241.4 649.7L241.6 649.1L241.8 648.9L242.1 647.9L242.3 647L242.5 646L242.8 645.4L243 644.5L243.3 642.8L243.6 641.9L243.8 640.9L244.1 639.3L244.3 638.1L244.6 637.4L244.8 636.5L245.1 635.5L245.3 634.8L245.7 633.8L246 632.6L246.3 631.7L246.7 630.8L247 629.5L247.3 628.3L247.7 626.8L248 625.8L248.4 625.2L248.7 624.3L249 622.9L249.4 622.4L249.7 623.1L250.3 623.5L250.8 624L251.4 624.2L252 624.6L252.6 626.2L253.1 627.5L253.6 627.8L254.1 628.2L254.6 629.1L255 629.9L255.4 630.2L255.8 630.8L256.2 632.1L256.6 633.4L257 634.7L257.2 634.8L257.4 635.8L257.6 637.2L257.8 638.4L258.1 639.4L258.3 640.1L258.5 641.2L258.7 641.7L258.9 642.7L259.1 644.5L259.3 644.9L259.5 645.8L259.7 646.7L259.9 648.2L260.1 649.6L260.3 649.8L260.4 650.4L260.6 651.5L260.7 653L260.9 654.2L261.1 655.4L261.2 656.6L261.4 657.3L261.5 658.6L261.7 660.5L261.9 660.7L262 660.8L262.2 662.4L262.4 662.9L262.5 662.8L262.7 663.2L262.8 663.7L263.1 663.6L263.3 662.7L263.5 661.9L263.7 661.4L264 660.6L264.2 659.5L264.4 658.2L264.6 656.4L264.9 654.9L265.1 653.8L265.3 653.3L265.5 652.7L265.8 652.1L266.2 652.1L266.6 652.7L267 653.3L267.4 653.9L267.9 655.3L268.3 656.8L268.7 658L269 658.6L269.4 659.7L269.7 660.8L270.1 661.7L270.4 662.7L270.8 663.3L271.2 664L271.6 665L271.9 665.8L272.3 667.3L272.6 668.3L273 669.1L273.3 670.2L273.7 671.2L274.1 672.4L274.5 674.1L274.9 674.6L275.2 674.7L275.6 675.7L276 675.8L276.4 675.3L276.7 675.7L277.1 675.3L277.4 673.7L277.8 672.2L278.2 671.1L278.5 670.3L278.9 669.6L279.3 668.7L279.6 667.2L280 666.6L280.4 666.1L280.7 664.8L280.9 663.9L281.2 663.2L281.5 662L281.8 660.8L282.1 659.8L282.4 659.2L282.7 658.3L283 657.7L283.3 657.1L283.6 656.8L283.9 655.7L284.2 654.6L284.5 654.1L284.7 652.6L285 650.7L285.3 649L285.6 648.6L285.8 647.9L286.1 647.3L286.4 647.6L286.7 647.3L286.9 644.6L287.2 641.7L287.5 640.4L287.8 640.2L288 640.3L288.3 639.6L288.6 638.3L288.9 637.4L289.1 637.8L289.6 637.1L290 636.2L290.5 634.7L290.9 633L291.4 630.1L291.9 629.6L292.3 630L292.7 630.3L293.1 629.4L293.5 629.7L294 629.6L294.4 629.3L294.9 628.7L295.2 629.2L295.6 631.5L296 633.8L296.4 635.6L297.2 637.2L297.9 637.4L298.6 636.9L299.3 636.3L299.6 637L299.9 637.1L300.2 636.9L300.4 636.1L300.7 635.3L301 633.3L301.3 631.6L301.6 630.3L301.9 628.3L302.3 625.2L302.9 626.5L303.6 627.9L304.4 629.4L305.1 627.3L305.9 622.8L306.6 623.9L307.5 625L308.3 623.6L309.2 620.3L310.1 620.7L311 623.2L311.8 621L312.5 618.6L313.3 619.4L314.2 621.3L315 618.8L315.9 616.8L316.9 619.3L317.7 619.2L318.7 617.5L319.7 618.8L320.7 620.2L321.8 616.9L322.7 619.8L323.6 621.4L324.4 621.1L325.2 617.7L326 619.8L326.6 622.7L327.2 623.4L327.7 624L328.2 624.1L328.5 624.6L328.7 624.6L328.9 625.2L329.1 626.8L329.2 628.2L329.4 629.8L329.6 631L329.9 633.7L330.2 634L330.9 635L331.8 633.6L332.7 632L333.7 631.9L334.6 631.9L335.5 630.7L336.4 629.8L337.2 630.7L338.1 631.2L339 629.8L339.7 629.8L340.4 630.6L341.2 632.2L341.9 634L342.6 634.8L343.4 634.6L344.2 634.2L345.1 634.5L346 634.3L346.9 633.4L347.7 632.8L348.6 633.2L349.5 634.4L350.4 635.5L351.2 635.8L352.1 636.4L353 636L353.9 634.6L354.7 634L355.6 633.9L356.5 633.3L357 633.1L357.6 634L358.1 634.8L358.7 635.9L359.2 637L359.8 637.4L360.3 637.3L360.9 638.3L361.4 639.9L362 641.3L362.5 641.6L363.1 641.6L363.6 643.1L364.2 643.9L364.7 644.5L365.3 645.4L366.1 645.5L367 646.2L367.9 647L368.8 647.2L369.6 647.5L370.5 647.7L371.4 649.2L372.3 650.4L373.1 650.9L374 650.4L374.9 650.6L375.8 652L376.6 651.4L377.5 651L378.4 652.5L379.3 652.9L380.1 651.6L381 649.8L381.9 649.3L382.8 649.8L383.6 648.9L384.5 647.8L385.4 648L386.3 647.2L387.2 645.8L388 645.8L388.9 647.5L389.8 647.5L390.7 647L391.5 649.1L392.4 648.6L393.3 646.5L394.2 644.8L395 645.4L395.9 645.6L396.8 644.4L397.7 643.2L398.5 642.9L399.4 643.1L400.3 641.9L401.2 641.3L402 641.9L402.9 641.7L403.8 639.9L404.7 640L405.8 641.2L406.9 640.2L408 639.6L409.1 640.6L409.9 641L410.8 640.3L411.7 639.2L412.6 639.2L413.4 639.1L414.5 638.4L415.6 637.9L416.7 638.6L417.8 638.7L418.2 639.1L418.7 640.2L419.1 641.1L419.6 642.5L420 643.5L420.4 644.6L420.9 646.1L421.3 646.4L421.8 647.2L422.2 648.4L422.9 649.1L423.6 649.1L424.4 649.9L425.1 651L425.8 651.9L426.6 652.7L427.4 652.6L428.3 652.4L429.2 653L430.1 653.4L430.9 653.7L432 653.7L433.1 653.2L434.2 653.6L435.3 654.3L435.7 654L436.1 654.8L436.5 655.5L436.8 656.7L437.2 657.6L437.6 658.1L438 658.9L438.4 660.6L438.7 662L439.1 662.6L439.4 663.8L439.7 663.8L440.5 664.3L441.3 664.8L441.9 665.5L442.6 668L443 668.8L443.5 669.5L443.9 669.4L444.3 669.9L444.7 670.1L445.1 671.8L445.5 673.3L445.9 673.2L446.3 671.5L446.6 671.2L447 669.6L447.4 667.1L447.7 665.5L448.1 663.6L448.5 663.2L449 664.1L449.6 665.3L450.2 664L450.7 661.4L451.4 659.6L451.7 658.4L452.1 658.4L452.5 660.1L452.9 659.8L453.3 656.8L453.7 654.7L454.1 653.3L454.5 652.4L454.9 652.1L455.2 651.6L455.5 652L455.7 653.8L456 654.8L456.2 655.7L456.4 656.9L456.5 657.6L456.7 659.1L457 660.3L457.2 660.7L457.9 661.9L458.5 663L459.3 663.9L460.1 664.1L460.9 663.7L461.8 663.2L462.7 662.3L463.6 661.3L464.5 660.6L465.3 660.1L466 659.4L466.8 659L467.6 658.5L468.3 657.5L468.9 656.3L469.3 655.4L469.7 654.7L470.1 653.6L470.5 652.9L470.8 652.5L471.1 651.7L471.5 650.1L471.8 648.9L472.4 648.2L472.9 647.2L473.5 646.1L474.1 645.1L474.7 644.2L475.7 644.5L476.8 644.7L478 645L479.1 645.3L480 644.5L480.8 643.5L481.6 643.4L482.5 642.9L483.5 642L484.3 641.6L485.1 640.8L486 640L486.9 639.6L487.8 639L488.6 638.3L489.4 638.5L489.8 639.2L490.2 639.7L490.6 640.7L491 641.1L491.3 641.9L491.7 642.9L492 643.5L492.4 645L492.7 646L493 647.2L493.4 648.8L493.8 649.4L494 649.9L494.3 650.7L494.6 651.1L494.9 652L495.2 653.5L495.5 654.8L495.8 656.2L496 656.4L496.3 657.1L496.6 659.1L496.9 660.4L497.1 661.5L497.4 662.1L497.7 662.1L497.9 662.9L498.1 664L499.2 665.3L500 665L501.1 664.7L501.8 664.9L502.7 664.3L503.6 663.5L504.5 663.5L505.4 663.8L505.9 664.3L506.3 665L506.8 665.4L507.2 666L507.6 667.4L508.1 669.1L508.5 670.3L508.9 670.9L509.4 671.7L509.8 672.4L510.3 673.6L510.7 675L511.1 675L511.6 675.8L512 676.8L512.4 677.5L512.9 679.1L513.3 679.8L513.8 680.4L514.2 681.3L514.7 681.3L515.2 682.8L515.7 684.6L516.1 684.2L516.6 685.2L517.1 686.5L517.6 686.7L518.1 687.6L518.6 688.8L519.1 689.9L519.6 690.2L520.1 691L520.7 691.8L521.2 693L521.7 694.2L522.1 694.9L522.6 695.2L523 695.6L523.8 698.1L524.4 699.3L525 698.7L525.2 698.3L525.4 697.5L525.6 696.8L525.8 696L526 694.7L526.2 693.5L526.5 692.8L526.7 692.4L527 691.4L527.3 690.4L527.8 689.3L528.3 688.1L528.8 687.1L529.4 686.5L530 686.2L530.6 686.5L531.2 686.4L531.7 684.8L532.3 682.8L532.8 681.9L533.4 681.7L533.9 682L534.5 681.4L535 680.5L535.5 678.5L536.1 677.6L536.6 676.7L537.1 676.5L537.6 677.2L538.1 678.7L538.6 676.5L539.1 672.4L539.6 670.2L540.1 671.3L540.5 670.6L540.9 671.6L541.3 671.8L541.7 671.8L542.1 670.5L542.4 667.2L542.7 664.7L543.1 663.6L543.4 662.9L543.9 662.2L544.4 662.2L544.8 662.1L545.3 660.3L545.7 658.9L545.9 659.9L546.1 661.1L546.3 661.6L546.5 662.2L546.7 662.2L546.9 664.1L547 665.3L547.2 665.4L547.4 664.9L547.6 665.7L547.8 667.9L548.1 669.1L548.4 667.5L548.7 666.4L549.1 665.4L549.4 665.3L549.8 666L550.1 665.4L550.3 665.2L550.6 665.2L550.8 666L551.1 667.5L551.4 668.8L551.7 669.3L552 670.6L552.2 673.8L552.5 676.5L552.7 677.5L553 676.4L553.2 675.9L553.4 673.5L553.6 672.6L553.8 671L554 668.6L554.2 666.1L554.4 664.9L554.6 663L554.8 662.4L555.1 661.2L555.6 662.6L556.1 665.2L556.7 664.7L557.3 661L558 657.2L558.6 655.6L559.3 658.2L560.1 660L560.9 656.7L561.6 652.1L562.4 653.5L563.1 658.2L563.9 654.2L564.6 649.9L565.4 651.5L566.1 653.8L566.8 651.9L567.4 648.8L568 646.9L568.6 647.6L569.2 646.9L569.7 646.8L570.3 647.9L570.8 648L571.2 648.5L571.6 649.2L572 648.7L572.6 650.4L573 651L573.4 650.2L573.9 649.1L574.4 649L574.9 647.6L575.4 646.1L576 645.3L576.5 645L577 644.2L577.4 642.8L577.9 641.2L578.3 640L578.8 639.7L579.3 639.1L579.7 638.2L580.1 637.7L580.6 637.3L581 635.8L581.4 634.2L581.6 633.3L581.9 632.6L582.1 631.8L582.4 630.5L582.6 629.4L582.8 628.8L583 627.3L583.2 626.4L583.4 626.1L583.6 625.6L583.8 624.9L584 624.1L584.3 623.7L585 621.9L585.7 620L586.5 619.4L587.2 621L587.5 620.5L587.8 620.6L588.1 622.1L588.4 623.1L588.6 623.6L588.9 623.8L589.2 625.2L589.5 625.9L589.8 627L590.1 629.4L590.3 630L590.5 630.9L590.7 632.6L590.9 632.9L591.2 632.9L591.4 633.9L591.6 635.1L591.8 636.1L592 637L592.2 637.7L592.4 639.3L592.6 640.4L592.8 640.9L593 641.8L593.3 643.4L593.6 644.3L593.9 644.9L594.2 646.1L594.5 646.4L594.8 646.2L595.1 647.3L595.4 649L595.7 649.9L595.9 650.8L596.4 651.9L596.8 652.9L597.2 653.9L597.6 654.1L598 654.9L598.5 656.1L598.9 657L599.6 656.9L600.2 656.4L601 654.9L601.8 652.9L602.4 653.1L603.1 652.4L603.9 651.1L604.7 649.9L605.4 648.8L606.2 649L606.9 650.5L607.6 651.3L608.4 650.9L609.1 651.4L609.8 653.9L610.5 655.7L611.4 653.6L612.4 652L613.3 652.6L614.1 652.7L614.9 650.9L615.6 648.5L616.2 648.6L616.8 648.2L617.3 649L617.8 648.6L618.3 645.8L618.8 643.5L619.3 642.5L619.7 641.3L620.2 640.7L620.4 641.9L620.7 643L620.9 645.2L621.2 646L621.4 647L621.7 647.2L621.9 648.1L622.2 649L622.5 649.7L622.8 650.1L623.5 651L624.3 651.6L625.1 652.9L625.9 652.9L626.6 652.5L627.1 653.8L627.5 655.7L627.9 657.4L628.3 658.1L628.7 658.8L629.1 658.1L629.5 658.3L630.3 658.5L631 658.8L631.7 658.1L632.4 656.7L632.8 656.1L633.2 657L633.5 658L633.9 660.4L634.3 662.7L634.6 663L635 663.4L635.4 664L635.9 664L636.5 663.1L637 661.8L637.6 660.9L638.3 660.3L638.9 658.7L639.7 656.7L640.5 655.3L641.3 656.7L642 657.1L642.7 655.3L643.7 652.9L644.7 652.3L645.6 654.2L645.9 654.6L646.1 654.5L646.4 655.8L646.7 656.4L647 656.5L647.2 656.9L647.5 658.2L647.8 660.5L648.2 661.6L648.5 662.8L648.9 663.7L649.3 664.6L649.7 665.6L650.2 665.8L650.6 666.4L651.1 667.3L651.5 668L652 668.8L652.4 669.6L652.9 670.9L653.3 672.3L653.8 673.4L654.2 674.3L654.6 674.8L655.1 675.1L655.5 676.2L655.9 677.3L656.4 678.6L656.8 679.8L657.3 680.3L658 680.2L658.8 681.4L659.5 683L660.3 684L661 684.3L661.6 684L662.4 683.6L663.1 683L663.8 682.7L664.6 681.8L665 680.9L665.6 679.6L666.1 678.6L666.7 677.7L667.2 677.3L667.8 676.8L668.4 675.8L668.9 675.3L669.7 675.4L670.4 676.9L671.1 678.2L671.9 679.1L672.6 679.7L673.3 679.8L673.8 680L674.3 679L674.8 677.6L675.3 676.7L675.8 676L676.2 674.8L676.7 673.6L677.2 672.8L677.7 671.8L678.6 671.8L679.7 671.5L680.6 670.7L681.5 670.6L682.1 670.3" fill="none" stroke="#c9383c" stroke-width="0.95" stroke-linejoin="round"/>
<path d="M140.2 691.2L140.7 690.6L141.4 689.8L142.1 689.4L143 688.4L143.8 687.7L144.6 687.3L145.1 687.3L145.7 688.8L146.2 689.4L146.8 690L147.3 691.5L147.9 692.5L148.4 693L149 693.3L149.5 693.2L150 693L150.4 691.7L150.9 690.3L151.4 689.8L151.9 688.9L152.4 687.8L152.9 686.5L153.4 685.7L154.1 684.7L154.9 683.9L155.6 683L156.4 681.2L157.1 680.1L157.7 680.8L158.2 682.3L158.6 682.8L159 683.2L159.4 684.2L159.8 685.1L160.2 686L160.7 686.7L161 687.7L161.4 689.2L161.9 690.2L162.3 691.3L162.8 692.8L163.2 693.5L163.7 694.4L164.1 695.6L164.6 696.1L165 696.2L165.4 695.8L165.8 694.9L166.1 694.5L166.5 694.1L166.9 693L167.2 692.4L167.6 691.8L168 690.5L168.3 689.5L168.7 688.5L169.1 686.8L169.4 685.3L169.7 684.6L169.9 683.4L170.1 682.5L170.4 682.4L170.6 681.9L170.9 681L171.1 680.2L171.4 679L171.6 678.5L171.8 677.1L172.1 676.2L172.3 674.7L172.6 672.7L172.8 671.2L173.1 670.8L173.3 670.1L173.6 669.5L173.8 668.3L174.2 668.2L174.5 668L174.9 668L175.3 667L175.7 665.5L176.1 663.4L176.5 661.2L176.9 661.1L177.2 661.6L177.6 661.4L177.9 660.8L178.2 660.1L178.5 658.1L178.8 656.8L179 655.2L179.3 653.7L179.5 652.4L179.7 651.7L179.9 650.8L180.1 649.9L180.3 650.6L180.5 650.8L180.7 652.6L180.9 653.4L181.1 653.7L181.2 654.9L181.4 655.7L181.6 656.2L181.8 656.8L181.9 657.8L182.1 658.7L182.3 658.3L182.6 658.7L183.2 660.9L183.9 663L184.6 665.5L185.5 664.2L185.9 663.1L186.3 664.6L186.8 665.6L187.3 666.8L187.8 669.6L188.3 669.7L188.9 668.1L189.4 669.3L189.9 671L190.3 673.2L190.8 674.7L191.3 675.4L191.8 673.9L192.3 670.8L192.8 673.5L193.3 677L193.7 680.4L194.2 679.7L195.1 678.7L196 679.8L196.9 682.6L197.7 681.5L198.6 679.7L199.2 680.6L199.7 681.4L200.3 682.4L200.8 680.1L201.4 677.6L201.9 676.4L202.4 675.5L203 675.5L203.4 675.8L203.7 676.5L204.1 674.4L204.5 672.7L204.8 672.5L205.2 671.3L205.5 668.8L205.9 667.9L206.3 666.9L206.6 667L207 666.6L207.4 666.9L207.7 666.6L208 665.1L208.2 662.9L208.5 662L208.8 659.5L209.1 658.8L209.4 658.7L209.7 657.9L210 656.1L210.3 655.2L210.6 655.3L210.9 655.3L211.2 655L211.5 653.4L211.8 651.5L212.1 649.5L212.4 648.9L212.8 648.6L213.1 648.3L213.4 647.3L213.8 646.9L214.1 646.5L214.4 645.8L214.8 643.9L215.1 642.3L215.5 642L215.8 641L216.1 639.9L216.7 639.2L217.3 638.3L217.8 637.7L218.4 636.8L219 635.8L219.5 635L220 635.2L220.5 635L221.5 634.1L222.4 635L223.4 636.1L223.7 636.2L224 637.6L224.3 638.8L224.7 639.8L225 639.9L225.4 640.7L225.7 641.7L226.1 643.2L226.4 644.5L226.8 645.2L227.1 646L227.5 647L227.8 647.7L228.2 648.6L228.7 649.7L229.1 650.7L229.6 651.7L230 652.6L230.4 653.8L230.9 654.6L231.3 655.2L231.8 655.9L232.2 656.3L232.7 657.2L233.3 657.9L233.8 658.6L234.4 659.2L234.9 659.7L235.5 660.2L236 661.3L236.6 662.4L236.9 662.9L237.2 664.3L237.6 666L237.9 667.2L238.3 668.2L238.6 669.4L238.9 670.2L239.3 671.3L239.6 672.6L239.9 673.1L240.3 673.6L240.6 674.1L240.9 673.9L241.2 673.8L241.5 673.8L241.8 673.1L242.1 671.9L242.4 671.2L242.7 670.4L243 669.5L243.3 668.5L243.6 667L243.9 665.4L244.2 664.3L244.5 663.8L244.7 662.9L245 662.3L245.3 661L245.8 659.2L246.2 658.2L246.7 657.6L247.2 656.7L247.6 655.7L248.1 654.6L248.5 653.6L248.9 652.8L249.3 652.7L249.7 652.8L250.5 652.3L251.2 653.1L251.8 654.5L252.6 655.3L252.9 655.8L253.3 656.9L253.7 657.6L254 658.1L254.4 658.9L254.8 660.1L255.2 661.3L255.6 662.3L256 663L256.3 664.1L256.7 664.7L257 665.6L257.4 667.1L257.8 667.7L258.2 668L258.6 668.6L258.9 669.4L259.2 670.4L259.6 671.4L259.9 673L260.1 674L260.3 674.6L260.5 675.4L260.7 676.4L260.8 677.7L261 678.7L261.2 679.7L261.4 680.6L261.6 681.5L261.8 683L261.9 684.7L262.1 685.6L262.3 685.8L262.5 686.6L262.7 687.3L262.8 687.4L263.1 687.3L263.4 686.3L263.6 685.7L263.9 684.7L264.2 682.7L264.4 681.3L264.7 680L265 678.9L265.2 677.9L265.5 677.6L265.8 677L266.2 676.6L266.6 677.3L266.9 678.1L267.3 679.2L267.7 681L268.2 682.1L268.7 682.8L269.1 683.7L269.5 684.8L269.9 686L270.4 686.6L270.9 687.4L271.3 688.4L271.8 689.1L272.3 689.9L272.7 691.1L273.1 691.3L273.5 692.1L274 694L274.3 695.4L274.7 696.2L275.1 697L275.5 697.8L276 698L276.4 697.2L276.8 696.7L277.2 696.2L277.6 695L278.1 694.1L278.5 692.8L279 691.7L279.5 690.8L279.9 689.2L280.4 688.3L280.7 688.3L280.9 687.2L281.2 685.9L281.5 684.8L281.8 684.5L282.1 684.3L282.4 682.9L282.7 682.2L283 681.2L283.3 680.4L283.6 679.3L283.9 677.7L284.2 676.8L284.5 676.3L284.7 675.6L285.1 675.2L285.4 674.9L285.8 674.2L286.1 673.3L286.4 671.6L286.8 669.8L287.1 667.9L287.4 666.1L287.8 666L288.1 666L288.5 665.8L288.8 665.5L289.1 665.2L289.5 664L289.9 662L290.3 660.2L290.6 658L291 657.7L291.4 657.8L291.8 658.5L292.2 658.2L292.5 656.1L292.9 654.4L293.2 652.5L293.5 651.7L293.9 651.9L294.2 653.7L294.5 654.3L294.8 656.7L295.1 658.5L295.3 660.7L295.6 662.2L295.9 663.2L296.1 662.9L296.4 662.8L297.3 662.8L298.3 664L299.3 665.1L299.7 664.7L300.1 662.4L300.5 661.3L301 659.1L301.4 658.9L301.9 658.2L302.4 658.5L302.8 658.1L303.3 657.3L303.7 657.3L304.3 653.3L304.8 652.1L305.4 650.8L305.9 651.3L306.5 651.6L307 652.1L307.6 649.7L308.1 648.5L309 646.2L309.9 648.1L310.7 648.9L311.6 646L312.5 645.2L313.2 646.1L313.8 645.8L314.5 644.1L315.2 641.5L315.9 640.8L316.9 643.3L317.5 643.2L318.2 641.6L319 642.1L319.8 645L320.7 645.2L321.5 644.2L322.3 645.9L323.1 648.4L323.8 649.1L324.4 647.1L324.9 647.7L325.4 648.6L325.8 648.5L326.2 651.8L326.5 655.1L326.9 656L327.2 656.2L327.5 657L327.8 657L328.2 657.4L329.1 657L330 656.7L330.9 659.1L331.7 659.5L332.4 658.1L333.1 656.4L333.8 655.2L334.6 656L335.4 655.1L336.2 651.6L337.2 652.5L338.1 654.3L339 653L339.9 650.2L340.7 652.4L341.6 654.1L342.5 654.1L343.4 654.5L344.2 655.3L345.1 655.3L346 654.4L346.9 654.2L347.7 654L348.6 653.5L349.5 653.9L350.4 655.3L351.2 656.7L352.1 656.9L353 655.9L353.9 655L354.7 654.7L355.6 654.8L356.5 654.8L357 655.3L357.6 656.6L358.1 657L358.7 657L359.2 658.2L359.8 659.2L360.3 660L360.9 661.6L361.4 662.2L362 662.8L362.5 663.3L363.1 663.9L363.6 665L364.2 666L364.7 666.3L365.3 666.8L366.1 667.1L367 667.9L367.9 668.6L368.8 668.6L369.6 668.6L370.5 669.8L371.4 671.1L372.3 670.6L373.1 670.8L374 671.5L374.9 671.9L375.8 671L376.6 671.6L377.5 673.5L378.4 673.5L379.3 671.8L380.1 670.7L381 671L381.9 670.3L382.8 669.1L383.6 667.9L384.5 668.2L385.4 668.3L386.3 667.5L387.2 665.9L388.2 666.8L389.3 667.6L390.4 666.6L391.5 666.2L392.3 666.4L393 665.5L393.7 664.5L394.5 664.1L395.2 663.6L395.9 662.9L396.8 661.4L397.7 660.5L398.5 660.5L399.4 660.2L400.3 658.5L401.2 658.4L402 659.6L402.9 657.8L403.8 657.5L404.7 658.6L405.8 658.3L406.9 657.4L408 658.1L409.1 658.4L409.9 656.9L410.8 656.7L411.7 658L412.6 657L413.4 656.1L414.5 656.3L415.6 656.2L416.7 655.9L417.8 656.8L418.3 657.1L418.8 657.2L419.3 658.6L419.8 659.7L420.2 659.6L420.7 660.8L421.2 662.2L421.7 663L422.2 663.9L422.9 664.6L423.6 664.8L424.4 665.6L425.1 667L425.8 667.5L426.6 667.5L427.7 668.6L428.8 669L429.9 668.3L430.9 667.9L432 667.9L433.1 667.7L434.2 666.9L435.3 667.6L435.7 668.9L436 669.9L436.4 671L436.7 671.7L437.1 671.8L437.4 672.5L437.8 674.1L438.1 675L438.5 676.3L438.8 678.6L439.1 679.6L439.4 680.3L439.7 680.7L440.4 680.6L441 680.7L441.5 682.3L442 684L442.6 685.8L443 686.5L443.5 685.8L444 686.1L444.4 687.8L444.9 689.2L445.3 690.6L445.7 692.2L446.1 692.7L446.6 691.4L447 690.7L447.3 688.8L447.7 686.9L448.1 686.7L448.5 685.9L448.8 685.5L449.2 685.8L449.6 684.8L450 683L450.5 681L450.9 681L451.4 679.9L451.8 679L452.2 678.6L452.7 678L453.1 677.1L453.6 675.2L454 673.6L454.4 672.3L454.8 672.5L455.2 672.6L455.4 673.4L455.6 674.5L455.8 675.4L456 676.2L456.2 677.4L456.3 678.4L456.5 679.1L456.7 680.6L456.8 681.3L457 681.9L457.2 683.2L457.9 684.1L458.5 685.2L459.3 686L460.1 685.5L460.9 685.2L461.8 684.8L462.7 684.5L463.6 684.5L464.5 684.4L465.4 684.2L466.3 683.7L467.3 683.1L468.1 682.8L468.9 681.8L469.2 680.7L469.5 679.9L469.8 678.7L470.1 677.7L470.3 676.7L470.6 675.7L470.8 675.6L471.1 674.9L471.3 672.8L471.6 671.3L471.8 670.7L472.4 669.7L472.9 668.8L473.5 667.9L474.1 666.8L474.7 665.9L475.5 666.2L476.4 666.9L477.3 667L478.2 667.3L479.1 667.9L479.8 667.5L480.5 666.6L481.2 666.2L481.9 665.7L482.7 664.5L483.5 663.6L484.4 663.3L485.4 662.5L486.4 661.9L487.5 662.2L488.5 662.2L489.4 662.2L489.9 662.9L490.4 664L490.8 664.8L491.2 665.7L491.7 667L492.1 667.5L492.5 668.4L492.9 669.4L493.3 670.1L493.8 671L494.3 672.3L494.9 673.1L495.5 673.8L496 674.8L496.6 675.5L497.1 675.5L497.7 675.8L498.1 676.9L499.2 678.4L500 679.3L501.1 678.9L502.1 678.3L503.2 677.5L504.3 677.4L505.4 678.3L505.9 679L506.3 679.6L506.8 680.1L507.2 681.3L507.6 682.1L508.1 683L508.5 684L508.9 684.7L509.4 686L509.8 687.7L510.2 688.1L510.5 688.4L510.9 689.1L511.3 690.2L511.6 691.4L512 691.9L512.4 692.3L512.7 693.5L513.1 695.1L513.5 696.3L513.8 696.8L514.2 697.2L514.6 698.6L514.9 699.9L515.3 700.1L515.7 700.4L516 701.1L516.4 702.3L516.8 703.5L517.1 704L517.5 704.9L517.8 705.6L518.2 706.8L518.6 707.9L519 708.7L519.5 709.3L520 709.8L520.5 711.3L520.9 712.6L521.4 713.3L521.9 713.7L522.3 714.4L522.6 715.6L523 716.5L523.4 717.6L523.6 719.2L523.8 720.2L523.9 720.9L524.1 721.9L524.4 722.6L524.6 722.1L524.9 721.5L525.1 720.8L525.4 719.8L525.7 719.1L526 718.1L526.3 717L526.6 715.7L527 714.5L527.3 713.7L527.8 713.1L528.2 711.7L528.7 710.2L529.2 709.8L529.7 710L530.2 708.6L530.7 706.9L531.2 706L531.7 705.6L532.4 705.8L533.2 705L533.9 703.4L534.6 701.8L535.4 702.6L536.1 702.7L536.5 701.1L537 698.9L537.5 696.8L537.9 697.1L538.4 696.3L538.8 696.9L539.3 697.3L539.7 696.9L540.1 694.1L540.5 693.1L540.9 691.5L541.3 688.9L541.7 688.8L542.1 688.4L542.4 688.7L542.7 688.7L543.1 688L543.4 686.5L543.7 685.4L544 684L544.3 681.8L544.6 679.2L544.9 678.5L545.2 677.3L545.5 677.4L545.7 678.8L545.9 679.2L546.1 681.2L546.3 684.1L546.5 685.7L546.7 684.6L546.9 686.6L547 687.9L547.2 686.8L547.4 687.1L547.6 687.7L547.8 687.8L548.1 687.1L548.4 686.7L548.7 685.3L549.1 684.5L549.4 684.4L549.8 685.8L550.1 686L550.4 685.9L550.6 685.7L551 686.3L551.3 686.3L551.6 687.2L551.9 687.3L552.2 689.1L552.5 691.9L552.7 693.6L553 693.1L553.2 692.4L553.5 691.1L553.7 690.1L553.9 687.2L554.1 685.9L554.3 684.1L554.6 682.9L554.8 681.2L555.1 680.2L555.6 681.5L556.1 683L556.7 682.9L557.3 679.6L558 675.8L558.5 675.5L559 676.9L559.5 677.1L560.1 675.8L560.7 674.4L561.2 673.2L561.8 672.6L562.4 672.6L562.9 673.8L563.5 672.7L564.1 670.7L564.6 666.8L565.2 667.1L565.7 668.2L566.2 669L566.8 667.3L567.4 665.8L568 663.2L568.5 662.9L569.1 663.2L569.7 666L570.3 664.4L571 661.8L571.8 661.7L572.6 664.9L573.3 666.6L574.1 665.2L574.7 664.8L575.2 664L575.7 663.6L576.3 662.7L577 661.5L577.4 660.5L577.8 658.9L578.2 658.3L578.7 657.3L579.2 656.3L579.6 655.9L580.1 655.1L580.5 653.8L581 653.2L581.4 652.4L581.7 651.5L582 650.4L582.3 649L582.5 647.9L582.8 647L583 645.7L583.3 644.7L583.5 644.5L583.8 643.5L584 642.3L584.3 642L585.2 640.7L586.2 640.2L587.2 640.4L587.6 640.4L588 640.3L588.4 641.2L588.9 642.9L589.3 644.6L589.7 645.9L590.1 647.1L590.3 647.6L590.6 648.6L590.8 649L591 649.4L591.2 649.8L591.5 650.6L591.7 651.4L591.9 652.5L592.1 653.5L592.4 654.9L592.6 656L592.8 657.3L593 658.9L593.3 659.4L593.5 659.9L593.7 660.8L593.9 661.7L594.2 662L594.4 662.9L594.6 663.5L594.8 664.5L595.1 666.2L595.3 667.5L595.5 668.4L595.7 669L595.9 669.8L596.4 671.8L596.8 672.2L597.2 672.6L597.6 673.3L598 674.8L598.5 675.1L598.9 674.6L599.6 675.6L600.2 675.5L601 673.1L601.8 671.8L602.6 672.4L603.4 672.2L604.3 671L605.3 669.6L606.2 669.2L607 670.8L607.9 671.5L608.8 671.2L609.7 672.4L610.5 673.4L611.1 672.7L611.7 671.9L612.3 670.8L612.8 669.6L613.4 669L613.9 668.8L614.4 668.4L614.9 668L615.4 667.1L615.9 665.3L616.3 663.2L616.7 661.6L617.1 661.2L617.4 662.6L617.8 662.3L618.6 660.4L619.3 658.4L620 656.6L620.8 656.9L621.1 657.6L621.4 658.8L621.6 660.5L621.9 661.3L622.2 663L622.5 663.9L622.8 664.5L623.1 665.4L623.4 666.2L623.7 665.9L624.1 666.6L624.5 668.6L624.9 670L625.3 671L625.7 671.1L626.1 671.7L626.6 672.4L627 672.3L627.5 673.2L628 676.3L628.5 678.1L629.1 679.5L629.6 679L630.1 678.3L630.6 678.8L631 678.2L631.7 678.9L632.3 678.5L632.8 678.1L633.3 676.4L633.9 674.6L634.2 675L634.5 676.3L634.7 676.1L635 677L635.3 679.6L635.6 681.3L635.8 682.9L636.1 683.9L636.5 684.8L636.8 684.6L637.2 684.7L637.6 684.3L638.1 682.7L638.5 680.5L639 678.8L639.5 679.2L640 679.2L640.4 677.4L640.8 676.6L641.2 675.9L641.9 674.4L642.5 672.4L643 672.2L643.6 672.6L644.1 672.2L644.9 669.8L645.6 670.5L646.3 672.2L647 675.4L647.3 674.7L647.6 675.1L647.8 677.3L648 678L648.3 678.7L648.5 679L648.8 679.1L649.1 680.3L649.3 681.3L649.6 683.2L650 683.9L650.3 685L650.6 686L651 687L651.3 688.3L651.7 689L652.1 689.8L652.4 689.4L652.8 690L653.2 691.8L653.6 693.3L654 694.1L654.3 694.5L654.7 695.5L655.1 696.1L655.4 696.5L655.8 697.6L656.2 699L656.5 700.3L656.9 701.7L657.3 702.7L657.6 702.4L658 703.3L658.4 703.6L658.7 703.8L659.6 705.9L660.5 707.8L661.5 706.6L662.3 706.7L663.1 708.1L663.8 707.3L664.3 706.5L664.8 705.8L665.4 704.2L666 702.9L666.5 702.8L667 702.1L667.6 701.4L668.1 700.4L668.7 699.3L669.3 698.6L669.8 697.6L670.4 697.1L671.3 697.7L672.2 698.9L673 699.5L673.9 700L674.8 700.4L675.3 700L675.7 699.1L676.2 698.2L676.6 697.6L677.1 696.9L677.6 696L678.1 695.3L678.6 694.3L679.2 692.8L679.9 691.9L680.7 691.7L681.5 691.1L682.4 690.6L683.2 689.9L683.9 689.2L684.5 689L685 689.1" fill="none" stroke="#c9383c" stroke-width="0.95" stroke-linejoin="round"/>
<path d="M140.2 714L140.5 713.1L140.9 712.3L141.4 711.6L141.9 709.6L142.4 708.1L143 707.5L143.5 706.9L144.1 706.4L144.6 706.1L145.1 706L145.7 707L146.2 708.1L146.8 708.9L147.3 710.4L147.9 711.1L148.4 711.2L149 711.8L149.5 711.9L150 710.8L150.4 710.3L150.9 709.7L151.4 708.6L151.9 708L152.4 707.1L152.9 705.7L153.4 704.9L153.8 703.7L154.3 702.7L154.7 701.8L155.2 700.5L155.6 699.4L156.1 698.1L156.5 697L157 696.8L157.4 697L157.7 696.2L158.2 695.4L158.5 696.3L158.9 697.2L159.2 698L159.5 699.4L159.9 700.7L160.2 702L160.7 703.6L160.9 704.4L161.1 705.2L161.3 705.9L161.5 706.7L161.8 707.9L162 709.3L162.3 710.5L162.5 711.6L162.8 712.7L163 713.8L163.3 715.1L163.5 716L163.8 716.4L164 717.6L164.3 718.3L164.5 718.5L164.8 718.9L165 719.5L165.4 719.8L165.7 719.1L166 717.8L166.4 717L166.7 716.8L167.1 716.3L167.4 715.6L167.7 714.4L168.1 712.7L168.4 710.9L168.7 709.2L169.1 708L169.4 707.5L169.7 706.8L169.9 705.9L170.1 705.4L170.4 704.2L170.6 703.9L170.9 703.1L171.1 702.1L171.4 701.5L171.6 699.8L171.8 698.6L172.1 697.3L172.3 695.8L172.6 694.9L172.8 694.7L173.1 693.7L173.3 692L173.6 691.2L173.8 691.1L174.1 690.8L174.5 690.1L174.8 689.9L175.2 688.8L175.5 686.6L175.9 684.1L176.3 682.1L176.6 682L176.9 681.9L177.3 682L177.6 683.4L177.9 683.2L178.2 682.1L178.7 678.4L179.1 676.7L179.5 675.2L179.9 674.6L180.3 673.6L180.7 674.5L181.1 676.5L181.4 677.6L181.8 677.3L182.1 677.2L182.5 678.1L182.8 676.4L183.2 678.3L183.6 679.3L184 680.2L184.5 681.5L185 683.5L185.6 685.1L186.1 685.6L186.7 683.9L187.3 683L187.8 683.9L188.4 688.5L188.8 689.6L189.1 690.3L189.5 691.1L189.9 691.6L190.2 691.4L190.6 690.6L190.9 691.5L191.3 693.9L191.7 695.8L192 696.8L192.4 698.4L192.8 698.8L193.6 698.6L194.5 697.5L195.4 700.6L196.3 701.2L197.2 700.2L198 698.5L198.9 699.3L199.8 701.5L200.7 698.7L201.5 696.5L202.4 698.7L203.3 699.9L204.2 698.3L205 696.6L205.9 698.4L206.2 699.6L206.5 697.6L206.7 696.1L207 694.1L207.3 692.7L207.6 691L207.8 690.7L208.1 690.5L208.4 691.4L208.6 690.5L208.9 689.8L209.2 687.2L209.5 685.7L209.7 685.4L210 684.1L210.3 682.8L210.6 681L210.9 679L211.2 679.5L211.5 680.3L211.8 679.9L212 679.7L212.3 677.8L212.6 675.7L212.9 673.8L213.2 671.8L213.5 671.6L213.8 671.6L214.1 670.4L214.4 670.7L214.7 670.2L215 668.8L215.4 668.2L215.8 667.4L216.2 665.8L216.6 664.3L217 663.4L217.3 663.1L217.7 662.2L218.1 661.6L218.4 661.2L218.7 660.5L219.1 659.4L219.7 657.6L220.3 656.6L220.8 655.3L221.3 654.6L222 654.5L222.4 654.7L223 655.6L223.5 656.1L224.1 656.6L224.6 658L225.2 659.4L225.8 660.3L226.4 661.1L226.7 661.4L227.1 662L227.4 663.3L227.8 664L228.2 664.6L228.5 666.1L228.9 666.6L229.3 667L229.6 668L230 669L230.4 670.3L230.7 670.6L231.1 671.4L231.5 672.8L231.8 673.6L232.2 674.5L232.6 675.7L232.9 676.9L233.3 677.3L233.6 678.3L234 679.3L234.4 679.8L234.7 680.6L235.1 680.9L235.6 682.1L236 683L236.5 683.7L236.9 684.9L237.4 685.8L237.8 686.7L238.3 687.8L238.7 689.2L239.1 690.2L239.5 690.4L240.1 691.7L240.7 693.1L241.2 694.6L241.8 695L242.4 694.3L242.6 694L242.8 693.4L243.1 693.2L243.3 692.6L243.6 691.2L243.8 690.1L244.1 689.5L244.3 688.6L244.6 687.6L244.9 685.6L245.1 684.7L245.4 684.4L245.6 683L245.9 681.8L246.1 680.9L246.4 679.8L246.6 678.7L246.8 678.3L247.2 677L247.6 675.5L247.9 674.6L248.2 673.5L248.6 672.5L248.9 671.9L249.3 671.7L249.7 671.5L250.5 671L251.4 671.4L252.4 672L253.3 672.3L254.1 673.4L254.4 674.5L254.8 675L255.1 676L255.4 677.3L255.6 678L255.9 678.5L256.2 679.7L256.4 681.1L256.7 681.7L257 682.7L257.2 683.9L257.5 684.8L257.7 685.7L257.9 686.1L258.1 686.7L258.4 687.7L258.6 688.7L258.8 689.7L259 690.4L259.3 691.6L259.5 692.7L259.7 693.5L259.9 694.7L260.1 695L260.3 695.8L260.4 697.2L260.6 698.4L260.7 699.4L260.9 700.3L261.1 701.9L261.2 702.9L261.4 703.2L261.5 704.7L261.7 706.4L261.9 707.4L262 707.8L262.2 708.3L262.4 709.3L262.5 709.8L262.7 710L262.8 710.1L263.1 710L263.4 709.7L263.6 708.7L263.8 707.6L264.1 706.4L264.3 704.9L264.6 703.3L264.9 701.9L265.1 700.9L265.4 700.3L265.8 700.2L266.2 700.5L266.6 700.8L267 701.4L267.5 702.6L268 703.3L268.4 704.7L268.9 706.3L269.3 707.2L269.8 708L270.1 709.1L270.6 710.3L271.1 711.3L271.5 711.8L271.9 712.6L272.3 713.8L272.7 713.9L273.1 714.5L273.5 716L273.9 717.3L274.2 718.4L274.6 719.2L275 720L275.5 720.8L276 720.6L276.3 720.1L276.6 719.9L277 719.3L277.3 718.2L277.7 717.6L278.1 716.9L278.5 716L278.9 714.9L279.2 713.6L279.6 712.2L280 711.1L280.4 710.5L280.7 709.6L280.9 708.7L281.2 708.2L281.5 707.6L281.8 706.3L282.1 705.9L282.4 704.8L282.7 703.5L283 702.6L283.3 702L283.6 701L283.9 699.8L284.2 698.8L284.5 698.5L284.7 697.9L285 696.7L285.3 695.8L285.6 695.8L285.8 694.4L286.1 692.8L286.4 691.5L286.7 689.9L286.9 689L287.2 688.5L287.5 687.8L287.8 686.5L288 686.4L288.3 686.3L288.6 686L288.9 685.4L289.1 683.4L289.5 681.4L289.9 679.9L290.3 677.4L290.6 677.1L291 676.5L291.4 675.8L291.8 675.6L292.2 675.5L292.5 675.1L292.9 673.7L293.2 674.4L293.5 672.8L293.8 672.7L294.1 672.8L294.4 673.2L294.7 674.2L294.9 676.3L295.2 677.6L295.4 678.9L295.7 680.8L295.9 682.8L296.2 683.2L296.4 683.4L297.3 683.2L298.3 682.2L299.3 685.3L299.8 686.3L300.2 684.7L300.7 682.2L301.2 678.7L301.7 679L302.2 679.1L302.7 680.1L303.2 679.3L303.7 676.3L304.3 675.3L304.8 675.1L305.4 674.9L305.9 674.9L306.5 673.9L307 671L307.6 668.9L308.1 670.3L308.7 673.8L309.2 673L309.8 669.3L310.3 665L310.9 666.6L311.4 666.9L312 666.6L312.5 666L313 664L313.5 661.4L313.9 658.4L314.4 659.9L314.9 660.5L315.5 661.2L316.3 660L316.8 657.6L317.3 658.4L317.9 662.5L318.6 663.8L319.3 662.6L320 661.3L320.7 661.3L321.4 663.1L322.1 666.5L322.7 668.2L323.3 667L323.9 666.2L324.4 666.9L325.2 669.4L325.8 672.3L326.3 672.8L326.8 671.8L327.2 671.4L327.7 672.2L328.2 673.9L328.7 675.2L329.2 676.1L329.7 678.5L330.2 678.6L330.7 679.2L331.2 678L331.7 678.2L332.4 679.6L333.1 679.3L333.8 677.7L334.6 675.8L335.4 674.4L336.2 677.6L337.2 677.5L338.1 674.3L339 674.3L339.7 676.8L340.4 677.4L341.2 677.3L341.9 678.6L342.6 679.4L343.4 680L344.2 680L345.1 679.8L346 679.4L346.9 678.8L347.7 678.3L348.6 678.5L349.5 679.2L350.4 680.2L351.2 681.1L352.1 681.5L353 681.1L353.9 681.1L354.7 680.8L355.6 679.7L356.5 679.5L357 679.8L357.6 680.8L358.1 681.9L358.7 682.9L359.2 683.6L359.8 684L360.3 684.6L360.9 685.4L361.4 686.6L362 687.7L362.5 688.7L363.1 689.2L363.6 689.6L364.2 690.4L364.7 691.3L365.3 691.4L365.8 692L366.4 693.1L366.9 694.2L367.4 695.3L368 695.4L368.5 696.1L369.1 696.4L369.6 697.2L370.5 698.6L371.4 698.9L372.3 698.2L373.1 698.8L374 699.7L374.9 699.4L375.8 699.7L376.6 701.1L377.5 701.2L378.4 700.2L379.3 699.4L380.1 700.3L381 699.7L381.9 698.2L382.8 697.6L383.5 696.8L384.2 695.8L385 694.3L385.7 694L386.4 694L387.2 693.4L388.2 692.8L389.3 692.7L390.4 693.2L391.5 692.3L392.3 692.2L393 692.2L393.7 691.4L394.5 689.8L395.2 689L395.9 688.8L396.8 688.3L397.7 688.4L398.5 687.9L399.4 687L400.3 687.2L401.2 687.5L402 686.1L402.9 685.9L403.8 686.4L404.7 686L405.5 685.5L406.4 686.3L407.3 687.7L408.2 687.5L409.1 686.5L409.9 687.1L410.8 687.7L411.7 686.9L412.6 685.5L413.4 685.9L414.3 686L415.2 684.4L416.1 683.8L416.9 683.8L417.8 683.5L418.4 683.1L418.9 683.6L419.5 684.8L420 685.3L420.5 685.6L421.1 687.2L421.6 688.4L422.2 688.3L422.7 688.9L423.3 690.1L423.8 691.1L424.4 691.7L424.9 692.9L425.5 693.7L426 694L426.6 694.3L427.4 695.3L428.3 695.7L429.2 695.8L430.1 695.6L430.9 695.6L431.8 695.8L432.8 695.5L433.7 694.4L434.5 694L435.3 694L435.6 694.9L435.9 695.3L436.2 696.2L436.5 697.8L436.8 698.2L437 699.3L437.2 700.7L437.5 702.4L437.7 704L438 705.6L438.2 706L438.7 706.5L439.1 706.6L439.5 706.4L439.9 707.2L440.3 708.6L440.8 709.9L441.2 711.1L441.6 711.7L442 712L442.4 712.1L442.8 712.6L443.3 713.3L443.7 713.3L444.1 715L444.5 716.7L444.9 718.9L445.3 721.5L445.8 722.5L446.2 721.8L446.6 720.4L447 720.1L447.2 720.4L447.5 720.5L447.7 719.7L447.9 719.7L448.1 720.1L448.4 719L448.6 718.4L448.8 716.2L449 714.2L449.3 713.1L449.5 712L449.7 711.1L449.9 710.2L450.3 708L450.7 706.4L451 706.4L451.4 708L451.8 707.1L452.2 704.8L452.5 703.9L452.8 703L453.5 700.8L454.1 700.3L454.6 700.8L455.2 701.1L455.4 701.5L455.6 702L455.7 701.6L455.9 702.1L456.1 703.3L456.3 704.9L456.4 706.6L456.6 707.4L456.8 708.5L457 709.8L457.2 710.5L457.7 712.3L458.3 713.3L458.8 713.9L459.5 714.8L460.1 715.2L460.9 714.7L461.8 713.8L462.7 713.4L463.6 712.9L464.5 712L465.3 711.1L466 710.4L466.8 709.8L467.6 709L468.3 708.4L468.9 707.8L469.2 707.1L469.5 706.1L469.8 705.1L470.1 703.9L470.3 702.5L470.6 702L470.8 701L471.1 699.8L471.3 699.3L471.6 698.5L471.8 697.5L472.4 696.2L472.9 695.5L473.5 694.9L474.1 694L474.7 693.2L475.5 693.4L476.4 693.6L477.3 693.8L478.2 694L479.1 694.8L479.8 695.3L480.5 694.4L481.2 693L481.9 691.8L482.7 690.8L483.5 689.6L484.2 689.1L484.9 689L485.7 688.7L486.4 687.4L487.2 686.4L488 686.3L488.7 686L489.4 685.8L489.9 686.1L490.5 686.4L491 687L491.4 687.9L491.9 689.4L492.4 690.5L492.8 691.3L493.3 692.4L493.8 693.2L494.5 694.1L495.3 695.2L496 695.8L496.8 696.8L497.5 697.5L498.1 697L498.9 697.3L499.6 696.6L500.3 694.8L501.1 693.9L501.8 694.5L502.7 695.2L503.6 695.6L504.5 696.4L505.4 696.7L505.8 697.2L506.2 699.3L506.5 700.5L506.9 700.5L507.3 701.5L507.6 702.3L508 703.2L508.4 704.3L508.7 704.6L509.1 705.9L509.5 707.5L509.8 708.2L510.3 708.8L510.7 709.5L511.1 710L511.6 710.9L512 712L512.4 712.7L512.9 713.5L513.3 714.4L513.8 715.7L514.2 716.5L514.6 717.6L515.1 718.5L515.5 718.5L515.9 719.2L516.4 720.1L516.8 721.7L517.3 722.9L517.7 723.1L518.1 724L518.6 725L519 726.1L519.5 726.9L520 727.1L520.4 728.6L520.9 729.9L521.4 730.5L521.8 731.8L522.2 732.6L522.6 733.1L523 734.2L523.5 735.3L523.9 736.6L524.3 738L524.6 738.6L525 738.3L525.2 737.4L525.4 736.6L525.6 736.1L525.8 735.3L526 734.5L526.2 733.6L526.5 731.9L526.7 731.2L527 730.7L527.3 729.2L527.9 727.9L528.6 727.6L529.4 727.2L530.2 726.6L531 726.4L531.7 726L532.4 724.6L533.2 723.4L533.9 723.1L534.6 723.3L535.4 721.5L536.1 719.5L536.8 721L537.6 720.7L538.4 718.7L539.1 718.1L539.8 716L540.5 716.4L540.8 717L541.2 716.1L541.5 714.3L541.8 713L542.1 710.1L542.3 709.7L542.6 709L542.9 709.5L543.1 709.5L543.4 708.5L543.7 707.6L544 706.3L544.3 705.3L544.6 703.3L544.9 700L545.2 699.2L545.5 699.3L545.7 699.8L545.9 699.6L546 698.5L546.2 697.9L546.3 699.8L546.5 700.9L546.6 702.9L546.8 705.6L546.9 708.7L547.1 710.3L547.2 711.5L547.3 713.5L547.5 713.6L547.6 713.6L547.8 714.8L548 714.8L548.2 714L548.4 714.6L548.6 711.3L548.8 709.5L549.1 707.5L549.3 705.7L549.6 705.3L549.8 705.1L550 704.3L550.2 704.5L550.4 704.9L550.6 706.6L550.8 707.6L551 709L551.3 710.1L551.5 711.3L551.7 713.4L551.9 715.3L552.1 718.1L552.3 720.6L552.5 720.5L552.7 720.1L553 718.9L553.2 718.6L553.4 717.3L553.6 714.2L553.8 710.4L554 708.1L554.2 708.9L554.4 710.1L554.6 710.2L554.8 709.8L555.1 709.3L555.6 707.8L556.1 706.3L556.7 703.4L557.3 700.2L558 702.5L558.6 706.8L559.3 702.9L560.1 698.9L560.9 697.6L561.6 699.5L562.4 700.6L563.1 699.3L563.9 697.3L564.6 695.2L565.4 695.8L566.1 697.4L566.8 695.9L567.5 692.6L568.2 692.2L568.9 692L569.6 693L570.3 691.9L570.8 690.1L571.3 691.2L571.9 694.5L572.5 697.3L573 697.2L573.6 696.9L574.1 696.7L575 697.5L575.9 698.1L577 696.5L577.3 695.7L577.6 694.6L577.9 693.8L578.3 692.8L578.6 692L579 691.3L579.3 690.3L579.7 689.7L580.1 688.9L580.4 687.6L580.7 686.8L581.1 685.3L581.4 683.5L581.6 682.3L581.9 682.2L582.1 681.7L582.4 680.5L582.6 679.8L582.8 678.3L583 677.1L583.2 676.4L583.4 675.4L583.6 674.4L583.8 674L584 673.6L584.3 672.5L585 670.9L585.7 671L586.5 669.8L587.2 668.7L587.6 669.6L588 670.7L588.4 671.7L588.9 672.7L589.3 674.1L589.7 675.2L590.1 676.3L590.3 676.3L590.6 676.8L590.8 677.9L591 678.5L591.2 679.6L591.5 680.4L591.7 681.6L591.9 682.6L592.1 683.6L592.4 684.4L592.6 685.8L592.8 687L593 687.6L593.2 688.2L593.4 688.4L593.6 689.2L593.8 690.6L594 692.1L594.2 694.2L594.4 695.4L594.6 696L594.8 696.8L595 697.8L595.2 698.9L595.5 700.1L595.7 700.9L595.9 701L596.7 699.5L597.6 699L598.5 699.9L599.4 699.3L600.3 696.4L601.2 695.3L602.1 696.7L603 696.6L603.8 694.2L604.7 693.1L605.6 696.2L606.5 696.8L607.3 695.1L608.2 696L609.1 696.9L609.6 697L610.2 695.1L610.7 693.6L611.3 693.3L611.8 692.8L612.4 692.2L612.9 691.5L613.5 690.8L614 689.5L614.5 687.9L615 687.4L615.5 686.3L616 686.6L616.5 686.4L617 684.2L617.4 682.2L617.8 681.8L618.3 681.8L618.8 681.2L619.2 680.1L619.6 679.1L620 677.7L620.4 676.5L620.8 676.3L621.1 677L621.3 677.5L621.6 678.5L621.9 679.3L622.1 680.6L622.4 682.5L622.7 684.2L623 685.3L623.3 685.4L623.7 685.5L624.1 685.7L624.5 686.7L624.9 688.7L625.4 690.4L625.9 691.7L626.3 691.6L626.8 692L627.3 693L627.7 692.9L628.1 694.1L628.7 696L629.3 696.6L629.8 697.3L630.4 697.4L631 697.9L631.4 699.9L631.8 702.1L632.2 703.2L632.7 703.4L633.1 703.9L633.6 704.7L634 705.3L634.5 705.9L635 706.1L635.5 705.7L636.1 704.3L636.6 702.9L637.1 701L637.7 701L638.3 701.1L639.2 700.1L640.1 698.9L641 697.5L641.9 697.9L642.7 698.4L643.3 697.6L643.7 695.8L644.1 693.7L644.5 692.7L645 692.4L645.3 693.2L645.5 694.4L645.8 695.5L646.1 696.1L646.4 697.5L646.7 698.5L647 697.8L647.3 698.4L647.6 699.1L647.9 700L648.2 702.3L648.6 703.9L648.9 704.7L649.2 706.6L649.6 707.1L649.9 706.8L650.3 707L650.7 707.7L651 709.1L651.4 711.1L651.8 712.5L652.2 713.8L652.7 714.2L653.1 714.4L653.6 714.7L654 714.9L654.5 715.3L654.9 717.1L655.4 719.5L655.8 720L656.4 720.5L657 721.5L657.6 721.6L658.2 721.9L658.8 723.4L659.3 724.3L659.8 724.8L660.2 725L660.9 726.4L661.6 727L662.1 727.7L662.5 726.8L663.1 725L663.6 723.5L664.3 722L664.9 722L665.5 722L666 721.4L666.8 720L667.5 718.3L668.2 718.1L668.9 718.1L669.7 717.1L670.4 716.2L671.3 716L672.2 716.7L673 717.5L673.9 718.2L674.8 718.4L675.5 717.4L676.2 716.1L676.9 715.7L677.6 715.1L678.3 714.5L679.2 714L680 713L680.9 712.4L681.9 711.9L682.8 711.4L683.7 711L684.5 710.4L685 710.6" fill="none" stroke="#c9383c" stroke-width="0.95" stroke-linejoin="round"/>
<path d="M140.2 736.9L141 736.2L142.1 735.6L143.4 735L144.6 734.3L145.7 733.8L146.8 733.1L147.9 732.5L149 732.4L150 732.4L151.1 732.7L152.2 733.3L153.4 733.9L154.2 734L155.1 734.3L156.1 734.9L157.1 735.2L158.1 735.3L159.2 735.4L160.2 735.5L161.3 735.6L162.4 735.7L163.5 735.7L164.6 735.6L165.6 735.3L166.5 735.3L167.6 735.2L168.5 734.4L169.3 733.8L170 732.9L170.9 732.3L172 732L173.1 731.4L174.2 731.1L175.3 731L176.1 731.5L176.9 732.2L177.8 732.8L178.7 733.3L179.6 733.8L180.5 734.2L181.5 734.4L182.5 734.8L183.5 735.1L184.5 735.2L185.5 735.3L186.6 735.5L187.8 735.3L189 735.5L190.1 735.7L191.3 735.4L192.3 735L193.3 734.5L194.2 734L195.2 733.4L196.2 732.8L197.2 732.3L198.1 732.1L199.1 731.7L200.1 730.9L201 730.4L202 729.9L203 729.4L204 729.1L204.9 728.7L205.9 728.1L206.9 727.7L207.9 727.3L208.8 726.7L209.7 726.2L210.5 725.5L211.3 724.7L212.2 724.1L213 723.4L213.8 722.7L214.7 722.2L215.6 721.7L216.6 721.5L217.6 721.3L218.6 721.2L219.5 721L220.5 720.8L221.7 720.7L222.8 720.7L224 720.6L225.2 720.6L226.4 720.8L227.3 720.8L228.4 721.1L229.4 721.4L230.4 721.5L231.3 721.8L232.2 722.1L233.2 722.8L234 723.7L234.9 724.3L235.7 725.1L236.6 725.4L237.3 725L238 724.1L238.8 723.1L239.5 722.3L240.2 721.6L240.9 720.8L241.8 720L242.8 719.4L243.7 719L244.5 718.5L245.3 717.8L246.4 716.7L247.3 716.2L248.2 715.7L249.2 715.8L250.2 716.7L251.2 717L252.1 716.6L253 715.8L254.1 715.5L255.1 715.4L256.2 715.4L257.3 715.8L258.5 716.4L259.2 716.9L259.9 717.6L260.7 718.3L261.4 719.1L262.1 720.2L262.8 721.1L263.5 721.6L264.1 722.3L264.7 723.3L265.3 724.2L266 725.1L266.6 725.9L267.2 726.7L268.1 727.5L268.9 728.3L269.7 728.9L270.6 729.4L271.6 730.1L272.5 730.4L273.5 730.7L274.5 731.2L275.6 731.5L276.5 731.6L277.4 731.9L278.6 731.9L279.6 731.3L280.7 731L281.8 730.4L282.6 729.7L283.4 729L284.2 728.2L285.1 727.2L286 726.4L286.8 725.7L287.7 725.1L288.5 724.6L289.3 724L290.2 723.2L291 722.6L291.8 721.9L292.7 721.3L293.5 720.8L294.5 720.4L295.5 720.1L296.4 719.8L297.4 719.6L298.4 719.4L299.3 719.2L300.5 719.1L301.7 719L302.8 718.8L304 718.8L305.2 719L306.4 718.7L307.5 718.4L308.7 718.2L309.9 718.2L311 718.3L312.2 718.3L313.3 718.1L314.4 718.2L315.6 718.4L316.9 718.8L317.7 719L318.7 719.4L319.7 719.8L320.7 720.1L321.7 720.7L322.7 721.3L323.6 721.8L324.4 722.3L325.5 722.9L326.4 723.3L327.2 724L327.9 724.7L328.8 725.2L329.6 725.7L330.5 726.3L331.4 727L332.3 727.6L333.1 728L334.2 728.4L335.2 728.9L336.3 729.3L337.5 729.5L338.4 729.7L339.4 729.9L340.3 730.2L341.4 730.6L342.4 730.9L343.4 731L344.5 731L345.7 731L346.9 730.8L348 730.6L349.2 730.3L350.4 730.2L351.5 729.9L352.7 729.6L353.9 729.5L355 729.4L356 729.4L357 729.7L358 730L358.9 730.2L359.9 730.5L360.9 731L361.8 731.3L362.8 731.3L363.8 731.7L364.8 732L365.7 732.1L366.7 732.4L367.7 732.7L368.7 732.8L369.6 733.1L370.6 733.5L371.6 733.8L372.6 734L373.7 734L375 734.2L376.2 734.4L377.3 734.7L378.4 735.1L379.6 735.2L380.8 735.3L381.8 735.6L382.8 735.9L383.9 735.7L384.8 734.7L385.7 734.4L386.6 735L387.5 735.6L388.6 736L389.6 736L390.7 735.7L391.9 735.5L393 735.2L394.1 735L395.2 734.9L396.3 734.8L397.4 734.7L398.5 735L399.6 735.2L400.7 735.6L401.8 736L402.8 736.1L403.9 736.4L405 736.5L406.1 736.9L407.3 737.3L408.4 737.1L409.5 737.3L410.5 737.7L411.5 738.1L412.4 738.6L413.4 739L414.4 739.3L415.5 739.8L416.7 740.1L417.8 740.2L418.9 740.4L420.1 740.1L421.2 739.9L422.2 739.9L423.2 739.4L424.1 738.7L425.1 738.1L426.1 737.8L427.2 737.2L428.4 736.7L429.5 736.8L430.6 737L431.7 737.3L432.8 737.7L433.9 738.1L435 738.6L436.1 739.2L437.2 739.6L438.2 739.6L439.3 739.5L440.4 739.1L441.5 738.7L442.6 737.9L443.5 737L444.4 736.1L445.3 735.5L446.1 734.7L447 733.7L447.9 733.2L448.8 732.4L449.6 731.7L450.5 731.1L451.4 730.5L452.5 730L453.6 729.6L454.7 729.2L455.8 728.7L456.9 728.2L458 727.6L459.1 726.9L460.1 726.4L461.2 726.6L462.3 727.3L463.4 727.8L464.5 728.1L465.6 728.2L466.7 728.4L467.8 728.7L468.9 728.9L470 729.5L471.1 729.8L472.2 730L473.3 730.1L474.4 729.8L475.5 729.3L476.6 728.7L477.7 728.1L478.6 727.5L479.5 726.6L480.4 725.5L481.3 724.8L482 724.5L483.1 724.7L484 725.5L485 726.5L485.8 727L486.6 727.6L487.6 728.3L488.5 728.9L489.4 729.4L490.1 730.2L490.8 731.1L491.6 731.7L492.3 732.5L493 733.3L493.8 733.9L494.6 734.5L495.5 735L496.4 735.6L497.3 736.3L498.1 736.9L499 737.4L499.9 738.1L500.8 738.7L501.6 739.2L502.5 739.7L503.4 740.2L504.3 740.9L505.1 741.5L506 742.2L506.9 742.8L507.8 743.3L508.6 743.8L509.5 744.2L510.4 744.9L511.3 745.5L512.2 746.1L513 746.8L513.9 747.5L514.8 747.9L515.7 748.3L516.8 749.1L517.8 749.8L518.9 750.3L520 750.8L521.1 751.1L522.2 751L523.3 750.9L524.4 750.9L525.5 750.8L526.6 750.4L527.7 750.2L528.8 749.9L529.9 749.6L531.1 749.4L532.2 749L533.2 748.5L534 748L534.6 747.3L535.3 746.4L536.1 745.4L537.1 744.8L538.3 744.2L539.4 743.5L540.5 743.2L541.5 743.7L542.4 744.8L543.4 745.6L544.2 746.3L545 746.8L546 747.4L546.9 747.9L547.8 748.5L548.9 749.1L550 749.2L551.1 749.2L552.2 749L553.3 748.8L554.4 748.4L555.5 747.8L556.5 747L557.1 746.3L557.6 745.4L558.1 744.2L558.5 743.1L559 742L559.5 741L560 740.2L560.6 739.3L561.1 738.5L561.7 737.7L562.4 736.9L563.2 736.1L564.1 735.6L565 734.9L565.9 734.5L566.8 734L567.8 732.9L568.8 732.2L569.7 732L570.4 732.4L571 733.3L571.8 734.4L572.6 735.3L573.6 735.9L574.7 736.3L575.8 736.7L577 737L578.1 737L579.2 736.8L580.3 736.6L581.4 736.4L582.2 735.8L583.1 734.8L584 734L584.9 733.2L585.7 732.6L586.6 731.7L587.6 730.9L588.5 730.3L589.3 729.6L590.1 728.8L591.2 728.9L592.1 729.6L593 730.4L593.7 731.2L594.4 732.2L595.1 733.2L595.9 733.8L596.9 734.3L598 734.7L599.2 735.1L600.3 735.4L601.4 735.8L602.4 736.2L603.5 736.5L604.7 736.8L605.8 737L606.9 737L608.1 736.9L609.4 736.6L610.5 736.7L611.7 736.9L612.9 736.9L614.1 736.8L615.2 736.7L616.4 736.8L617.6 736.9L618.7 736.9L619.9 736.9L621.1 737.1L622.2 737.3L623.4 737.7L624.6 737.6L625.8 737.5L627 737.6L628.1 737.5L629.3 737.2L630.3 737L631.4 736.6L632.4 736.3L633.5 736.2L634.6 736.2L635.7 736L636.8 736L637.7 735.6L638.6 734.7L639.6 733.9L640.4 733.3L641.2 733.3L642.2 733.7L643.1 734.2L644.1 734.8L645.1 735.3L646.2 736L647.4 736.5L648.5 736.8L649.6 736.7L650.7 736.5L651.8 736.3L652.9 736.1L654 736.5L655.1 737.1L656.2 737.6L657.3 738.2L658 738.9L658.7 739.8L659.4 740.4L660.1 741.2L660.8 742.3L661.6 742.8L662.5 743.2L663.5 743.8L664.6 744.5L665.6 745.1L666.6 745.3L667.5 745.4L668.6 745.5L669.7 745.1L670.7 744.5L671.9 744.1L672.8 743.9L673.8 743.6L674.8 743.3L675.8 743.2L676.8 742.9L677.7 742.6L679 742.2L680.3 741.5L681.3 741L682.1 740.6" fill="none" stroke="#1c7cc0" stroke-width="1.15" stroke-linejoin="round"/>
<path d="M140.2 762.3L141 762.4L142.2 763L143.5 763.8L144.6 764.1L145.6 765.2L146.5 765.9L147.5 766.2L148.5 765.7L149.7 764.8L150.9 764L151.9 763.7L153 764.4L153.9 765.2L154.8 765.8L155.8 765.4L156.8 764L157.7 762.7L158.2 762.5L158.6 761.6L159 760.3L159.4 759.5L159.8 758.4L160.2 756.9L160.7 755.6L161.1 754.2L161.6 753.1L162.1 752.4L162.6 751L163.1 750L163.6 749.7L164.2 750.2L164.7 751.5L165.3 752.5L165.9 753.6L166.5 754.7L167.2 754.4L168 753.5L168.7 752.4L169.4 751.3L170.2 751.9L171 753.4L171.7 754.4L172.3 754.3L172.6 754.1L172.9 753.1L173.1 751.4L173.3 749.8L173.5 748.4L173.8 748.1L174.1 748.9L174.4 749.7L174.7 750.8L175.1 752.1L175.4 753.4L175.8 754.9L176.1 756.2L176.4 757.1L176.7 757.4L177 757L177.3 755.8L177.4 754.5L177.6 753L177.9 751.7L178.2 751.5L178.4 751.9L178.7 752.6L179.1 753.3L179.4 754L179.8 755.1L180.1 756.5L180.5 757.9L180.8 759L181.1 759.9L181.3 761.2L181.5 762.8L181.7 764.2L181.9 765.6L182.1 767.2L182.3 768.6L182.5 770.1L182.6 771.2L182.8 771.5L183 771.9L183.1 772L183.2 771.6L183.3 770.9L183.4 770.4L183.5 769.7L183.6 768L183.7 766.8L183.8 765.6L183.9 764.1L184 762.9L184.1 761.9L184.1 760.9L184.2 759.3L184.3 757.6L184.4 756.4L184.5 755.5L184.6 754.6L184.7 753.8L184.8 753.2L184.9 752.9L185.1 752.7L185.3 753.1L185.5 754.3L185.6 755.8L185.8 757.7L186 758.7L186.2 760.3L186.5 762.3L186.7 762.8L186.9 762.7L187.2 762.8L187.5 762.1L187.8 760.8L188.2 759.8L188.5 758.2L188.8 756.7L189.2 755.7L189.5 754.6L189.9 754.1L190.3 754.3L190.7 755.5L191.1 757.1L191.5 758.6L191.9 760.1L192.4 760.9L192.8 761.4L193.4 761.7L193.9 760.8L194.5 759.4L195.1 758.4L195.7 757.5L196.3 756.2L196.9 754.9L197.4 754L198 752.9L198.6 752L198.9 753L199.2 754.6L199.5 755.4L199.8 756.5L200.1 757.4L200.5 758.6L200.8 759.9L201.1 760.9L201.5 761.8L202.5 761.8L203.6 760.9L204.8 760L205.9 760.1L206.8 760.6L207.7 761.3L208.5 762.2L209.4 762.6L210.3 763.4L211.4 763.8L212.5 763.8L213.6 764.3L214.7 764.5L215.5 764.8L216.4 765.8L217.3 766.6L218.2 767.2L219.1 767.5L219.9 767.2L220.8 766.5L221.7 766L222.6 765.1L223.4 764.4L224.5 764.7L225.6 765.2L226.7 765.7L227.8 765.7L228.7 765.8L229.6 765.2L230.4 764.1L231.3 763.5L232.2 763L233.3 763.3L234.4 763.7L235.5 764.3L236.6 764.5L237.4 764.1L238.3 763.9L239.2 763L240.1 761.8L240.9 761.2L242.1 761.8L243.2 762.8L244.3 763.4L245.3 763.3L245.9 762.5L246.4 761.3L246.9 759.8L247.3 758.7L247.8 758L248.2 757.4L249 757.8L249.7 758.8L250.4 759.7L251.2 760.3L251.5 760.1L251.8 759L252.1 757.8L252.4 756.6L252.7 755.5L253 754.3L253.3 752.9L253.7 752L254.1 751.2L255.1 750.4L256.4 750.2L257.5 750.3L258.5 750.9L258.9 751.7L259.1 752.6L259.3 753.8L259.4 755L259.6 756.3L259.9 757.4L260.6 758.5L261.3 759L262.1 759.1L262.8 760.1L263.3 761.2L263.6 762.1L264 763.7L264.4 765.1L264.8 765.7L265.3 766.9L265.8 767.8L266.7 768.4L267.8 768.4L268.9 768.6L270.1 769.1L271.2 769.1L272.4 769.5L273.7 769.5L274.9 769.6L276 770L277.2 769.9L278.3 770.4L279.3 770.7L280.4 770.2L281.2 770L282.1 769.4L283 768.5L283.9 767.8L284.7 767.4L285.9 766.8L287 766.7L288.1 766.8L289.1 766.4L289.7 765.6L290.2 764.7L290.7 763.8L291.1 762.6L291.6 761.6L292 760.3L292.4 759L292.7 758.1L293.1 757.1L293.4 755.8L293.8 754.5L294.1 753.7L294.5 753L295 752.4L295.9 751.8L297 751.5L298.1 751.3L299.3 751.3L300.5 751.4L301.7 750.8L303 750L304.2 750.5L305.2 751L305.9 751.5L306.5 752.9L307 754.2L307.5 755.3L308.1 755.7L309.1 755.9L310.2 755.9L311.4 755L312.5 754.5L313.5 754.4L314.6 755L315.6 755.9L316.9 755.9L317.8 755.8L318.9 755.5L320 754.8L321.1 754.2L322.1 753.9L322.9 753.6L324.1 753.9L325 754.6L325.8 755.8L326.4 756.2L326.9 757L327.5 758.5L328.1 759.7L328.8 760.1L329.5 760.5L330.4 761.4L331.3 762.3L332.2 762.6L333.1 763L334.2 763.8L335.3 763.8L336.4 763.8L337.5 764.4L338.4 764.9L339.3 765.4L340.1 765.8L341 766.5L341.9 767.5L342.8 768.2L343.6 768.9L344.5 769.6L345.4 770L346.3 770.2L347.2 770.2L348 770L348.9 769.4L349.8 768.5L350.7 767.5L351.8 767L352.8 766.7L353.9 766.2L355 765.8L356.1 766L357.2 766.5L358.3 766.6L359.4 767.4L360.3 768L361.2 768.8L362 769.6L362.9 770L363.8 770.7L364.9 771.2L365.9 771L367 770.8L368.2 771.7L368.9 772.4L369.8 772.9L370.7 773.6L371.5 774.4L372.4 774.8L373.2 775.5L374 776.2L375.2 776.4L376.3 775.9L377.3 775L378.4 774.5L379.3 774.3L380.1 773.6L381 772.9L381.9 772.6L382.8 772.3L383.9 771.8L385 771.8L386.1 772.3L387.2 772.4L388.2 772.2L389.3 771.4L390.4 771.1L391.5 771.1L392.6 771.2L393.7 771.5L394.8 771.5L395.9 771.9L397 772.1L398.1 771.7L399.2 771.2L400.3 771.1L401.4 770.9L402.5 770.9L403.6 771.5L404.7 772.1L405.5 772.4L406.4 772.9L407.3 773.6L408.2 774.2L409.1 774.8L409.9 774.8L410.8 774.4L411.7 773.7L412.6 772.6L413.4 772.1L414.5 771.9L415.6 771.9L416.7 771.7L417.8 771.1L418.9 770.8L420 770.4L421.1 769.7L422.2 769L422.9 768.8L423.7 768.2L424.5 767.3L425.2 766.4L425.9 765.4L426.6 764.7L427.1 763.9L427.5 762.6L427.9 761.6L428.3 760.9L428.7 759.9L429.1 758.4L429.5 757.1L429.8 756.4L430.2 755.6L430.5 754.4L430.8 753.1L431.2 752.1L431.5 751.3L431.8 750.2L432.1 749.4L432.4 748.8L433 746.6L433.5 745.1L434 744.3L434.5 744L434.7 744.5L434.9 745.1L435.1 746.8L435.4 748.6L435.6 750.1L435.8 751.4L436 752.2L436.2 753.2L436.5 752.9L436.7 751.3L436.9 749.8L437.1 748.3L437.4 746.9L437.7 746.7L437.8 747.4L438 748.4L438.2 749.3L438.4 750.6L438.6 751.8L438.8 753.5L439.1 755.3L439.3 756.3L439.5 757L439.7 757.6L440 757.1L440.4 755.7L440.7 754.3L441 752.7L441.4 751.5L441.7 750.3L442 749.7L442.3 750.1L442.5 751.1L442.7 752.7L442.9 753.9L443.1 754.6L443.3 756.4L443.5 758.1L443.7 759.1L443.9 759.6L444.1 760.2L444.6 760.1L445.1 758.2L445.6 756.3L446.1 756.2L446.4 756.7L446.8 757.4L447.1 758.7L447.5 760L447.8 761.4L448.1 762.7L448.5 763.1L448.8 762.7L449.1 761.8L449.5 760.8L449.8 759.3L450.2 758L450.5 757.1L450.8 756.1L451.5 754.4L452.2 753.1L452.8 752.6L453.4 753.7L453.9 755.5L454.4 756.9L454.9 757.4L455.2 756.7L455.5 755.8L455.9 754.7L456.2 753.5L456.6 752.4L456.9 751L457.2 750.1L457.8 748.5L458.4 747.2L459 746.1L459.6 745.6L459.9 745.9L460.3 746.5L460.6 747.4L460.9 748.9L461.3 750.1L461.6 751.2L461.8 752.1L462 753.2L462.2 754.8L462.3 756L462.5 756.9L462.7 758.4L462.9 760L463.1 760.7L463.3 761.3L463.5 762L463.6 762.9L464.8 764.8L466 764.9L466.5 765.2L467.1 766.2L467.7 766.9L468.3 768L468.9 769.3L469.3 770.2L469.7 770.9L470.2 771.7L470.6 773.4L471 774.5L471.4 775.2L471.8 775.9L472.4 776.9L473 778L473.6 779.2L474.2 780L474.7 780.8L475.7 781.5L476.7 781.9L477.7 782.1L478.2 781.6L478.8 780.8L479.4 779.9L480 778.8L480.6 777.6L481 776.6L481.5 775.3L481.9 774.4L482.4 773.4L482.8 771.9L483.2 770.9L483.5 770.3L484.3 769.9L485 770.5L485.9 770.5L486.9 769.9L487.9 769.7L488.4 770.4L488.9 771.3L489.4 772.1L489.9 772.9L490.4 773.7L490.8 775L491.3 776.1L491.8 776.5L492.3 777.8L492.8 778.6L493.3 779.2L493.8 780.6L494.2 781.8L494.6 782.4L495 783.6L495.4 785.1L495.8 785.9L496.3 786.8L496.7 788.4L497.3 789.7L497.8 790.3L498.4 790.9L499 791.9L499.6 792.7L500.3 792.3L501 791.5L501.7 790.5L502.5 789.7L503.5 788.8L504.6 788.5L505.8 788.3L506.9 787.5L508 786.7L509.1 786.5L510.2 786.6L511.3 787L512.4 786.8L513.6 786.4L514.7 787.2L515.7 787.7L516.5 788.5L517.2 789.8L517.9 790.6L518.6 791.1L519.2 790.5L519.7 789.5L520.3 788.3L520.9 787L521.5 786.1L522.5 785.1L523.4 785.1L524.4 785.3L525 785.5L525.6 786.7L526.2 788.2L526.8 789.2L527.3 789.6L528.1 789.1L528.8 788.3L529.5 787.4L530.3 786.2L531.2 785.6L532.2 785.9L533.2 785.1L533.5 784.3L533.8 783.7L534.1 782.9L534.4 781.3L534.7 780.2L535 779.6L535.3 778.5L535.5 777.2L535.8 776.1L536.1 774.9L536.3 773.7L536.6 772.9L536.8 771.9L537 770.1L537.2 768.9L537.4 767.7L537.6 766.8L537.8 765.7L538 764.5L538.2 763.6L538.4 762.9L539.1 760.9L539.8 759.8L540.5 759.9L540.9 760.5L541.3 761.6L541.7 762.8L542.1 764.2L542.5 765.7L542.8 766.2L543.1 765.9L543.3 764.5L543.6 762.6L543.8 761.1L544 759.6L544.3 759.2L544.4 759.9L544.6 760.9L544.7 762.1L544.9 763.5L545.1 764.6L545.3 765.8L545.4 767.4L545.6 769L545.8 770.1L546 771.2L546.1 771.9L546.3 772L546.5 771.7L546.7 771.3L546.9 769.9L547.1 768L547.3 766.9L547.5 765.1L547.7 763.8L547.9 763L548.2 761.9L548.4 761.8L548.5 762.5L548.7 763L548.9 763.6L549.1 765.1L549.3 766.7L549.5 768L549.7 769.7L549.9 771L550 772L550.2 772.8L550.4 772.8L550.6 772.8L550.8 772.5L550.9 771.6L551.1 770.2L551.3 768.5L551.4 767.1L551.6 765.6L551.8 764L552 763L552.2 762.9L552.3 763.4L552.5 764L552.8 765.2L553 766.9L553.2 768L553.4 769.3L553.6 770.8L553.8 771.9L554 772.9L554.2 773.6L554.4 773.2L554.6 772.2L554.9 771L555.1 769.2L555.3 767.6L555.5 766.1L555.7 765.2L555.9 764.9L556.4 765.2L556.9 767.2L557.5 768.7L558 768.7L558.4 768.2L558.7 767.8L559.1 766.9L559.5 765.3L559.9 764.5L560.3 763.7L561 762.6L561.8 761.8L562.6 760.6L563.2 760.1L564.3 759.3L565.3 758.6L566.2 758.9L567.3 759.4L568.2 759.9L569.3 758.9L570.3 758.6L570.5 759.3L570.7 760.1L571 761L571.2 762.2L571.5 763.2L571.8 764.5L572 765.8L572.3 766.8L572.6 767.4L573 768.4L573.4 770.2L573.8 771.3L574.2 771.9L574.7 772.8L575.1 773.7L575.5 774.5L576.1 775.7L576.6 776.6L577.2 777.6L577.8 778.6L578.4 779.2L579.5 779.8L580.6 780.2L581.8 780L582.8 779.2L583.3 778.6L583.8 778L584.2 776.8L584.6 774.9L585 773.8L585.4 772.9L585.7 771.9L586.1 770.7L586.4 769.5L586.7 768.1L586.9 766.5L587.2 765.4L587.5 765.1L587.8 764.9L588.5 764.8L589.3 765.9L590.1 767.4L590.8 768.5L591.4 769L592.2 769.4L593 770.5L593.7 771.5L594.4 772.3L595.1 773.1L595.9 773.6L596.7 774.5L597.4 775.1L598.3 775.5L599.2 776.4L600 777.1L600.9 777.4L601.8 778.1L602.9 778.1L604 777.8L605.1 777.9L606.2 777.9L607.3 777.4L608.4 777L609.5 776.8L610.5 776.3L611.3 775.7L612 774.8L612.7 773.7L613.5 772.7L614.2 772L614.9 771.6L616 771.1L617.1 770.8L618.2 770.6L619.3 770.5L620.4 770.3L621.5 770.4L622.6 770.8L623.7 771L624.8 771.2L625.9 771.1L627 770.9L628.1 771L628.9 771.1L629.8 770.9L630.7 771.7L631.6 772.6L632.4 773.2L633.5 774.3L634.6 774.7L635.7 774.7L636.8 774.8L637.7 774.3L638.6 773.2L639.6 772.5L640.4 772.3L641.2 772.3L641.9 772.6L642.5 773.6L643 774.6L643.6 775.6L644.1 776.1L644.9 775.5L645.6 774.7L646.3 773.8L647 773.5L647.6 773.9L648.3 774.2L648.9 775.3L649.4 776.7L650 777.6L650.4 778.8L650.7 780.1L651 781L651.3 782.3L651.7 783.4L652 783.1L652.4 782.9L652.7 782.2L653.1 780.8L653.5 779.2L653.9 778.3L654.3 777.8L655 777.8L655.8 778.9L656.6 780.5L657.3 781.4L657.9 780.1L658.4 778.4L659 776.1L659.6 775.7L660 776.7L660.4 777.5L660.8 779L661.2 780.5L661.6 781.9L662.1 782.9L662.5 783.4L663.6 783.6L664.8 782.7L666 782.2L667.1 782L668.2 781.6L669.3 781.1L670.4 780.5L671.1 780.2L671.9 779.5L672.6 778.8L673.3 778.1L674.1 777.3L674.8 776L675.7 775.3L676.6 774.9L677.5 774.4L678.3 774.1L679.2 773.7L680.2 772.6L681.3 771.4L682.3 770.6L683 770.1" fill="none" stroke="#8a90b6" stroke-width="1.0" stroke-linejoin="round"/>
</g>
<g id="panel_e">
<text x="3.5" y="834" font-size="15.5" font-weight="bold">e</text>
<rect x="44.1" y="855.9" width="220" height="199.9" fill="#0a090c"/>
<rect x="44.1" y="886.7" width="55.2" height="7.8" fill="#6e0a1c"/>
<rect x="44.1" y="894.4" width="55.2" height="7.8" fill="#c92233"/>
<rect x="44.1" y="902" width="55.2" height="7.8" fill="#bd2032"/>
<rect x="99.1" y="855.9" width="55.2" height="7.8" fill="#17090d"/>
<rect x="99.1" y="925.1" width="55.2" height="7.8" fill="#c82232"/>
<rect x="99.1" y="932.8" width="55.2" height="7.8" fill="#e6e85c"/>
<rect x="99.1" y="940.5" width="55.2" height="7.8" fill="#6b0a1b"/>
<rect x="154.1" y="971.2" width="55.2" height="7.8" fill="#f1e236"/>
<rect x="154.1" y="978.9" width="55.2" height="7.8" fill="#e0702a"/>
<rect x="154.1" y="1040.5" width="55.2" height="7.8" fill="#2a0911"/>
<rect x="209.1" y="1009.7" width="55.2" height="7.8" fill="#300b13"/>
<text x="40.9" y="878.6" font-size="11.6" text-anchor="end" textLength="12.9" lengthAdjust="spacingAndGlyphs">50</text>
<text x="40.9" y="920.2" font-size="11.6" text-anchor="end" textLength="19.4" lengthAdjust="spacingAndGlyphs">100</text>
<text x="40.9" y="961.8" font-size="11.6" text-anchor="end" textLength="19.4" lengthAdjust="spacingAndGlyphs">150</text>
<text x="40.9" y="1003.8" font-size="11.6" text-anchor="end" textLength="19.4" lengthAdjust="spacingAndGlyphs">200</text>
<text x="40.9" y="1045.4" font-size="11.6" text-anchor="end" textLength="19.4" lengthAdjust="spacingAndGlyphs">250</text>
<text font-size="14.6" text-anchor="middle" textLength="106.1" lengthAdjust="spacingAndGlyphs" transform="translate(10.9 958.8) rotate(-90)">Time points (ms)</text>
<defs><linearGradient id="hbar" x1="0" x2="0" y1="0" y2="1"><stop offset="0" stop-color="#fdfdf2"/><stop offset="0.07" stop-color="#e9edba"/><stop offset="0.15" stop-color="#e0e67c"/><stop offset="0.23" stop-color="#dee24e"/><stop offset="0.29" stop-color="#efe032"/><stop offset="0.33" stop-color="#f0c22a"/><stop offset="0.4" stop-color="#e29430"/><stop offset="0.48" stop-color="#d96a30"/><stop offset="0.56" stop-color="#d03e30"/><stop offset="0.63" stop-color="#c82238"/><stop offset="0.7" stop-color="#a01a30"/><stop offset="0.78" stop-color="#621222"/><stop offset="0.86" stop-color="#320b12"/><stop offset="0.93" stop-color="#19080c"/><stop offset="1" stop-color="#0a080a"/></linearGradient></defs>
<rect x="280.8" y="858" width="17.2" height="197.8" fill="url(#hbar)"/>
<text x="300.8" y="876.8" font-size="12.7" textLength="15.5" lengthAdjust="spacingAndGlyphs">0.5</text>
<text x="300.8" y="964.5" font-size="12.7" textLength="15.5" lengthAdjust="spacingAndGlyphs">0.3</text>
<text x="300.8" y="1052" font-size="12.7" textLength="15.5" lengthAdjust="spacingAndGlyphs">0.1</text>
<text font-size="15.2" text-anchor="middle" textLength="169" lengthAdjust="spacingAndGlyphs" transform="translate(330.6 957.8) rotate(90)">Probability of reactivation</text>
<rect x="59.5" y="1066" width="24.8" height="16.6" fill="none" stroke="#8a93b8" stroke-width="2" rx="1.8"/>
<path d="M70.4 1083.5h3v3.2h-3zM66.6 1086.6h10.6v1.9h-10.6z" fill="#8a93b8" stroke="none" stroke-width="1"/>
<path d="M115.3 1081.5V1078.6A11.7 11.7 0 0 1 138.7 1078.6V1081.5" fill="none" stroke="#8a93b8" stroke-width="2.6"/>
<path d="M116.6 1076.2h4.6a1 1 0 0 1 1 1v9.4a1 1 0 0 1 -1 1h-2.6a3 3 0 0 1 -3-3v-6.4a2 2 0 0 1 1-2zM137.4 1076.2h-4.6a1 1 0 0 0 -1 1v9.4a1 1 0 0 0 1 1h2.6a3 3 0 0 0 3-3v-6.4a2 2 0 0 0 -1-2z" fill="#8a93b8" stroke="none" stroke-width="1"/>
<path d="M182 1063.4c1.2 0 1.9 1.3 1.9 3v6.2l9.9 6.3v2.6l-9.9-3.1v6.1l3 2.3v1.9l-4.9-1.4l-4.9 1.4v-1.9l3-2.3v-6.1l-9.9 3.1v-2.6l9.9-6.3v-6.2c0-1.7 0.7-3 1.9-3z" fill="#8a93b8" stroke="none" stroke-width="1"/>
<path d="M231.6 1074.5V1070.4A5.2 5.2 0 0 1 242 1070.4V1074.5" fill="none" stroke="#8a93b8" stroke-width="2.3"/>
<path d="M229.7 1074.2h14.2a1.6 1.6 0 0 1 1.6 1.6v12.2a1.6 1.6 0 0 1 -1.6 1.6h-14.2a1.6 1.6 0 0 1 -1.6-1.6v-12.2a1.6 1.6 0 0 1 1.6-1.6zM236.8 1078.6a2.1 2.1 0 0 0 -1 3.95v3.2h2v-3.2a2.1 2.1 0 0 0 -1-3.95z" fill="#8a93b8" stroke="none" stroke-width="1" fill-rule="evenodd"/>
<text x="108.2" y="1109.8" font-size="15.2" textLength="104.1" lengthAdjust="spacingAndGlyphs">Sequence order</text>
<path d="M445 1044L446 1043.8L447 1044.6L448 1046.5L449 1047.9L450 1048.1L451 1047.7L452 1047.9L453 1047.9L454 1049.3L455 1049.9L456 1050.9L457 1050.2L458 1049.7L459 1050.9L460 1050.6L461 1049.9L462 1047.4L463 1048.1L464 1049.8L465 1050.7L466 1049.8L467 1049.4L468 1049.5L469 1049.2L470 1048L471 1048.2L472 1047.8L473 1047.5L474 1047.5L475 1048L476 1048.9L477 1049.4L478 1049.2L479 1049.3L480 1049.4L481 1050.2L482 1050.1L483 1049.6L484 1048.9L485 1049.4L486 1050.8L487 1050.5L488 1050.2L489 1050.5L490 1051.4L491 1051.4L492 1051.2L493 1051.9L494 1053.1L495 1053.4L496 1051.9L497 1052L498 1053L499 1054.4L500 1056.1L501 1056.3L502 1058L503 1058.2L504 1060L505 1061L506 1061.9L507 1063.8L508 1064.3L509 1065.4L510 1065.1L511 1065.6L512 1065.9L513 1067.4L514 1067.7L515 1068.8L516 1069.2L517 1069.2L518 1069.9L519 1069.7L520 1071.3L521 1071.6L522 1072.6L523 1072.3L524 1073.2L525 1073.5L526 1074.3L527 1074.6L528 1074.4L529 1074.4L530 1075.3L531 1076.6L532 1078L533 1079.7L534 1080.5L535 1080.4L536 1080.9L537 1081.5L538 1082.6L539 1083.2L540 1084L541 1084.8L542 1086.3L543 1086.8L544 1087.9L545 1089.1L546 1091.1L547 1092L548 1092.7L549 1093.4L550 1094.6L551 1095.5L552 1094.8L553 1094.6L554 1094.8L555 1094.9L556 1094.6L557 1094.3L558 1093.8L559 1092.9L560 1092.2L561 1091L562 1090.2L563 1089.5L564 1089.5L565 1088.1L566 1086.6L567 1085.2L568 1083.7L569 1082.5L570 1081.8L571 1080.9L572 1080.7L573 1079.9L574 1079.6L575 1078.7L576 1077.5L577 1077.8L578 1077.4L579 1078.3L580 1076.6L581 1076.9L582 1075.1L583 1074.8L584 1073.1L585 1073.2L586 1072.3L587 1072.3L588 1070.8L589 1070.6L590 1069.9L591 1070.3L592 1069.2L593 1069L594 1067.8L595 1067.3L596 1066.4L597 1064.9L598 1064.2L599 1064.1L600 1064.3L601 1063.6L602 1063.1L603 1062.4L604 1062.3L605 1061.7L606 1060L607 1059.6L608 1058.3L609 1058.1L610 1056.6L611 1055.4L612 1055.3L613 1055L614 1055.5L615 1056.2L616 1056.1L617 1057.2L618 1056.6L619 1056.6L620 1056.6L621 1057L622 1056.6L623 1055.9L624 1055.1L625 1055.3L626 1054.8L627 1054.6L628 1053.2L629 1052.2L630 1052.2L631 1051.5L632 1050.8L633 1049.3L634 1048.2L635 1046.5L636 1046.2L637 1045.9L638 1046L639 1044.9L640 1044.6L641 1044L642 1043.5L643 1042.4L644 1041.6L645 1041.1L646 1040.3L647 1039.1L648 1037.5L649 1036.5L650 1036.6L651 1036.4L652 1034.7L653 1033.6L654 1034.8L655 1035.8L656 1037.4L657 1037.2L658 1038.8L659 1040L660 1040.7L661 1041.1L662 1039.9L663 1039L664 1038.6L665 1039.8L666 1040.2L667 1040.7L668 1040.4L668 1068.6L667 1068.2L666 1067.8L665 1066.9L664 1066.1L663 1065.9L662 1066.5L661 1068.1L660 1067.8L659 1067.6L658 1066L657 1064.4L656 1064.7L655 1063.2L654 1062.6L653 1060.6L652 1061.4L651 1062.6L650 1063.8L649 1063.9L648 1064.7L647 1065.5L646 1066.3L645 1067.8L644 1068L643 1069.9L642 1070.8L641 1072.1L640 1071.6L639 1071.6L638 1072.4L637 1073.5L636 1074.3L635 1074.8L634 1075.7L633 1076.8L632 1078L631 1078.3L630 1078.9L629 1079.6L628 1080.6L627 1081.5L626 1080.9L625 1081.4L624 1081.7L623 1082.2L622 1083.1L621 1083L620 1082.8L619 1083.2L618 1083.2L617 1084.4L616 1083.9L615 1084L614 1083.5L613 1082.2L612 1082.9L611 1082.1L610 1084.1L609 1085.8L608 1086.4L607 1086.4L606 1086.5L605 1088.4L604 1089.3L603 1089.4L602 1089.1L601 1090.2L600 1090.9L599 1091.3L598 1091L597 1092.7L596 1093.5L595 1094.3L594 1094.1L593 1095.9L592 1095.5L591 1096.4L590 1095.7L589 1096.2L588 1096.5L587 1098.2L586 1099.1L585 1100.2L584 1100.5L583 1101.5L582 1101.8L581 1103.1L580 1103.5L579 1105.1L578 1104.3L577 1104.1L576 1103.6L575 1104.6L574 1105.9L573 1106.3L572 1107.5L571 1107.4L570 1108.2L569 1109.2L568 1110.5L567 1112.1L566 1112.7L565 1114.3L564 1115.9L563 1116.5L562 1116.8L561 1117.8L560 1118.8L559 1119.9L558 1121.2L557 1121.3L556 1122L555 1121.9L554 1122.2L553 1121.8L552 1121.5L551 1121.9L550 1120.8L549 1119.8L548 1118.5L547 1117.9L546 1116.9L545 1115.2L544 1114.1L543 1113.3L542 1112.9L541 1111.4L540 1110.2L539 1109.9L538 1109.1L537 1107.8L536 1107L535 1106L534 1107.2L533 1106.4L532 1105.6L531 1103.6L530 1102.3L529 1100.8L528 1101.8L527 1101.7L526 1102.2L525 1101L524 1100.9L523 1100.1L522 1099.6L521 1098.7L520 1097.6L519 1096.6L518 1096.3L517 1096L516 1096.2L515 1096.6L514 1095.7L513 1095.8L512 1093.9L511 1093.4L510 1092.6L509 1092.6L508 1091.3L507 1090.9L506 1089L505 1088.8L504 1087.3L503 1085.5L502 1084.4L501 1082.6L500 1082.3L499 1080.5L498 1080.3L497 1079.9L496 1079.9L495 1079.6L494 1078.5L493 1077.7L492 1077.2L491 1078.2L490 1078.1L489 1078.2L488 1077.3L487 1077.3L486 1077.1L485 1076.1L484 1076L483 1076.2L482 1076.4L481 1076.2L480 1076.2L479 1076.4L478 1076.5L477 1076.1L476 1075.8L475 1075.7L474 1075.3L473 1074.7L472 1074.4L471 1075L470 1074.9L469 1076.3L468 1076.9L467 1076.6L466 1077.2L465 1078.1L464 1077.9L463 1076L462 1074.5L461 1075.8L460 1076.1L459 1077.1L458 1076.8L457 1077.4L456 1077.6L455 1076.7L454 1076.5L453 1076.2L452 1075.8L451 1075.5L450 1075.3L449 1074.9L448 1073.2L447 1071.8L446 1071.7L445 1072.2Z" fill="#e7a9a6" fill-opacity="0.55"/>
<path d="M445 955.6L446 952.9L447 950L448 950.1L449 949.9L450 950L451 948.9L452 947.6L453 947.4L454 946.5L455 946.3L456 945L457 943.7L458 943.5L459 943L460 943.8L461 942.8L462 942.3L463 940.9L464 940.7L465 940.3L466 939.9L467 939.1L468 938.1L469 938.2L470 937.4L471 937.3L472 935.6L473 935L474 933.3L475 932.4L476 931.9L477 931.8L478 932.2L479 931.4L480 929L481 927.8L482 926.7L483 925.4L484 924.9L485 923.9L486 923.6L487 922.5L488 921.8L489 920.7L490 919.6L491 919.7L492 919.1L493 917.3L494 915L495 913.8L496 912.6L497 911.7L498 909.6L499 908.7L500 907.3L501 906.2L502 905L503 904.2L504 903.7L505 903.1L506 900.4L507 900.2L508 898.2L509 897.6L510 895.9L511 894.7L512 892.3L513 890.8L514 889.2L515 889.5L516 889.2L517 887L518 885.7L519 882.2L520 881L521 878.3L522 876.9L523 876L524 876.4L525 876.6L526 876.2L527 874.6L528 873.5L529 872L530 871.9L531 870.9L532 869.9L533 867.6L534 866.4L535 865.3L536 864.7L537 863.4L538 861.9L539 860.1L540 859.2L541 858.3L542 857.6L543 855.9L544 852.5L545 849.6L546 845.9L547 843.5L548 841.6L549 839.4L550 837.3L551 834.4L552 830.7L553 827.8L554 825.6L555 824.3L556 823.8L557 823.1L558 823.2L559 824.9L560 824.7L561 827.4L562 830.7L563 834.6L564 837.2L565 839.2L566 842L567 845.3L568 848.9L569 851.8L570 854.1L571 854.9L572 857.3L573 858.2L574 859.7L575 859.8L576 860.2L577 860.6L578 861.9L579 863.7L580 864.5L581 865.2L582 865.1L583 864.7L584 865.4L585 866.8L586 869.3L587 871.1L588 873.4L589 874.9L590 878.6L591 880.7L592 883.7L593 885L594 886.8L595 889.4L596 890.3L597 891.7L598 892L599 894.1L600 896.2L601 898.1L602 899.2L603 899.5L604 901.3L605 901.6L606 902.5L607 902.6L608 903.5L609 904.7L610 904.3L611 906.4L612 906.8L613 908.2L614 908.1L615 909.6L616 910.8L617 912.1L618 912.6L619 913.3L620 914.7L621 915.3L622 917.3L623 918.5L624 920.1L625 921.6L626 923L627 924.8L628 925.3L629 926.2L630 926.4L631 927.5L632 929L633 931.5L634 932.1L635 933.6L636 932.7L637 933.1L638 933.6L639 935.2L640 936.6L641 937.6L642 939L643 940L644 940.8L645 942L646 943.2L647 943.9L648 943.4L649 944L650 943.9L651 946.6L652 947.1L653 948.6L654 948.5L655 949.9L656 951L657 951.9L658 951.4L659 951.4L660 952.5L661 952.2L662 953L663 953.5L664 954L665 954.4L666 953.8L667 954.8L668 955.6L668 989.5L667 987.9L666 985.5L665 985.3L664 984.5L663 984.5L662 983.6L661 983.4L660 983L659 982.7L658 981.7L657 981.8L656 980.8L655 981.2L654 980.2L653 980.8L652 979.1L651 978.7L650 976.9L649 977.6L648 976.4L647 975.9L646 975.7L645 976.2L644 976.2L643 974.9L642 973.3L641 971.6L640 970.6L639 970.8L638 970.9L637 970L636 968.3L635 967.6L634 967.2L633 967.5L632 966.5L631 964.5L630 962.7L629 961.3L628 960.2L627 959.2L626 958.8L625 958.4L624 956.6L623 954.6L622 952.3L621 951L620 950L619 948.7L618 949.2L617 949L616 949.3L615 947.9L614 945.7L613 943.6L612 941.6L611 941.7L610 941.3L609 941.2L608 939.5L607 938.7L606 938.2L605 936.8L604 935.6L603 934.8L602 933.4L601 932.7L600 932.3L599 931.6L598 930.2L597 928.9L596 929.3L595 928.6L594 927.5L593 925.5L592 923.3L591 920.3L590 918.4L589 917.1L588 917.1L587 915L586 913.1L585 910.9L584 910.8L583 911.6L582 912.5L581 913L580 912.2L579 911.5L578 910.8L577 909.9L576 910.2L575 910.3L574 911.9L573 911.3L572 911.2L571 909.3L570 909.1L569 907.3L568 904.8L567 901L566 898.3L565 895.8L564 894.3L563 893.1L562 890.5L561 888.1L560 884.8L559 882.9L558 880L557 877.8L556 877.5L555 877.5L554 877.3L553 878.1L552 879.2L551 883.4L550 885.1L549 887.9L548 888.7L547 891.5L546 893.2L545 895.8L544 898L543 899.6L542 900.9L541 902.2L540 903.7L539 904.8L538 906.3L537 907.5L536 909L535 909.5L534 910.8L533 911.3L532 912.5L531 913.1L530 914.7L529 916.1L528 917.8L527 918.9L526 918.5L525 917.5L524 918.1L523 918.4L522 921.6L521 922.1L520 924.6L519 924L518 927.1L517 927.9L516 931.2L515 931.3L514 931.5L513 932.2L512 933.9L511 935.9L510 935.9L509 937.7L508 938.7L507 940.8L506 940.2L505 942L504 943.5L503 944L502 944L501 945.1L500 946.1L499 947.4L498 947.8L497 948.7L496 949.4L495 949.6L494 950.2L493 949.4L492 950.6L491 951L490 952.2L489 952.1L488 952.7L487 953L486 954.6L485 954.7L484 954.9L483 953.7L482 954.4L481 955.4L480 956.4L479 958.1L478 959L477 958.2L476 958L475 958.3L474 959.5L473 959.2L472 960.1L471 961.6L470 962.9L469 961.4L468 961L467 961.7L466 963.2L465 964.5L464 965.3L463 965L462 965.5L461 965.4L460 965.9L459 965.9L458 966.8L457 968L456 968.4L455 970.9L454 971.8L453 972.8L452 971.6L451 971.8L450 972.1L449 972.6L448 974.2L447 974.8L446 976.4L445 977.7Z" fill="#f6b89c" fill-opacity="0.65"/>
<path d="M445 1025.4L446 1025.4L447 1025.6L448 1026.3L449 1024.8L450 1025.8L451 1025.9L452 1027.8L453 1026.4L454 1026.5L455 1027.8L456 1029.7L457 1028.9L458 1027.1L459 1026L460 1025.9L461 1027.6L462 1027.9L463 1027.5L464 1026.8L465 1027.8L466 1030.2L467 1030.7L468 1029.5L469 1028.5L470 1028.9L471 1029.4L472 1030.3L473 1030.9L474 1032.2L475 1032.6L476 1032.9L477 1033.1L478 1033.5L479 1033.6L480 1033.1L481 1033.4L482 1033.9L483 1034.2L484 1034.6L485 1034L486 1034.3L487 1032.9L488 1034.3L489 1035.7L490 1037.6L491 1037.2L492 1036.3L493 1035.6L494 1036L495 1035.6L496 1035.9L497 1035.4L498 1034.7L499 1034.1L500 1034.4L501 1035L502 1035.1L503 1035.6L504 1035.1L505 1034.2L506 1032.6L507 1033.1L508 1034.2L509 1036.1L510 1036.9L511 1037.5L512 1037.5L513 1037.5L514 1038.4L515 1039.4L516 1040.7L517 1041.5L518 1042.9L519 1044.1L520 1045.5L521 1046.1L522 1046.6L523 1047.9L524 1049.1L525 1050.8L526 1053L527 1054.9L528 1055.7L529 1056.7L530 1057.3L531 1058.6L532 1059.9L533 1060.1L534 1062.2L535 1062L536 1063.3L537 1062.4L538 1062.6L539 1063.2L540 1065.7L541 1067.5L542 1069.8L543 1069.2L544 1070.8L545 1072.1L546 1074.5L547 1076.1L548 1078.4L549 1079.6L550 1079.8L551 1079.5L552 1078.6L553 1077.6L554 1079.5L555 1080L556 1080.7L557 1078.9L558 1077.4L559 1077.1L560 1076.4L561 1075.1L562 1073.4L563 1071.4L564 1070.1L565 1068.7L566 1067.2L567 1066L568 1064.5L569 1064.3L570 1063.3L571 1062.7L572 1061.7L573 1060.4L574 1059.4L575 1057.9L576 1056.6L577 1056.3L578 1055.1L579 1054.1L580 1052.6L581 1052.3L582 1053L583 1053.9L584 1053L585 1052.3L586 1051.3L587 1051.3L588 1050.2L589 1048.9L590 1047.8L591 1046.7L592 1046.8L593 1047.1L594 1046.3L595 1045.6L596 1044.4L597 1045.3L598 1044.5L599 1043.5L600 1042.3L601 1042.3L602 1040.9L603 1040.5L604 1038.6L605 1039.4L606 1038.8L607 1038L608 1036.9L609 1037.4L610 1037.4L611 1037L612 1034.5L613 1033.4L614 1033.1L615 1033.4L616 1033L617 1032L618 1032.8L619 1031L620 1030.6L621 1029.2L622 1029.9L623 1028.7L624 1028.7L625 1027.1L626 1026.7L627 1025L628 1024L629 1022.3L630 1021.4L631 1021.5L632 1021.2L633 1020.9L634 1019.7L635 1018.6L636 1018L637 1017.7L638 1018.1L639 1018L640 1018.5L641 1018.6L642 1018.1L643 1018.8L644 1017.2L645 1017.1L646 1015.4L647 1017.2L648 1016.6L649 1017L650 1014.9L651 1015.8L652 1015.9L653 1016.5L654 1017L655 1016.3L656 1015.7L657 1015.1L658 1014.3L659 1014.6L660 1014.3L661 1013.2L662 1014.2L663 1013.9L664 1015L665 1015.6L666 1014.9L667 1013.8L668 1012.1L668 1027.1L667 1028L666 1028.3L665 1028.5L664 1028.9L663 1028.6L662 1029.5L661 1027.8L660 1028.3L659 1027.9L658 1028.6L657 1029.6L656 1030.4L655 1030.4L654 1030.1L653 1029.8L652 1029.1L651 1029.7L650 1028.7L649 1030.4L648 1030.2L647 1030.2L646 1029.2L645 1030.6L644 1030.7L643 1032.2L642 1031.9L641 1032.7L640 1032.9L639 1032.6L638 1032.4L637 1032.1L636 1032.6L635 1033.3L634 1034.4L633 1035L632 1036.1L631 1035.9L630 1035.3L629 1035.7L628 1037L627 1038.7L626 1040.6L625 1041.6L624 1043.5L623 1043.4L622 1044.6L621 1043.6L620 1044.6L619 1044.2L618 1046.3L617 1046.1L616 1047.7L615 1047.7L614 1047.7L613 1047.6L612 1048.9L611 1050.8L610 1050.9L609 1052L608 1051.1L607 1052.6L606 1052L605 1053.4L604 1052.9L603 1054.9L602 1055.2L601 1056L600 1055.7L599 1056.7L598 1057.5L597 1058.7L596 1057.9L595 1059.2L594 1060L593 1060.7L592 1059.7L591 1059.4L590 1060.8L589 1063L588 1064.6L587 1065.8L586 1065.3L585 1066.8L584 1067L583 1067.9L582 1067.2L581 1067L580 1067.6L579 1068.3L578 1069L577 1069.7L576 1070.4L575 1071.4L574 1072.7L573 1073.2L572 1074.6L571 1075.4L570 1076.6L569 1077.3L568 1077.8L567 1079.4L566 1081.1L565 1083.7L564 1084.6L563 1086.1L562 1087.6L561 1089L560 1090.2L559 1090.8L558 1091.7L557 1093.1L556 1095.2L555 1094.9L554 1094.7L553 1092.3L552 1092.5L551 1092.9L550 1093.3L549 1093.1L548 1092L547 1089.7L546 1088.4L545 1086L544 1084.5L543 1083.1L542 1083.5L541 1081L540 1078.6L539 1076.7L538 1077.2L537 1077L536 1077.4L535 1075.9L534 1076.2L533 1074.8L532 1074.4L531 1072.8L530 1070.5L529 1069.1L528 1069L527 1068.1L526 1067.5L525 1065.3L524 1064.2L523 1062.2L522 1060.6L521 1060.3L520 1059.7L519 1058.6L518 1057.7L517 1057.3L516 1055.9L515 1054.7L514 1052.9L513 1051.9L512 1050.4L511 1050.8L510 1050.4L509 1051.1L508 1049.4L507 1048.5L506 1047.8L505 1048.1L504 1048.5L503 1048.7L502 1048.9L501 1049.8L500 1049.7L499 1049.7L498 1049.5L497 1049.7L496 1049.8L495 1049.5L494 1049.8L493 1049.8L492 1050.7L491 1051.8L490 1051.6L489 1049.6L488 1048.1L487 1047.5L486 1048.2L485 1047.6L484 1047.6L483 1048.3L482 1049.1L481 1048.6L480 1048.1L479 1047.9L478 1048.2L477 1047.5L476 1046.8L475 1046.2L474 1046.4L473 1044.9L472 1044.4L471 1043.3L470 1043L469 1042.5L468 1042.9L467 1043.4L466 1043.5L465 1041.5L464 1041.9L463 1041.8L462 1042.5L461 1041.8L460 1040.3L459 1039.6L458 1039.8L457 1041.6L456 1042.6L455 1041.2L454 1040.1L453 1040.3L452 1041.5L451 1039.8L450 1039.6L449 1038.6L448 1040.6L447 1040.4L446 1040.5L445 1039.8Z" fill="#e6ee90" fill-opacity="0.6"/>
<path d="M445 1022.5L446 1023.1L447 1024.3L448 1026.3L449 1026L450 1025L451 1024.9L452 1024.9L453 1026.6L454 1027.9L455 1029.6L456 1030L457 1032.1L458 1032.3L459 1033.2L460 1031.4L461 1031.5L462 1030.8L463 1031L464 1030.3L465 1030.5L466 1029.7L467 1029.7L468 1029.6L469 1030.6L470 1032L471 1033.5L472 1035.8L473 1037.3L474 1037.6L475 1037.4L476 1037.7L477 1037.6L478 1039.8L479 1040.3L480 1040.3L481 1039.7L482 1039.8L483 1040.8L484 1039.7L485 1039.2L486 1039.3L487 1038.7L488 1038.6L489 1037.8L490 1037.4L491 1037.9L492 1039.3L493 1040.4L494 1042.4L495 1042.1L496 1043L497 1044.4L498 1047.2L499 1049.2L500 1050.3L501 1051.5L502 1051.5L503 1051.8L504 1051L505 1050.1L506 1050.4L507 1051.6L508 1052.9L509 1053.2L510 1053.4L511 1053.1L512 1053.2L513 1054L514 1054.8L515 1055.4L516 1054.6L517 1055.2L518 1055.4L519 1057.6L520 1058.8L521 1059.6L522 1058.9L523 1059L524 1058.3L525 1059.8L526 1060.7L527 1062.4L528 1062.5L529 1063.3L530 1064L531 1064.6L532 1064.1L533 1063.6L534 1062.5L535 1063.6L536 1066.1L537 1068.3L538 1069.5L539 1070.1L540 1071L541 1071.8L542 1072.6L543 1072.6L544 1074.3L545 1074.3L546 1075.4L547 1076L548 1077.7L549 1077.5L550 1078.1L551 1079.2L552 1081.4L553 1081.8L554 1081.3L555 1082.1L556 1082.7L557 1084.1L558 1084.1L559 1082.9L560 1082.4L561 1083.7L562 1082.9L563 1082.3L564 1079.1L565 1078.2L566 1077.6L567 1077.5L568 1075.7L569 1074.2L570 1073.2L571 1073.9L572 1072.4L573 1071.9L574 1070.7L575 1069.9L576 1069L577 1066.9L578 1066.1L579 1065.2L580 1064.1L581 1062.4L582 1062.7L583 1061.1L584 1060.1L585 1058.2L586 1056.9L587 1055.6L588 1056.2L589 1054.9L590 1054.4L591 1052.8L592 1053.8L593 1053.2L594 1053.1L595 1051.1L596 1050.7L597 1051.5L598 1051.2L599 1050.7L600 1049.1L601 1048.7L602 1049.6L603 1048.9L604 1048.5L605 1047.3L606 1046.7L607 1047.2L608 1046.1L609 1045.6L610 1045.7L611 1045.6L612 1045L613 1043.5L614 1043.3L615 1041.9L616 1041.4L617 1040.6L618 1040.2L619 1040.7L620 1038.2L621 1037.6L622 1035.8L623 1034.6L624 1032.9L625 1031.5L626 1029.2L627 1029.2L628 1027.7L629 1028.3L630 1026.9L631 1025.9L632 1025.5L633 1025.3L634 1026.5L635 1026.3L636 1025.7L637 1026L638 1026.6L639 1026.5L640 1025L641 1024.7L642 1024.3L643 1025L644 1023.7L645 1022.4L646 1021.5L647 1022.9L648 1024.1L649 1025.4L650 1024.2L651 1025.4L652 1025.7L653 1026.3L654 1026.3L655 1027.2L656 1029.6L657 1028.7L658 1027.7L659 1027L660 1027.3L661 1027.6L662 1026.8L663 1027.4L664 1026.9L665 1027.1L666 1026.9L667 1027.2L668 1027.2L668 1041.6L667 1041.2L666 1040.2L665 1040.6L664 1040.8L663 1041.7L662 1041.1L661 1041.6L660 1041L659 1040.4L658 1041.4L657 1042.3L656 1043L655 1040L654 1039.5L653 1039.8L652 1039.3L651 1039.2L650 1038.1L649 1039.3L648 1037.7L647 1036.2L646 1034.7L645 1035.5L644 1037.7L643 1039.5L642 1039L641 1038.5L640 1038.3L639 1040L638 1040.5L637 1040.4L636 1040.6L635 1040.6L634 1040.6L633 1038.9L632 1039.1L631 1039.6L630 1040.2L629 1042.4L628 1042.4L627 1044.3L626 1042.7L625 1044.4L624 1045.8L623 1047.9L622 1048.6L621 1049.7L620 1051L619 1054.2L618 1054.6L617 1054.9L616 1055.3L615 1055.7L614 1056.8L613 1056.7L612 1057.7L611 1058.7L610 1058.8L609 1059.4L608 1060L607 1061.6L606 1061.1L605 1062.1L604 1062.7L603 1062.3L602 1062.1L601 1061.4L600 1062.3L599 1064.9L598 1065.2L597 1065.5L596 1064.1L595 1065L594 1067.3L593 1067.1L592 1067.3L591 1067.2L590 1068.7L589 1069.2L588 1069L587 1068.5L586 1070.3L585 1072L584 1074.2L583 1074.9L582 1076.5L581 1076.3L580 1078.2L579 1079.6L578 1080.5L577 1081.7L576 1083.9L575 1085L574 1085.5L573 1085.6L572 1085.6L571 1087.2L570 1086.7L569 1088.6L568 1090.3L567 1092.2L566 1091.6L565 1090.7L564 1091.3L563 1093.9L562 1095.4L561 1097.5L560 1097.5L559 1098.4L558 1098.9L557 1098.3L556 1096L555 1095.3L554 1094.1L553 1095L552 1094.8L551 1093.7L550 1092.1L549 1091.2L548 1090.5L547 1089.9L546 1089.5L545 1088L544 1087.7L543 1086.4L542 1086.7L541 1085.6L540 1084.4L539 1084.3L538 1083.6L537 1082.4L536 1080L535 1078L534 1076.8L533 1076.8L532 1077.1L531 1078.1L530 1078.4L529 1076.6L528 1075.7L527 1075.6L526 1075.2L525 1074.1L524 1072.2L523 1072L522 1072.3L521 1073.4L520 1072.4L519 1071L518 1068.6L517 1069.1L516 1068.5L515 1068.7L514 1068.1L513 1067.5L512 1067L511 1067.2L510 1067.2L509 1067.2L508 1066.6L507 1066.1L506 1064.4L505 1064.6L504 1064.5L503 1065.9L502 1065L501 1065L500 1063.9L499 1063.1L498 1061.3L497 1058.5L496 1057.7L495 1056.8L494 1057.2L493 1054.1L492 1053.4L491 1051.8L490 1051.3L489 1051.2L488 1051.8L487 1052.3L486 1053.1L485 1053.6L484 1054.5L483 1055.5L482 1054.3L481 1054.2L480 1054.3L479 1054.2L478 1052.9L477 1050.8L476 1050.6L475 1051L474 1051.3L473 1051.4L472 1049.3L471 1047.5L470 1046.4L469 1044.8L468 1044L467 1044.2L466 1044.6L465 1045.4L464 1045.2L463 1046.3L462 1046.2L461 1046.5L460 1046L459 1047.3L458 1046.7L457 1046.7L456 1044.5L455 1043.5L454 1042.7L453 1041.8L452 1040.6L451 1039.6L450 1039.4L449 1039.5L448 1039.7L447 1038.2L446 1037.7L445 1037.3Z" fill="#9bd3ee" fill-opacity="0.55"/>
<path d="M445 1020.3L446 1020.3L447 1020.4L448 1020.3L449 1019.8L450 1020.3L451 1021L452 1021.7L453 1021.6L454 1022.6L455 1022.8L456 1023.7L457 1024.3L458 1024.7L459 1025.3L460 1023.5L461 1023.2L462 1022.5L463 1023.6L464 1023.4L465 1023.2L466 1021.9L467 1021.6L468 1021.4L469 1020.9L470 1021.7L471 1021.4L472 1022.1L473 1022.7L474 1023.5L475 1024.5L476 1024.5L477 1024.4L478 1023.3L479 1023.7L480 1025.3L481 1027L482 1027.9L483 1027.4L484 1026.6L485 1026.9L486 1027.8L487 1029L488 1029.7L489 1030.2L490 1029.6L491 1029.8L492 1028.8L493 1028.4L494 1028.6L495 1028.8L496 1028.9L497 1028L498 1027.4L499 1028.3L500 1028.8L501 1028.2L502 1027.8L503 1028.4L504 1029.5L505 1030.2L506 1030.2L507 1030.5L508 1030.1L509 1030.4L510 1030.9L511 1031.8L512 1032.5L513 1032.5L514 1032.9L515 1033.1L516 1032.5L517 1033.7L518 1033.8L519 1035L520 1034L521 1034.2L522 1033.9L523 1035.3L524 1035.9L525 1036.1L526 1036.8L527 1036.6L528 1039.1L529 1038.3L530 1039.2L531 1038.5L532 1040.7L533 1042L534 1043.7L535 1043.4L536 1044.6L537 1043.9L538 1044.6L539 1045.8L540 1046.4L541 1046.6L542 1046.9L543 1047.8L544 1048.6L545 1048.6L546 1050.1L547 1051.2L548 1052.7L549 1052.7L550 1053L551 1053.6L552 1054.2L553 1054.9L554 1054L555 1054.2L556 1054L557 1054.3L558 1054.6L559 1054.2L560 1054.4L561 1053.6L562 1053.1L563 1052.1L564 1051.9L565 1050.3L566 1049.3L567 1048.6L568 1048L569 1046.7L570 1045.7L571 1044.6L572 1044.5L573 1043.8L574 1043.6L575 1042.1L576 1040.5L577 1040.1L578 1039.7L579 1039.4L580 1037.8L581 1036.8L582 1036.7L583 1036.2L584 1036.7L585 1035.6L586 1035.1L587 1034.8L588 1035.3L589 1035.2L590 1034.5L591 1033.6L592 1033L593 1033.2L594 1032.7L595 1031.6L596 1029.6L597 1029.4L598 1030.5L599 1030.9L600 1030.8L601 1029.4L602 1028.4L603 1028.2L604 1028.5L605 1028.6L606 1028.3L607 1028.3L608 1029.2L609 1028.8L610 1028.3L611 1027.7L612 1027.3L613 1027L614 1026.2L615 1025.7L616 1025.2L617 1025.9L618 1026.4L619 1026.2L620 1024.7L621 1024.3L622 1024.9L623 1025.4L624 1024.4L625 1023.1L626 1022.8L627 1022.4L628 1021.7L629 1020.4L630 1019.7L631 1019.6L632 1019.2L633 1019.1L634 1019.2L635 1019.5L636 1018.8L637 1017.9L638 1016.5L639 1016.3L640 1015.4L641 1016.4L642 1016.6L643 1016.6L644 1015.5L645 1014.8L646 1014L647 1013.7L648 1013.5L649 1014.4L650 1014.1L651 1013.9L652 1012.9L653 1012.8L654 1013L655 1012.6L656 1012.9L657 1012.4L658 1012.1L659 1012.3L660 1013L661 1013.5L662 1012.6L663 1012.6L664 1012.6L665 1012.2L666 1011.3L667 1010.6L668 1010.5L668 1020.9L667 1020.8L666 1020.9L665 1020.9L664 1021.3L663 1021.3L662 1021.2L661 1021.6L660 1021.1L659 1021.3L658 1020.8L657 1021.6L656 1021.5L655 1022L654 1021.9L653 1022.8L652 1022.6L651 1023.4L650 1023.2L649 1023.7L648 1023.4L647 1023.9L646 1024.5L645 1025.3L644 1025.9L643 1026L642 1025.8L641 1025.2L640 1024.7L639 1024.9L638 1025.4L637 1026.1L636 1026.9L635 1027.5L634 1027.9L633 1028.1L632 1028L631 1029.1L630 1029.4L629 1030.6L628 1031L627 1031.8L626 1031.9L625 1032L624 1033L623 1033.9L622 1034.1L621 1034.4L620 1034.9L619 1035.6L618 1035.8L617 1035.1L616 1035.1L615 1034.7L614 1035.7L613 1036L612 1036.4L611 1036.7L610 1037L609 1038.3L608 1038.4L607 1038.4L606 1037.4L605 1036.7L604 1036.9L603 1037.1L602 1037.6L601 1037.8L600 1038.7L599 1039.4L598 1039.7L597 1039.6L596 1039.9L595 1041.5L594 1042.8L593 1042.9L592 1042.8L591 1042.8L590 1044.1L589 1045.2L588 1045.1L587 1044.3L586 1044.6L585 1045.1L584 1046.2L583 1045.7L582 1046.2L581 1046.2L580 1047.5L579 1048.8L578 1049.6L577 1049.6L576 1049.5L575 1050.9L574 1053L573 1053.7L572 1054.6L571 1054.4L570 1055.5L569 1056.2L568 1057.3L567 1058.7L566 1059L565 1059.9L564 1061L563 1061.2L562 1062L561 1061.9L560 1062.8L559 1063L558 1063.8L557 1063.4L556 1062.8L555 1062.3L554 1062.1L553 1062.8L552 1063L551 1062.4L550 1061.5L549 1061.2L548 1061.1L547 1060.2L546 1059.2L545 1058.2L544 1058L543 1057.4L542 1056.1L541 1055.6L540 1054.9L539 1054.8L538 1054.1L537 1053.4L536 1053.2L535 1052.1L534 1052.3L533 1051.5L532 1049.9L531 1048.8L530 1049.2L529 1048.2L528 1047.1L527 1044.3L526 1044.6L525 1044.5L524 1045.6L523 1044.7L522 1044.3L521 1043.5L520 1042.9L519 1043.4L518 1042.5L517 1042.3L516 1041.6L515 1041.8L514 1041.5L513 1040.8L512 1041.2L511 1040.8L510 1040.3L509 1039.7L508 1039.5L507 1038.6L506 1038L505 1037.6L504 1037.9L503 1037L502 1036.6L501 1036.7L500 1037.8L499 1037.9L498 1036.7L497 1036.8L496 1038.1L495 1038.7L494 1038.9L493 1038L492 1038.2L491 1038.7L490 1039.2L489 1038.8L488 1037.8L487 1036.9L486 1036.3L485 1036L484 1034.8L483 1035.3L482 1035.7L481 1035.6L480 1034.7L479 1033.1L478 1033.1L477 1032.9L476 1033.7L475 1032.6L474 1031.9L473 1030.6L472 1030.4L471 1030.3L470 1030L469 1028.9L468 1029.2L467 1030.3L466 1031.3L465 1032.8L464 1032.6L463 1032.7L462 1032L461 1032.6L460 1033L459 1033.5L458 1033.2L457 1032.3L456 1032.4L455 1031.3L454 1031.4L453 1030.5L452 1031L451 1030.5L450 1030.5L449 1029.4L448 1029.3L447 1028.4L446 1028.2L445 1028.4Z" fill="#d6d6ea" fill-opacity="0.5"/>
<path d="M445 1013.6L446 1012.8L447 1010.9L448 1009.6L449 1007.8L450 1007.2L451 1006.7L452 1007.2L453 1009.3L454 1011.1L455 1011.5L456 1013.7L457 1013.5L458 1015.3L459 1015.5L460 1016.4L461 1015.5L462 1015.9L463 1014.9L464 1014.8L465 1012.9L466 1012L467 1009.9L468 1008.3L469 1008.3L470 1007.6L471 1006L472 1004.3L473 1003.5L474 1003.9L475 1006.4L476 1007.4L477 1009.7L478 1009.7L479 1010.6L480 1011.4L481 1013.2L482 1012.5L483 1012.6L484 1012.5L485 1014.5L486 1015.3L487 1013.5L488 1012.3L489 1012L490 1013.1L491 1011.8L492 1010.5L493 1010L494 1010.7L495 1012.3L496 1014.2L497 1013.8L498 1013.2L499 1012.5L500 1014.8L501 1016L502 1016.3L503 1015.2L504 1014.9L505 1014.6L506 1014.3L507 1014.6L508 1014.4L509 1015.4L510 1015.2L511 1016.8L512 1016.6L513 1016.8L514 1015.8L515 1015.6L516 1015L517 1016.1L518 1016.3L519 1017.8L520 1019.8L521 1020.5L522 1021.3L523 1021.2L524 1021.7L525 1021L526 1020.8L527 1020.6L528 1021.3L529 1020.1L530 1019.5L531 1019.3L532 1019.8L533 1020.7L534 1023.1L535 1022.6L536 1022.6L537 1022.2L538 1023.2L539 1024.1L540 1024.6L541 1023.8L542 1024.4L543 1024.1L544 1024.1L545 1024.4L546 1022.2L547 1024L548 1024.9L549 1025.8L550 1026.4L551 1024.6L552 1024.9L553 1024.7L554 1024.8L555 1024L556 1023.5L557 1021.9L558 1020.7L559 1020.7L560 1019.4L561 1020.3L562 1020.9L563 1020.8L564 1020.2L565 1019.4L566 1018.3L567 1016.8L568 1016L569 1017.6L570 1019.1L571 1019.2L572 1018.5L573 1017.6L574 1016L575 1015.6L576 1015.6L577 1014.4L578 1014.6L579 1014.5L580 1016.9L581 1017.5L582 1016.9L583 1016.5L584 1016.7L585 1018.6L586 1018.6L587 1018.1L588 1016.8L589 1018.3L590 1020.3L591 1021.1L592 1020.5L593 1020.4L594 1022.2L595 1021L596 1019.8L597 1018L598 1018.8L599 1019.2L600 1019.4L601 1018L602 1017L603 1016.5L604 1016.2L605 1014.6L606 1012.4L607 1011.2L608 1010L609 1010.1L610 1010L611 1009.2L612 1009.3L613 1009.2L614 1010.7L615 1011.2L616 1011.1L617 1011.4L618 1011.9L619 1010L620 1007.3L621 1006L622 1005.5L623 1004.7L624 1003.8L625 1002.3L626 1003.7L627 1005.1L628 1006.8L629 1005.6L630 1003.8L631 1000.6L632 999.4L633 999.1L634 999.9L635 1000.7L636 1001.1L637 1001.1L638 1001.3L639 1000.8L640 1000.8L641 1001.1L642 1001.6L643 1001.2L644 999.9L645 998.9L646 997.4L647 996.6L648 996.6L649 995.9L650 994.8L651 994.6L652 994.1L653 994.1L654 994.8L655 995.9L656 997.2L657 997.2L658 995.6L659 996.8L660 996.3L661 998.1L662 997.2L663 998.2L664 998.3L665 997.7L666 996.9L667 996.8L668 996.7L668 1008.1L667 1008.2L666 1007.7L665 1007.7L664 1007.9L663 1007.9L662 1007.3L661 1008.4L660 1006.8L659 1007.5L658 1006.8L657 1007.9L656 1008.1L655 1006.8L654 1006L653 1004.7L652 1004.6L651 1005.8L650 1006.5L649 1007.8L648 1008.4L647 1008L646 1008.1L645 1008.5L644 1008.9L643 1010.2L642 1011.7L641 1011.5L640 1012.5L639 1011.8L638 1012.6L637 1011.4L636 1011.8L635 1011.9L634 1011.4L633 1010.4L632 1010.6L631 1011.6L630 1014.6L629 1015.6L628 1016.7L627 1015.9L626 1015.7L625 1014.3L624 1015L623 1015.3L622 1015.7L621 1016.8L620 1018.1L619 1021L618 1022.6L617 1022.7L616 1022.3L615 1022.3L614 1021.7L613 1021.1L612 1020.7L611 1020.5L610 1020.9L609 1021.5L608 1021.4L607 1022.3L606 1023.2L605 1025L604 1026.6L603 1027.2L602 1027.7L601 1028.5L600 1029.9L599 1030.5L598 1030.4L597 1030L596 1031.8L595 1033L594 1033.4L593 1031.3L592 1031L591 1031.4L590 1031.2L589 1029.5L588 1028.5L587 1028.9L586 1028.8L585 1029.1L584 1027.9L583 1028.6L582 1028.7L581 1029.4L580 1027.6L579 1025.3L578 1024.5L577 1024.8L576 1025.7L575 1026L574 1025.9L573 1027.5L572 1027.7L571 1029.5L570 1030L569 1028.7L568 1026.5L567 1026.5L566 1028.6L565 1029.9L564 1031.2L563 1031.7L562 1032.2L561 1031.2L560 1030.7L559 1032.1L558 1033.1L557 1034L556 1035.3L555 1035.2L554 1036.6L553 1036.7L552 1036.5L551 1035.4L550 1036.2L549 1036.6L548 1036.1L547 1035.5L546 1033.5L545 1035.4L544 1035.2L543 1035.1L542 1034.7L541 1034.1L540 1034.2L539 1034.8L538 1034.1L537 1033.3L536 1033.6L535 1033.8L534 1034.8L533 1031.9L532 1030.8L531 1030.5L530 1031L529 1031.9L528 1032.1L527 1031.1L526 1030.8L525 1031.2L524 1032.1L523 1031.6L522 1032.1L521 1031L520 1031.2L519 1028.6L518 1027.3L517 1026.2L516 1025.5L515 1026L514 1026.1L513 1027L512 1026.4L511 1026.4L510 1024.7L509 1025.5L508 1024.7L507 1025.1L506 1024.6L505 1024.9L504 1025.7L503 1026.3L502 1027.7L501 1027.4L500 1027.2L499 1024.5L498 1024.5L497 1023.9L496 1024.1L495 1023.4L494 1022.3L493 1022L492 1021.6L491 1022.8L490 1023.9L489 1023.4L488 1023.2L487 1024.3L486 1025.2L485 1025.4L484 1023.8L483 1024L482 1023.1L481 1023.4L480 1021.9L479 1021.7L478 1021.2L477 1020.6L476 1017.5L475 1016.4L474 1014.2L473 1014.6L472 1015.6L471 1017.3L470 1018.1L469 1018.4L468 1018.4L467 1020.2L466 1022.4L465 1023.3L464 1025.1L463 1025.4L462 1026.3L461 1026.5L460 1027.5L459 1027.1L458 1026.7L457 1024.6L456 1024.6L455 1022.9L454 1022.1L453 1020.1L452 1018L451 1017.9L450 1018L449 1018.1L448 1020L447 1020.7L446 1023.1L445 1024Z" fill="#f6c6c4" fill-opacity="0.45"/>
<path d="M445 1003.5L446 1004L447 1004L448 1003.9L449 1002.4L450 1003.5L451 1003L452 1003.4L453 1002.3L454 1002.6L455 1000.6L456 999.3L457 999.4L458 1002L459 1003L460 1003.6L461 1004L462 1004L463 1004.5L464 1002.7L465 1003.5L466 1001L467 1001L468 999.7L469 1002.1L470 1002.3L471 1005.2L472 1004.5L473 1005.9L474 1005.2L475 1006.9L476 1007.2L477 1007.8L478 1009L479 1010L480 1011.4L481 1011.2L482 1012.2L483 1011.1L484 1009.6L485 1007.7L486 1008.3L487 1007.4L488 1008.8L489 1008L490 1009L491 1009L492 1009.2L493 1008.4L494 1009.7L495 1010L496 1011.8L497 1012.2L498 1012.2L499 1011.5L500 1012.1L501 1013.4L502 1015.8L503 1017.2L504 1015.9L505 1014.8L506 1014.4L507 1015.5L508 1017L509 1016.2L510 1014.9L511 1015.6L512 1015.3L513 1016.6L514 1017.2L515 1021.1L516 1021.5L517 1022.3L518 1020.9L519 1021.3L520 1021L521 1020.5L522 1018.8L523 1015.1L524 1013.9L525 1012.8L526 1014.6L527 1013.7L528 1016.5L529 1017.1L530 1018.8L531 1020.8L532 1022.4L533 1023L534 1021L535 1017.7L536 1015.1L537 1012.3L538 1012.6L539 1013.2L540 1014.4L541 1015.4L542 1016.8L543 1017.4L544 1016.8L545 1019L546 1020.2L547 1022.9L548 1024.8L549 1025L550 1026.5L551 1025.9L552 1027.2L553 1027.8L554 1030.1L555 1028.9L556 1027.3L557 1025.2L558 1026.2L559 1025.4L560 1025L561 1023.9L562 1023.1L563 1020.5L564 1017.9L565 1016.6L566 1018.2L567 1016.5L568 1016L569 1013.4L570 1013L571 1011.7L572 1011.9L573 1011.5L574 1010.4L575 1009.8L576 1010.3L577 1011.3L578 1012.7L579 1012.9L580 1014.4L581 1014.2L582 1015.2L583 1013.4L584 1011L585 1008.8L586 1008.3L587 1007.7L588 1007.2L589 1007L590 1006.1L591 1005.4L592 1005.9L593 1005.5L594 1005.7L595 1006.4L596 1006.6L597 1006.9L598 1007L599 1009.1L600 1010.2L601 1009.9L602 1008.3L603 1006.7L604 1005.7L605 1005.3L606 1007L607 1008.9L608 1009.8L609 1008.8L610 1006.4L611 1007.3L612 1008.9L613 1010.3L614 1009.9L615 1008.7L616 1009.5L617 1008.4L618 1008.6L619 1007.1L620 1007L621 1006.8L622 1007.6L623 1007.6L624 1009L625 1009.2L626 1009.7L627 1009.9L628 1010.6L629 1012.8L630 1013L631 1013.7L632 1011.8L633 1010.5L634 1009.5L635 1008.5L636 1008.1L637 1008.1L638 1009.4L639 1010.2L640 1009.1L641 1008.3L642 1007.2L643 1008.6L644 1007.3L645 1006.2L646 1003.2L647 1003.8L648 1004.2L649 1005.1L650 1004.5L651 1002.8L652 1002.6L653 1002.1L654 1002.5L655 1003.3L656 1005.4L657 1006.3L658 1006.2L659 1004.6L660 1004.3L661 1004.4L662 1003.5L663 1004.3L664 1004L665 1004.6L666 1003L667 1002.2L668 1001.9L668 1013.8L667 1014.2L666 1015.5L665 1016.9L664 1016.2L663 1016L662 1015.2L661 1016.3L660 1016L659 1015.9L658 1016.9L657 1016.7L656 1016.3L655 1014.8L654 1014.3L653 1013.7L652 1014.4L651 1014.7L650 1016.1L649 1014.9L648 1014L647 1014L646 1014.7L645 1017.9L644 1018.9L643 1019.4L642 1018.1L641 1018.9L640 1020.3L639 1020.8L638 1020.3L637 1019.5L636 1020.4L635 1021.2L634 1021.8L633 1022.3L632 1023.2L631 1025.2L630 1023.5L629 1023.1L628 1021.2L627 1021.3L626 1021.1L625 1020.9L624 1020.5L623 1019.1L622 1019L621 1019.1L620 1019.5L619 1018.4L618 1019.5L617 1019.9L616 1020.9L615 1020.1L614 1020.5L613 1021.2L612 1019.4L611 1018.7L610 1017.5L609 1019.8L608 1020L607 1019.3L606 1017.2L605 1015.9L604 1016.1L603 1017.2L602 1019L601 1020.7L600 1021.6L599 1020.2L598 1018.7L597 1018.1L596 1018.2L595 1017.9L594 1016.6L593 1016.5L592 1017L591 1017L590 1017.2L589 1018.1L588 1018.6L587 1018.8L586 1019.1L585 1019.2L584 1021.8L583 1024.2L582 1025.8L581 1025.4L580 1025.9L579 1024.9L578 1024.3L577 1022.7L576 1021.4L575 1020.7L574 1021.2L573 1022.1L572 1022.8L571 1022.9L570 1024.2L569 1024.5L568 1027.3L567 1028L566 1030.1L565 1028L564 1029.1L563 1031.2L562 1034L561 1035.1L560 1036.5L559 1036.7L558 1037.6L557 1036.1L556 1038.9L555 1040.2L554 1041.1L553 1038.5L552 1038L551 1037.4L550 1037.3L549 1035.6L548 1036.1L547 1035L546 1032.6L545 1030.8L544 1028.1L543 1028.4L542 1027.2L541 1025.5L540 1024.9L539 1023.8L538 1023.8L537 1023L536 1025.5L535 1028L534 1031.2L533 1033.2L532 1033.1L531 1032L530 1029.8L529 1027.8L528 1027.3L527 1025.3L526 1025.6L525 1023.8L524 1025.2L523 1027L522 1030.3L521 1031.2L520 1031.5L519 1031.5L518 1031.9L517 1033.5L516 1033.4L515 1032.8L514 1029.2L513 1028.6L512 1026.3L511 1025.5L510 1024L509 1025.3L508 1026.3L507 1025.1L506 1025.1L505 1025.5L504 1026.5L503 1027.1L502 1025.4L501 1023.3L500 1023.1L499 1022.4L498 1022.8L497 1022.3L496 1023.2L495 1022.1L494 1021.4L493 1019.3L492 1020L491 1020.3L490 1020.1L489 1019.9L488 1020.5L487 1019.9L486 1020.8L485 1020.2L484 1021.8L483 1021.9L482 1023L481 1021.7L480 1021.8L479 1020.2L478 1019.3L477 1018.8L476 1018.7L475 1018.3L474 1016.8L473 1016.6L472 1015.2L471 1015.9L470 1013.9L469 1013.6L468 1011L467 1011.2L466 1011.6L465 1013.9L464 1013.5L463 1015L462 1014.5L461 1014.1L460 1014.1L459 1014.7L458 1014.2L457 1011.7L456 1010.2L455 1011.2L454 1012.8L453 1013.2L452 1014.5L451 1014.7L450 1015.6L449 1015.3L448 1016.2L447 1015.4L446 1015.1L445 1014.8Z" fill="#9fd8ba" fill-opacity="0.55"/>
<path d="M445 997.3L446 996.9L447 997.2L448 996.7L449 997.2L450 995.6L451 995.5L452 996.3L453 997L454 996.9L455 994.7L456 993.2L457 994L458 994.2L459 993.1L460 992.2L461 992.5L462 992.7L463 994.3L464 993.6L465 995.1L466 993.1L467 992.7L468 992.7L469 993.6L470 994.2L471 995.4L472 995.1L473 995.8L474 995L475 995.8L476 995.9L477 996.3L478 995.1L479 995.3L480 995.6L481 995.8L482 995.2L483 994.3L484 995L485 993.9L486 994.1L487 993.6L488 995.1L489 995.6L490 994.4L491 994.7L492 993.5L493 994.5L494 993.1L495 994.4L496 994.8L497 994.5L498 992.8L499 991.8L500 990L501 991.3L502 990L503 992.5L504 991.9L505 992.6L506 992.4L507 993.7L508 993.6L509 995.6L510 996L511 995.1L512 995.2L513 994.9L514 996L515 996.2L516 996.3L517 995.2L518 993.6L519 993.2L520 994.5L521 995.3L522 995.6L523 995.3L524 994.5L525 995.4L526 995.8L527 996.8L528 996.6L529 997.3L530 996.6L531 995.4L532 995.2L533 995.1L534 995.2L535 996.5L536 997L537 996.7L538 995.9L539 995.3L540 995.7L541 996.4L542 996.8L543 997.8L544 999L545 999.7L546 1000L547 999.2L548 999.3L549 1000.1L550 1000.6L551 1003.6L552 1005.6L553 1006.8L554 1006.1L555 1006L556 1006.2L557 1006.3L558 1008.4L559 1008.2L560 1009.6L561 1009.1L562 1010.3L563 1009.6L564 1009.7L565 1007.4L566 1008.5L567 1007.7L568 1007.1L569 1005.6L570 1003.5L571 1001.1L572 1001.9L573 1001L574 1001.5L575 999L576 997.3L577 995.6L578 995.1L579 995.3L580 996.8L581 996.5L582 996.3L583 993.9L584 993.9L585 993.9L586 993.2L587 993.6L588 993.8L589 996L590 994.6L591 993.2L592 992.1L593 992.3L594 992.1L595 992.2L596 993.6L597 994L598 995.1L599 994.3L600 993.2L601 993.4L602 993.9L603 995.5L604 995.5L605 994.8L606 993.2L607 991.7L608 992.5L609 992.3L610 992.4L611 992.6L612 991.8L613 992L614 991.1L615 991.4L616 990.2L617 991.8L618 992.2L619 992.6L620 989.7L621 990.8L622 988.6L623 989.2L624 988.3L625 989.7L626 990.1L627 989.3L628 990L629 989.9L630 991.3L631 990.7L632 990.4L633 990.9L634 991.4L635 992.2L636 991.3L637 992.2L638 991.3L639 990.3L640 989.7L641 990.1L642 991.5L643 991.7L644 992.8L645 993.4L646 993.3L647 990.9L648 990.8L649 990.2L650 990.8L651 990.7L652 992.1L653 990.4L654 990.9L655 988.6L656 989.9L657 989.8L658 991.1L659 989.4L660 990L661 989.8L662 992L663 991.6L664 990.7L665 990.2L666 991.5L667 993L668 994.8L668 1004.6L667 1003.5L666 1002.1L665 1000.3L664 999.8L663 1001.1L662 1001L661 999.3L660 999.4L659 999.5L658 1001.1L657 999.4L656 999.7L655 999L654 1001.7L653 1001L652 1002.5L651 1001.6L650 1001.8L649 1000.8L648 1000.8L647 1000.8L646 1003.6L645 1003.6L644 1001.6L643 1000.7L642 1000.2L641 1000.4L640 1000.2L639 1000.6L638 1001.1L637 1001.1L636 1000.8L635 1002L634 1001.9L633 1002L632 1001.2L631 1001.2L630 1000.9L629 1000L628 1000L627 999.7L626 1000.4L625 1000.1L624 998.9L623 999.5L622 998.6L621 999.8L620 998.8L619 1002.1L618 1003L617 1002.4L616 1001L615 1001.6L614 1001.5L613 1002.3L612 1002.4L611 1002.9L610 1002.3L609 1002.1L608 1003L607 1002.5L606 1003.5L605 1003.8L604 1004.5L603 1004.8L602 1003.8L601 1003.1L600 1003.3L599 1004.4L598 1004.2L597 1002.1L596 1001.3L595 1000.8L594 1001.4L593 1001.8L592 1001.9L591 1003L590 1004.9L589 1006.4L588 1004L587 1003.5L586 1002.7L585 1002.9L584 1002.2L583 1002.4L582 1005.3L581 1007.5L580 1007.5L579 1006L578 1003.8L577 1004.1L576 1006L575 1008.3L574 1010.8L573 1010.7L572 1011.8L571 1011.7L570 1013.2L569 1014.7L568 1015.9L567 1016.9L566 1018.2L565 1016.6L564 1019.1L563 1019.2L562 1019.9L561 1018.3L560 1018.6L559 1018.4L558 1018.5L557 1017.4L556 1016.7L555 1016.4L554 1015.7L553 1016.7L552 1015.6L551 1014.1L550 1011.2L549 1011.7L548 1009.9L547 1009.5L546 1009.3L545 1009.5L544 1009.1L543 1007.7L542 1007L541 1006.3L540 1006.4L539 1005.5L538 1005.9L537 1006.7L536 1007L535 1007.6L534 1006.2L533 1006.5L532 1005.1L531 1004.6L530 1005.2L529 1005.7L528 1005.4L527 1004.9L526 1005.2L525 1004.4L524 1005.2L523 1004.7L522 1005.5L521 1004.7L520 1004.5L519 1003.5L518 1003.7L517 1005.6L516 1006.3L515 1006.2L514 1005.5L513 1005.2L512 1005L511 1004L510 1004.6L509 1004.7L508 1004.2L507 1003.9L506 1002.2L505 1001.1L504 1001L503 1002L502 1000.6L501 1000.9L500 999.8L499 1001.2L498 1003L497 1004.3L496 1005.2L495 1004.4L494 1003L493 1004.6L492 1003.6L491 1004.4L490 1002.7L489 1004.5L488 1004.8L487 1003.9L486 1004.2L485 1003.6L484 1006L483 1004.8L482 1005.6L481 1005.2L480 1004.5L479 1004.9L478 1004.5L477 1005.9L476 1004.9L475 1004.7L474 1004.3L473 1005L472 1004L471 1004.2L470 1003.3L469 1003.4L468 1002.9L467 1002.3L466 1002.9L465 1004.4L464 1003.2L463 1003.4L462 1001.9L461 1002.1L460 1002.2L459 1003.4L458 1004.5L457 1003.8L456 1003.2L455 1004.3L454 1006.2L453 1005.8L452 1005.5L451 1005.4L450 1005.5L449 1006.6L448 1005.8L447 1006.2L446 1006.1L445 1006.3Z" fill="#a4dcd8" fill-opacity="0.5"/>
<path d="M445 992.5L446 990.5L447 989.5L448 987.8L449 988.3L450 989L451 991.3L452 991.7L453 989.5L454 990.2L455 991.8L456 993.8L457 993.6L458 993.5L459 993.7L460 993.4L461 991.7L462 989.9L463 990L464 991.5L465 992.5L466 992.7L467 993.1L468 991.6L469 992.1L470 992.1L471 992.5L472 991.2L473 990.3L474 989.8L475 989.9L476 988.8L477 988.3L478 987.3L479 989.2L480 992.1L481 992.8L482 992.9L483 992.5L484 992.2L485 990.4L486 988.8L487 987.2L488 987.2L489 988.1L490 990.7L491 992L492 992.3L493 990.4L494 991.9L495 994.4L496 995.5L497 994.5L498 992.2L499 991.8L500 991.7L501 991.4L502 992.7L503 990.9L504 990.4L505 989.3L506 990.9L507 992L508 990.2L509 989.5L510 988.3L511 989.7L512 990.5L513 989.8L514 991.5L515 992.6L516 994.3L517 996L518 998.3L519 1000.2L520 998.2L521 995.9L522 993L523 991.9L524 991.3L525 991.3L526 991.1L527 989.9L528 989L529 988.2L530 989.5L531 988.1L532 988.6L533 986.3L534 986.4L535 985L536 987.1L537 989L538 992.4L539 992.1L540 991.7L541 990.7L542 991.6L543 991L544 987.9L545 987.6L546 986.9L547 987.6L548 984.6L549 983.7L550 982.2L551 981.9L552 982.9L553 985.5L554 986.9L555 987L556 985.7L557 984.7L558 984.8L559 983.8L560 985.2L561 985.5L562 985.9L563 987L564 988.4L565 988.5L566 986.7L567 986.4L568 986.8L569 987.9L570 988L571 988.6L572 990L573 989.7L574 991.6L575 989.8L576 990L577 989.4L578 989.1L579 989.6L580 988.9L581 987.7L582 987.8L583 988.6L584 990.5L585 992.2L586 993.2L587 993.3L588 992L589 991.1L590 991.7L591 991.4L592 991.7L593 989.6L594 989.8L595 988.2L596 988.9L597 989.3L598 989.4L599 988.9L600 987.7L601 988.8L602 989.7L603 990.5L604 989.9L605 990.1L606 988.5L607 988.9L608 987.7L609 990.2L610 989.2L611 989L612 987L613 987L614 987.5L615 989.1L616 988L617 987.8L618 990L619 992.7L620 992.9L621 990.9L622 988.3L623 989.7L624 990.5L625 992.1L626 992.2L627 991L628 991.2L629 990.8L630 992.5L631 992.9L632 992.5L633 990.9L634 989.7L635 990.8L636 992.5L637 994.1L638 993.3L639 991.1L640 990.1L641 989.6L642 991.1L643 990.3L644 990.4L645 989.9L646 989.9L647 991.6L648 991.5L649 991.2L650 990L651 989.8L652 989.8L653 988.5L654 989.4L655 989L656 988.1L657 989.2L658 988.9L659 989L660 988.1L661 987.6L662 989.8L663 989.1L664 988.7L665 987.5L666 988.6L667 988.4L668 989.4L668 998.4L667 998.3L666 998.2L665 996.2L664 997.3L663 997.8L662 999L661 996.1L660 997.1L659 998.1L658 998L657 998L656 997L655 998.4L654 1000L653 999.1L652 1000.4L651 1000.2L650 1000.3L649 1001L648 1001L647 1000.7L646 999.5L645 999.5L644 1000.4L643 999.3L642 1000.1L641 998.9L640 1000L639 1000.8L638 1003.2L637 1004.2L636 1003.1L635 1000.9L634 999.5L633 1000.4L632 1002.3L631 1003L630 1002.9L629 1001L628 1000.8L627 1000.8L626 1001.3L625 1001.4L624 999.3L623 999.3L622 998.4L621 1000.9L620 1002.9L619 1001.9L618 1000.3L617 998.2L616 999.1L615 999.5L614 998L613 997.9L612 997.3L611 998.9L610 998.8L609 1000.2L608 998.3L607 999.5L606 999.3L605 1000.2L604 999.5L603 999.9L602 999.7L601 999.4L600 998.2L599 998.7L598 999.9L597 999.6L596 999.4L595 997.5L594 999.4L593 998.6L592 1000.5L591 1000.6L590 1001.5L589 1000.9L588 1001.4L587 1003.2L586 1003.2L585 1001.8L584 999.2L583 997.4L582 997L581 996.9L580 998.1L579 999.2L578 999L577 999.5L576 1000.2L575 999.9L574 1001.6L573 999.5L572 999.8L571 998.4L570 998.1L569 998.2L568 997.4L567 996.4L566 996.2L565 997.8L564 998.3L563 996.7L562 995.2L561 994.2L560 994.3L559 993.6L558 995.2L557 994.7L556 994.9L555 996.1L554 996.3L553 996.4L552 993.5L551 992.7L550 992.4L549 994L548 995.1L547 997.7L546 996.7L545 997L544 997.1L543 1000.7L542 1001.6L541 1001L540 1001.5L539 1001.6L538 1002.4L537 999.4L536 998L535 995.3L534 997.1L533 996L532 998.6L531 997.8L530 999.5L529 998.2L528 999L527 999.8L526 1000.8L525 1000.9L524 1000.4L523 1001.1L522 1002.4L521 1005.6L520 1008.1L519 1009.4L518 1008.1L517 1005.5L516 1004.4L515 1003.2L514 1002.7L513 1001.1L512 1001.3L511 1000.1L510 998.9L509 1000.1L508 1000.3L507 1001.4L506 1000.5L505 999L504 1000.5L503 1001.1L502 1003L501 1001.4L500 1000.9L499 1001.3L498 1002L497 1004.6L496 1005.5L495 1005.1L494 1002.9L493 1001.2L492 1001.9L491 1001.2L490 1000.4L489 998.5L488 997.7L487 997.3L486 998.8L485 1000L484 1001.5L483 1001.8L482 1001.8L481 1001.8L480 1001.3L479 999.4L478 998.2L477 998.2L476 998.6L475 999.9L474 1000L473 1000.6L472 1000.7L471 1002.6L470 1002.1L469 1001.7L468 1000.5L467 1002.1L466 1002L465 1002.4L464 1001.7L463 1001L462 1001L461 1002L460 1003.1L459 1003L458 1003.2L457 1003.2L456 1003.6L455 1001.7L454 1000.4L453 999.6L452 1002L451 1001.2L450 999.5L449 998.1L448 998.3L447 999.7L446 1000.6L445 1002Z" fill="#9ad6d2" fill-opacity="0.55"/>
<path d="M445 980.5L446 981L447 982.7L448 982.7L449 982.7L450 981.7L451 981.7L452 981.8L453 982.3L454 983.5L455 984L456 984.3L457 983.8L458 984.6L459 985.3L460 986.6L461 985.6L462 985.8L463 986.5L464 988.1L465 987.9L466 988.2L467 987.8L468 988.5L469 988L470 987.8L471 987.5L472 987.1L473 987.2L474 987.4L475 987.5L476 986.5L477 985.6L478 984.7L479 985.7L480 985.1L481 985.1L482 983.8L483 983L484 981.8L485 980.9L486 980.4L487 979.7L488 979.7L489 979.5L490 979.7L491 979.5L492 979.4L493 978.3L494 979L495 978.4L496 978.4L497 977.1L498 978.4L499 978L500 978.8L501 979.1L502 979.9L503 980.1L504 980L505 979.4L506 979.9L507 978.7L508 978.6L509 979.2L510 979.7L511 980L512 978.7L513 977.6L514 975.8L515 974.3L516 974.5L517 973.9L518 973.3L519 972.1L520 972L521 971.4L522 971.1L523 970.2L524 969.5L525 968.4L526 968L527 968.7L528 968.8L529 967.8L530 965.6L531 964.9L532 965.6L533 965.9L534 964.9L535 963.5L536 962.9L537 962.5L538 960.3L539 958.7L540 957.2L541 956.2L542 954.6L543 953.6L544 951.8L545 951.2L546 951.4L547 951.1L548 950L549 948.3L550 948.2L551 948.8L552 949.2L553 948.6L554 949.1L555 950L556 952.7L557 953.8L558 954.6L559 955.1L560 956.9L561 958.7L562 960.1L563 959.4L564 960.3L565 961.4L566 963.8L567 965.5L568 966.2L569 966L570 965L571 965.7L572 966.4L573 966.3L574 965L575 964.1L576 963.8L577 965.1L578 965L579 965.1L580 964.7L581 965.9L582 965.8L583 967.1L584 967.1L585 968.7L586 968.8L587 968.7L588 968L589 967.9L590 968.1L591 967.4L592 968.6L593 968.6L594 968.7L595 967.1L596 967.7L597 967.3L598 968.5L599 969.1L600 969.9L601 970.8L602 970.9L603 971.4L604 971L605 971.7L606 973L607 973L608 973.7L609 974.1L610 975.9L611 975.8L612 976.5L613 976.1L614 976.2L615 975.1L616 975.8L617 976.7L618 978L619 978.2L620 979.1L621 978.4L622 978.5L623 979.1L624 980.1L625 981.6L626 980.7L627 981.1L628 981.2L629 982.3L630 983.2L631 983.4L632 983.8L633 985.5L634 986.2L635 986.5L636 986.6L637 986.2L638 984.9L639 985.5L640 987L641 988.7L642 988.4L643 987.4L644 985.9L645 985.4L646 984.9L647 985.7L648 984.4L649 984.9L650 984.6L651 985.7L652 985.7L653 985.1L654 984.1L655 982.9L656 981.2L657 981.5L658 980.7L659 980.2L660 978.5L661 977.8L662 978.3L663 979.5L664 980.2L665 980.3L666 980.7L667 980.9L668 980.2L668 991.9L667 992.6L666 992.6L665 991.9L664 991.9L663 990.9L662 990L661 989.6L660 990.4L659 991.4L658 991.7L657 992.3L656 991.6L655 993L654 993.3L653 995.5L652 996L651 996.4L650 995.2L649 995.9L648 996L647 997L646 995.6L645 996.2L644 996.3L643 997.6L642 998.5L641 999.4L640 998.8L639 998.1L638 997.5L637 997.7L636 997.3L635 996.7L634 997L633 995.8L632 994.4L631 993.9L630 994.3L629 994L628 993L627 992.7L626 992.1L625 992.5L624 990.6L623 989.9L622 989.7L621 990L620 989.8L619 988.6L618 988.6L617 988.3L616 987.7L615 986.9L614 987.1L613 986.1L612 986.2L611 985.4L610 985.2L609 983.8L608 983.7L607 983.6L606 984.3L605 983.4L604 982.8L603 982.1L602 981.4L601 981L600 980.7L599 980L598 979.2L597 978.4L596 978.4L595 977.8L594 978.8L593 979.4L592 979.9L591 978.8L590 979L589 979.2L588 979.3L587 980L586 980.4L585 981.1L584 979.3L583 979.1L582 977.6L581 977.6L580 976.3L579 976.5L578 976.6L577 977L576 976L575 976.1L574 976.2L573 977.5L572 978.1L571 977.8L570 976.9L569 977.2L568 976.6L567 975.7L566 973.9L565 971.7L564 970.6L563 969.7L562 970.2L561 968.6L560 967.5L559 966.1L558 965.6L557 964L556 962.9L555 960.3L554 960.5L553 960L552 961L551 960.3L550 959.5L549 959.1L548 961L547 962.4L546 962.5L545 962.9L544 963.6L543 965.9L542 965.4L541 966.7L540 967.2L539 969L538 971L537 973.2L536 973.8L535 973.4L534 974.1L533 974.9L532 976.2L531 976.8L530 977.6L529 978.5L528 979.3L527 978.9L526 978.4L525 979L524 980L523 981.2L522 981.9L521 982.6L520 983.5L519 983.5L518 984.9L517 984.7L516 985L515 985.1L514 987.3L513 989.8L512 990.3L511 990.6L510 989.7L509 989.7L508 989.6L507 990.5L506 990.8L505 991.3L504 991.1L503 991.3L502 991.1L501 990L500 990L499 988.3L498 989L497 987.9L496 988.5L495 989.4L494 990.3L493 990.3L492 990.9L491 989.9L490 990.3L489 990.3L488 991.2L487 991.4L486 991.8L485 992.1L484 992.2L483 993.2L482 994.6L481 995.7L480 995.5L479 995.5L478 995.4L477 996.6L476 997.2L475 998L474 997.7L473 997.9L472 998.2L471 998.8L470 998.6L469 998.2L468 998.9L467 998.8L466 999.4L465 998.6L464 998.6L463 997.5L462 997.4L461 997.2L460 997.7L459 996L458 995.7L457 994.7L456 995.3L455 994.8L454 994.1L453 993.1L452 992.9L451 992.3L450 992L449 992L448 992.7L447 992.8L446 991.5L445 990.7Z" fill="#cfe8b0" fill-opacity="0.6"/>
<path d="M445 971.2L446 971.2L447 972.2L448 972.3L449 973.5L450 972.9L451 973.7L452 973.3L453 973.5L454 974.2L455 975.5L456 977.8L457 977.7L458 979.3L459 980.1L460 982.1L461 982.6L462 983.7L463 983.7L464 985.2L465 986.4L466 987.7L467 987.2L468 986L469 985.9L470 984.9L471 983.4L472 982.1L473 981.2L474 982L475 980.7L476 979.8L477 977.6L478 977L479 975.9L480 974.8L481 972.1L482 971.2L483 970.7L484 969.8L485 969L486 969L487 967.2L488 966.9L489 965.3L490 966.3L491 965.6L492 966L493 966.2L494 967.1L495 968.5L496 970.3L497 971.6L498 972.8L499 974.5L500 976.2L501 976.4L502 976.4L503 976.5L504 977.3L505 977.2L506 978.8L507 978.9L508 979.4L509 977.5L510 978.5L511 978.4L512 978.6L513 977.5L514 975.3L515 975.5L516 974L517 973.5L518 972.5L519 971.7L520 971.6L521 971.1L522 971.1L523 970.4L524 970.9L525 971.2L526 970.6L527 971L528 970.5L529 969.8L530 968L531 967.6L532 968.9L533 969.4L534 969.1L535 965.6L536 963.6L537 961.3L538 960.6L539 959.2L540 956.7L541 956.1L542 954.3L543 953.2L544 950.6L545 949.9L546 947.3L547 944.2L548 940.8L549 940L550 939.2L551 938.7L552 936.6L553 936.1L554 936L555 936.6L556 937.8L557 938.6L558 939.3L559 939.9L560 940.7L561 943.1L562 945.9L563 947.3L564 948.4L565 949L566 949.2L567 950.1L568 951.8L569 953.2L570 955.2L571 954.9L572 955.2L573 956L574 956.7L575 958.1L576 958L577 957.6L578 956.7L579 956.1L580 956.4L581 957.4L582 957.8L583 957.8L584 957L585 956.3L586 957L587 956.8L588 957.4L589 957L590 957L591 958.3L592 959.2L593 959.8L594 959.8L595 960.2L596 960.6L597 962.2L598 963.9L599 966.1L600 966.6L601 965.4L602 964.9L603 965.7L604 966.6L605 966.9L606 966.2L607 966.1L608 965.8L609 966.5L610 966.3L611 966.8L612 967L613 967.2L614 968.2L615 967.9L616 967.9L617 969.2L618 971.4L619 974L620 974.5L621 973.1L622 972L623 972.3L624 972.8L625 973L626 973.3L627 975.2L628 976.6L629 977.7L630 977.7L631 978.1L632 978.9L633 979L634 980L635 980.9L636 981.1L637 982.4L638 982.2L639 982.7L640 983L641 983.1L642 983.3L643 983.6L644 983.5L645 983.5L646 983.1L647 983.2L648 982.3L649 981.2L650 981.9L651 983.3L652 982.8L653 980.8L654 980.6L655 980.9L656 981.4L657 981L658 980.4L659 978.9L660 978L661 978.2L662 977.3L663 977.1L664 976.8L665 977.7L666 977.4L667 977.1L668 976.6L668 988.5L667 989L666 989.6L665 989.4L664 988.5L663 988.6L662 989L661 989.1L660 989L659 989.3L658 991.4L657 991.6L656 992.1L655 991L654 990.3L653 990.8L652 992.5L651 993.4L650 992.6L649 993.3L648 994.5L647 994.9L646 994.5L645 994.3L644 995L643 994.5L642 995.1L641 994.4L640 994.8L639 994.1L638 993.9L637 994.1L636 992.6L635 992.7L634 992L633 991.2L632 990.3L631 989.2L630 988.3L629 987.4L628 987L627 985.7L626 985.6L625 984.4L624 984.4L623 982.8L622 982.8L621 983.6L620 984.8L619 984.1L618 981.8L617 980.1L616 979.3L615 979.3L614 979.2L613 976.8L612 976.8L611 977.3L610 977.8L609 977.4L608 977.1L607 977.4L606 977.6L605 977.4L604 977.4L603 976.9L602 976.6L601 976.5L600 977.7L599 976.6L598 975L597 973.4L596 972.2L595 971.4L594 971L593 971L592 970.3L591 969.4L590 968.3L589 968.6L588 968.5L587 967.9L586 967.9L585 967.7L584 967.7L583 969.1L582 969L581 969.7L580 968.6L579 968L578 967.6L577 968.1L576 968.6L575 969.1L574 967.8L573 967.8L572 966.9L571 966.7L570 965.9L569 963.7L568 962.1L567 961.4L566 960.8L565 960.1L564 958.9L563 957.4L562 956.8L561 954.2L560 952.3L559 950.9L558 950.1L557 949.4L556 948.8L555 948.4L554 947.6L553 947.6L552 947.1L551 949.4L550 949.9L549 949.9L548 950.8L547 953.5L546 957.6L545 959.9L544 961.4L543 964.2L542 964.9L541 966.7L540 967.2L539 969.9L538 971.6L537 972.4L536 974.6L535 976.2L534 978.5L533 979.3L532 979.4L531 979L530 979.4L529 980.4L528 981L527 980.8L526 980.5L525 981.4L524 981.3L523 981.2L522 981.3L521 982.3L520 982.9L519 982.8L518 983.4L517 983.5L516 984.8L515 985.4L514 986.4L513 988.8L512 990.3L511 990.1L510 989.8L509 989.4L508 990.4L507 990.6L506 990.6L505 989.5L504 989.2L503 988.2L502 988.4L501 987.5L500 986.9L499 984.6L498 983.7L497 983L496 981.5L495 980.3L494 979.5L493 978.3L492 978L491 977L490 978.1L489 976.7L488 977.8L487 978.6L486 981L485 981.4L484 981.5L483 981.9L482 982.8L481 983.7L480 986.1L479 987.5L478 989.2L477 990.1L476 992L475 992.9L474 993.8L473 992.1L472 992.5L471 994L470 995.9L469 996.8L468 997.5L467 998.8L466 998.6L465 996.9L464 995.9L463 995.2L462 994.7L461 993.6L460 992.8L459 991.7L458 991L457 988.9L456 988.8L455 986L454 985.4L453 984.6L452 984.8L451 985.4L450 984.1L449 985L448 983.7L447 983.8L446 982.5L445 982.4Z" fill="#f8e2a4" fill-opacity="0.65"/>
<path d="M445 950.9L446 951.3L447 953.2L448 954.1L449 952.3L450 951.6L451 952.4L452 953.7L453 954.4L454 952.8L455 952.6L456 951.4L457 950L458 949.2L459 950L460 950.7L461 950.7L462 949.7L463 949.6L464 950.1L465 949.7L466 948.7L467 945.1L468 945.3L469 945.3L470 945.7L471 946L472 945.2L473 946.5L474 946L475 944.4L476 944.8L477 945.9L478 946.4L479 945.1L480 944.2L481 943.5L482 943.7L483 942.1L484 941.9L485 942.6L486 942.6L487 942.9L488 944.4L489 944.8L490 944.3L491 942.7L492 940.6L493 939.3L494 936.9L495 935.5L496 935.4L497 936.1L498 934.2L499 932.8L500 931.1L501 931.1L502 929L503 926.9L504 924L505 922.5L506 923L507 922.1L508 923.5L509 922.8L510 921.5L511 919.5L512 919.3L513 919.5L514 919.5L515 917.8L516 918.7L517 919.9L518 921L519 920.5L520 918.1L521 917.6L522 917L523 915.8L524 913.5L525 911.5L526 909.7L527 909.4L528 909L529 907.9L530 905.5L531 903.2L532 903L533 903.2L534 903.1L535 901.3L536 900.3L537 899.5L538 897.6L539 896.3L540 892.9L541 891.9L542 889.9L543 888.9L544 886.6L545 885.2L546 882.4L547 881.3L548 879.4L549 877.5L550 877.1L551 876.6L552 876.1L553 873L554 871.2L555 870.6L556 872.2L557 875.9L558 877.8L559 877.6L560 878.7L561 882.1L562 885.9L563 889.1L564 890.8L565 892.1L566 893.5L567 894.7L568 896.8L569 898.1L570 899.5L571 901L572 903.2L573 907.6L574 912.7L575 913.2L576 911.9L577 909.9L578 912L579 915.7L580 917.6L581 917.5L582 917.3L583 919.3L584 920.9L585 924L586 923.2L587 925.7L588 926.2L589 927.6L590 929.7L591 929.8L592 931.3L593 932.1L594 933.9L595 936.3L596 936.6L597 936.9L598 937L599 937.5L600 938.7L601 937.8L602 938.5L603 938.5L604 939.4L605 938.5L606 938.4L607 937.8L608 938L609 939.6L610 942L611 943.8L612 943.3L613 944.6L614 946.8L615 947.8L616 947.9L617 947.2L618 948.6L619 947.8L620 949.5L621 949.1L622 950.6L623 949.6L624 950.4L625 950.2L626 949.8L627 949.4L628 950.9L629 952.2L630 953.3L631 953.2L632 952.1L633 951.7L634 951.9L635 954.4L636 953L637 953.1L638 952.4L639 952.6L640 952.6L641 952.8L642 954.3L643 954.6L644 956L645 955.4L646 955L647 954.6L648 954.3L649 955.2L650 956.1L651 956.9L652 957.1L653 958.3L654 959.4L655 960.8L656 960.3L657 959.5L658 958.2L659 957.9L660 957.2L661 957.9L662 959.1L663 961.6L664 961.5L665 960.7L666 960.2L667 960.6L668 961.6L668 980.3L667 979.2L666 980.4L665 981.2L664 982.6L663 981.1L662 978.3L661 977.3L660 976.7L659 976.6L658 975.5L657 976.7L656 979.2L655 980.2L654 979.1L653 976.5L652 975L651 974.6L650 974.9L649 974L648 973L647 972L646 973.4L645 973.7L644 974L643 971.7L642 972.4L641 971.7L640 971.2L639 971L638 971.6L637 972.9L636 973.2L635 974.3L634 972.4L633 971.7L632 971.8L631 972.2L630 972.5L629 971L628 970.3L627 968.8L626 968.6L625 968.9L624 969.3L623 969.4L622 969.7L621 967.3L620 967L619 965.9L618 967.1L617 965.9L616 966.6L615 966.4L614 965.2L613 963.2L612 962.1L611 962.6L610 961.4L609 960.3L608 959.6L607 958.3L606 957.5L605 956.5L604 956.9L603 955.4L602 955.2L601 954.2L600 954.9L599 953.8L598 954.3L597 955.4L596 955.4L595 954.7L594 952.5L593 949.6L592 948.7L591 947.3L590 947.4L589 946.3L588 944.8L587 944.1L586 940.6L585 940.1L584 938L583 937.4L582 936.3L581 935.6L580 935.5L579 933.9L578 930.9L577 929.5L576 929.7L575 930.9L574 929.3L573 926.5L572 923.4L571 921.6L570 920.3L569 919L568 916.6L567 913.9L566 912.3L565 911.1L564 910L563 907.5L562 904.6L561 900.6L560 896.7L559 895.4L558 895.2L557 893.9L556 891.2L555 890L554 891L553 891.6L552 894.4L551 895.3L550 896.6L549 896.4L548 898.4L547 901L546 903L545 903.7L544 903.7L543 906.4L542 908.4L541 911L540 911.1L539 914.1L538 914.8L537 917.4L536 919.2L535 921.1L534 922.4L533 922.4L532 922.1L531 922.4L530 924.1L529 925.1L528 925.9L527 927.3L526 928.5L525 930.7L524 932.7L523 934.1L522 935.8L521 937L520 937.9L519 939.6L518 939.3L517 939.4L516 938.1L515 937.8L514 937.2L513 937.4L512 936.4L511 938.1L510 939.1L509 940.5L508 941L507 941L506 942.1L505 942.2L504 943.5L503 945.4L502 946.8L501 948.1L500 948.3L499 950.1L498 952.2L497 954.1L496 953.8L495 955.4L494 957.1L493 959.1L492 958.9L491 961L490 962.5L489 964.1L488 963.1L487 961.7L486 960.8L485 961.4L484 960.9L483 961.9L482 962L481 962.1L480 961.4L479 963.1L478 964.4L477 963.9L476 963.9L475 963.8L474 964.8L473 965L472 964.6L471 966L470 965.4L469 963.6L468 964.2L467 963.4L466 967.6L465 968.8L464 969.6L463 968.1L462 967L461 967.3L460 967.5L459 968.3L458 969.6L457 970.1L456 970.4L455 970.5L454 972L453 973.7L452 973.1L451 972.7L450 971.7L449 971.8L448 971.7L447 971.1L446 970L445 970.3Z" fill="#9c96d6" fill-opacity="0.7"/>
<line x1="445" y1="837.9" x2="667.6" y2="837.9" stroke="#a9b5d2" stroke-width="1.5"/>
<line x1="445" y1="921.4" x2="667.6" y2="921.4" stroke="#a9b5d2" stroke-width="1.5"/>
<line x1="445" y1="1005.8" x2="667.6" y2="1005.8" stroke="#a9b5d2" stroke-width="1.5"/>
<line x1="445" y1="1089.4" x2="667.6" y2="1089.4" stroke="#a9b5d2" stroke-width="1.5"/>
<line x1="554" y1="815.3" x2="554" y2="1172.3" stroke="#a9b5d2" stroke-width="1.5"/>
<path d="M445 1054.5L446 1054.6L447 1055L448 1056.5L449 1057.6L450 1058.1L451 1058L452 1058.1L453 1058.5L454 1059.5L455 1060.1L456 1060.8L457 1059.9L458 1059.6L459 1060.3L460 1060.1L461 1059.7L462 1058L463 1058.3L464 1059.8L465 1060.3L466 1060.1L467 1059.1L468 1059L469 1058.3L470 1057.6L471 1058.2L472 1057.6L473 1057.3L474 1057.8L475 1058.3L476 1058.8L477 1059.1L478 1059.2L479 1059.4L480 1059.1L481 1059.5L482 1059.3L483 1059L484 1058.9L485 1059.3L486 1060.4L487 1060L488 1059.7L489 1060.5L490 1061.1L491 1061.8L492 1061.3L493 1061.7L494 1062L495 1062.7L496 1062.5L497 1062.9L498 1063.4L499 1064L500 1065.7L501 1066.6L502 1068.4L503 1069.1L504 1070.8L505 1071.9L506 1072L507 1073.5L508 1074.1L509 1075.6L510 1075.6L511 1076.1L512 1076.3L513 1077.9L514 1078L515 1079.3L516 1079.1L517 1079.4L518 1079.9L519 1080.2L520 1081.3L521 1082.2L522 1083.1L523 1083.2L524 1084L525 1084.3L526 1084.9L527 1084.9L528 1085L529 1085L530 1086L531 1086.8L532 1087.9L533 1089L534 1089.8L535 1089.3L536 1090.2L537 1090.9L538 1092.5L539 1093.2L540 1093.9L541 1094.6L542 1095.9L543 1096.5L544 1097.3L545 1099L546 1101L547 1102.2L548 1102.7L549 1103.6L550 1104.6L551 1105.2L552 1104.5L553 1104.2L554 1104.5L555 1104.3L556 1104L557 1103.5L558 1103.4L559 1103L560 1102.1L561 1101L562 1099.8L563 1099.4L564 1098.7L565 1097.6L566 1096.2L567 1095.8L568 1094L569 1092.8L570 1091.8L571 1091.1L572 1090.5L573 1089.5L574 1088.9L575 1088.4L576 1087.2L577 1087.4L578 1087.1L579 1087.7L580 1086.3L581 1086L582 1084.8L583 1084.4L584 1083.2L585 1083.2L586 1082.3L587 1082.3L588 1080.4L589 1080.3L590 1079.2L591 1079.8L592 1078.5L593 1078.7L594 1077.2L595 1077.4L596 1076.6L597 1075.6L598 1074.1L599 1073.9L600 1073.8L601 1073.1L602 1072.3L603 1072.1L604 1071.9L605 1071.2L606 1069.5L607 1069.1L608 1068.7L609 1068.2L610 1067L611 1065.2L612 1065.6L613 1065L614 1065.9L615 1066.3L616 1066.1L617 1066.4L618 1065.7L619 1065.7L620 1065.8L621 1066L622 1066L623 1065.6L624 1065.1L625 1064.8L626 1064.3L627 1064.6L628 1063.6L629 1062.3L630 1061.6L631 1061L632 1060.8L633 1059.7L634 1058.7L635 1057.7L636 1057.3L637 1056.9L638 1056.3L639 1055.6L640 1055.1L641 1054.5L642 1053.3L643 1052.2L644 1051.1L645 1051.1L646 1049.9L647 1048.8L648 1047.7L649 1046.6L650 1046.2L651 1045.3L652 1044.6L653 1043.6L654 1044.8L655 1045.6L656 1047.7L657 1047.3L658 1048.8L659 1049.9L660 1051.2L661 1051.3L662 1050.3L663 1049L664 1048.8L665 1049.2L666 1049.9L667 1050.3L668 1050.5" fill="none" stroke="#bf2a3a" stroke-width="2.1" stroke-linejoin="round" stroke-dasharray="6.5 4"/>
<path d="M445 1032.7L446 1033L447 1033.1L448 1033.1L449 1031.6L450 1032.3L451 1033L452 1034.7L453 1033.8L454 1033.5L455 1034.7L456 1036.2L457 1035.1L458 1033.4L459 1033.1L460 1033.9L461 1035.2L462 1035.5L463 1034.8L464 1034.4L465 1034.9L466 1036.8L467 1037L468 1036.6L469 1036.1L470 1036.6L471 1036.7L472 1037.3L473 1037.4L474 1038.5L475 1038.7L476 1039.6L477 1040.1L478 1040.8L479 1040.9L480 1040.7L481 1041.1L482 1041.6L483 1041.5L484 1041.7L485 1041.7L486 1042L487 1040.6L488 1041.2L489 1042.4L490 1044.3L491 1044.4L492 1043.6L493 1042.9L494 1042.9L495 1042.7L496 1042.7L497 1042.5L498 1042.2L499 1042.1L500 1042L501 1042.3L502 1042.2L503 1042.2L504 1041.9L505 1040.9L506 1040.4L507 1040.7L508 1041.7L509 1043.3L510 1043.4L511 1044.4L512 1044.5L513 1045.4L514 1046L515 1047L516 1048L517 1049.1L518 1050.1L519 1051.5L520 1052.6L521 1053.4L522 1053.8L523 1055.2L524 1056.3L525 1057.7L526 1060.4L527 1061.9L528 1062.8L529 1063.2L530 1064.1L531 1065.8L532 1067L533 1067.2L534 1069.1L535 1068.9L536 1070.3L537 1069.5L538 1069.8L539 1070.1L540 1072.2L541 1074.3L542 1076.4L543 1076L544 1077.5L545 1079.2L546 1081.6L547 1083.1L548 1085.6L549 1086.6L550 1086.9L551 1086.4L552 1085.8L553 1085.3L554 1087L555 1086.9L556 1087.4L557 1085.8L558 1085L559 1084.5L560 1083.4L561 1081.8L562 1080.2L563 1078.7L564 1077.1L565 1075.8L566 1073.9L567 1072.9L568 1071.4L569 1071L570 1070L571 1068.9L572 1067.7L573 1066.2L574 1065.8L575 1064.5L576 1063.3L577 1062.8L578 1061.8L579 1061.1L580 1060L581 1059.9L582 1060L583 1060.7L584 1059.9L585 1059.5L586 1058.3L587 1058.3L588 1057.2L589 1056.1L590 1054.7L591 1053.8L592 1054L593 1054.5L594 1053.5L595 1052.5L596 1051.2L597 1052.1L598 1050.8L599 1049.9L600 1048.2L601 1048.5L602 1047.8L603 1048.1L604 1046.3L605 1046.5L606 1045.4L607 1045.2L608 1044.4L609 1045L610 1044.1L611 1043.4L612 1041.3L613 1040.7L614 1040.7L615 1040.7L616 1039.9L617 1038.5L618 1038.9L619 1037.6L620 1037.9L621 1037.2L622 1037.7L623 1036.1L624 1036.1L625 1034.3L626 1033.9L627 1031.9L628 1030.8L629 1029.5L630 1028.8L631 1028.6L632 1028.2L633 1027.3L634 1026.7L635 1026.1L636 1025.7L637 1025.5L638 1025.5L639 1025.4L640 1025.9L641 1025.9L642 1025.3L643 1025L644 1023.6L645 1023.7L646 1022.8L647 1024L648 1023.6L649 1023.4L650 1022L651 1022.6L652 1022.6L653 1022.8L654 1023.5L655 1023.2L656 1023.2L657 1022.3L658 1021.2L659 1021L660 1021.3L661 1020.7L662 1021.8L663 1020.8L664 1021.1L665 1021.4L666 1021.6L667 1021.5L668 1020.6" fill="none" stroke="#c3dc62" stroke-width="1.6" stroke-linejoin="round" stroke-dasharray="6 4"/>
<path d="M445 1024.1L446 1024.1L447 1024.6L448 1025.2L449 1025.2L450 1025.6L451 1026L452 1026.8L453 1026.6L454 1027.1L455 1027.1L456 1027.9L457 1028.3L458 1028.8L459 1029.2L460 1028.4L461 1028.2L462 1027.7L463 1028.1L464 1027.6L465 1027.6L466 1026.3L467 1025.7L468 1025L469 1024.9L470 1025.9L471 1026.1L472 1026.4L473 1026.9L474 1027.9L475 1028.5L476 1029.2L477 1028.8L478 1028.8L479 1028.8L480 1030L481 1030.9L482 1031.2L483 1031.2L484 1031L485 1032L486 1032.1L487 1032.8L488 1033.4L489 1034.7L490 1034.4L491 1034L492 1033.2L493 1033.3L494 1033.9L495 1033.9L496 1033.5L497 1032.5L498 1032.4L499 1033L500 1033.1L501 1032.5L502 1032.5L503 1032.8L504 1033.8L505 1034L506 1034.5L507 1034.7L508 1034.8L509 1034.9L510 1035.3L511 1036.2L512 1036.7L513 1036.9L514 1037.2L515 1037.5L516 1037.1L517 1038.1L518 1038.4L519 1039.3L520 1038.6L521 1039.2L522 1039.7L523 1040.5L524 1040.8L525 1040.3L526 1041L527 1041L528 1043.5L529 1043.1L530 1044.1L531 1043.6L532 1045.3L533 1046.7L534 1047.5L535 1047.7L536 1049L537 1049L538 1049.7L539 1050.4L540 1050.8L541 1051L542 1051.4L543 1052.6L544 1053.1L545 1053.4L546 1054.7L547 1055.8L548 1056.9L549 1056.9L550 1057L551 1057.7L552 1058.4L553 1059L554 1058.6L555 1058.4L556 1058.4L557 1058.7L558 1058.7L559 1058.1L560 1058.2L561 1057.8L562 1057.6L563 1056.4L564 1056.1L565 1054.9L566 1053.8L567 1053.2L568 1052.3L569 1051.4L570 1051L571 1049.7L572 1049.6L573 1048.5L574 1047.7L575 1046.5L576 1045.3L577 1045.4L578 1045L579 1044.4L580 1043L581 1041.7L582 1041.2L583 1040.8L584 1040.9L585 1040.3L586 1040.2L587 1040L588 1039.7L589 1039.4L590 1038.4L591 1037.9L592 1037.6L593 1037.7L594 1037.5L595 1036.6L596 1035.3L597 1034.8L598 1034.9L599 1034.6L600 1034.4L601 1033.8L602 1033.8L603 1033.4L604 1033.2L605 1032.9L606 1033L607 1033.2L608 1033.8L609 1033.7L610 1033.1L611 1032.3L612 1031.9L613 1031.6L614 1031.4L615 1030.4L616 1030L617 1030.2L618 1030.7L619 1030.8L620 1029.9L621 1029.5L622 1029.6L623 1029.4L624 1028.8L625 1027.7L626 1027.1L627 1026.4L628 1025.9L629 1025.6L630 1024.8L631 1024.3L632 1023.6L633 1023.4L634 1023.4L635 1023.2L636 1022.5L637 1022L638 1021.1L639 1020.8L640 1020.2L641 1020.6L642 1020.9L643 1020.7L644 1020.4L645 1020.1L646 1019.6L647 1019.2L648 1018.6L649 1018.5L650 1018.3L651 1018.3L652 1017.4L653 1017L654 1016.9L655 1017.2L656 1017.2L657 1016.7L658 1016L659 1016.4L660 1016.8L661 1017.3L662 1016.8L663 1017L664 1017.2L665 1017.1L666 1016.5L667 1016.1L668 1016" fill="none" stroke="#b4b4da" stroke-width="1.3" stroke-linejoin="round"/>
<path d="M445 1019L446 1018.1L447 1016L448 1015.2L449 1013.1L450 1012.4L451 1012.3L452 1013.3L453 1015.4L454 1017.4L455 1017.4L456 1019.1L457 1018.6L458 1020.4L459 1020.7L460 1021.3L461 1021L462 1021L463 1020L464 1019.9L465 1018.2L466 1017.4L467 1015.3L468 1013.7L469 1013.7L470 1013.3L471 1011.8L472 1010.1L473 1008.6L474 1008.7L475 1011.3L476 1012.4L477 1015.3L478 1015.4L479 1016.6L480 1016.8L481 1018.3L482 1017.5L483 1018.4L484 1018.6L485 1020.2L486 1020.5L487 1019.2L488 1018L489 1017.8L490 1018.6L491 1017.5L492 1015.8L493 1015.7L494 1016L495 1017.7L496 1018.6L497 1018.9L498 1018.9L499 1018.9L500 1021.2L501 1021.9L502 1022.6L503 1021L504 1020.6L505 1019.6L506 1019.6L507 1020.3L508 1020L509 1020.7L510 1019.6L511 1021.7L512 1021.7L513 1022.2L514 1021.2L515 1021.1L516 1020.6L517 1021.3L518 1022L519 1023.1L520 1025.3L521 1025.5L522 1026.9L523 1026.5L524 1026.8L525 1025.9L526 1025.7L527 1025.9L528 1026.4L529 1025.6L530 1025L531 1024.5L532 1025L533 1026L534 1029L535 1028.2L536 1027.9L537 1027.4L538 1028.4L539 1029.4L540 1029.3L541 1028.9L542 1029.5L543 1029.6L544 1029.4L545 1029.6L546 1027.5L547 1029.8L548 1030.3L549 1031.1L550 1030.9L551 1029.8L552 1030.4L553 1030.5L554 1030.6L555 1029.5L556 1029.3L557 1028.2L558 1027.4L559 1026.6L560 1025L561 1025.5L562 1026.6L563 1026.2L564 1025.8L565 1024.7L566 1023.4L567 1022L568 1021.5L569 1023.7L570 1024.8L571 1024.5L572 1023.2L573 1022.8L574 1021.1L575 1020.8L576 1020.2L577 1019.2L578 1019.3L579 1019.9L580 1022.3L581 1023.5L582 1022.9L583 1022.4L584 1022.1L585 1023.9L586 1024.1L587 1024L588 1022.7L589 1023.7L590 1025.4L591 1026.4L592 1025.9L593 1026L594 1027.5L595 1026.9L596 1025.9L597 1024.3L598 1024.5L599 1024.7L600 1024.2L601 1023L602 1022.1L603 1022.1L604 1021.6L605 1020.1L606 1017.9L607 1017.1L608 1015.8L609 1015.7L610 1014.9L611 1014L612 1014.2L613 1014.3L614 1015.6L615 1016.2L616 1016.3L617 1017L618 1017.4L619 1015.6L620 1012.9L621 1011.6L622 1011L623 1010.4L624 1009.7L625 1008.5L626 1009.5L627 1010.4L628 1011.7L629 1010.8L630 1009.2L631 1006.7L632 1005.8L633 1005.4L634 1005.8L635 1006.3L636 1006.8L637 1006.1L638 1006.5L639 1005.6L640 1006.3L641 1005.9L642 1006.3L643 1005.3L644 1003.9L645 1003.3L646 1002.7L647 1002.7L648 1002.9L649 1001.4L650 1000.3L651 999.8L652 999.6L653 999.5L654 1000.5L655 1001L656 1002.1L657 1002.1L658 1001.1L659 1002.2L660 1001.5L661 1003L662 1001.8L663 1002.7L664 1003.1L665 1002.5L666 1002.3L667 1002L668 1001.8" fill="none" stroke="#f09a98" stroke-width="1.2" stroke-linejoin="round" stroke-dasharray="5 4"/>
<path d="M445 1029.9L446 1030.3L447 1031.4L448 1033.4L449 1033.1L450 1032.8L451 1032.4L452 1033.2L453 1034.4L454 1035.5L455 1036.5L456 1037.1L457 1039.5L458 1039.8L459 1040.5L460 1038.6L461 1038.9L462 1038.3L463 1038.7L464 1037.7L465 1037.9L466 1037.3L467 1037.2L468 1037.1L469 1038L470 1039.5L471 1040.9L472 1043L473 1044.9L474 1044.9L475 1044.4L476 1044.2L477 1044.4L478 1046.1L479 1047.1L480 1047.2L481 1047.3L482 1047.8L483 1048.7L484 1047.6L485 1046.5L486 1046.1L487 1045.2L488 1045.3L489 1044.8L490 1044.8L491 1044.9L492 1046.2L493 1046.8L494 1049.4L495 1049.4L496 1050.7L497 1052.2L498 1054.9L499 1056.4L500 1057.5L501 1058.3L502 1058.4L503 1058.4L504 1057.5L505 1057.4L506 1057.8L507 1059.3L508 1059.6L509 1059.9L510 1060.1L511 1060.1L512 1060.2L513 1060.5L514 1061.4L515 1062L516 1061.8L517 1062.2L518 1062.4L519 1064.3L520 1065.7L521 1066.2L522 1065.3L523 1065.1L524 1065L525 1066.7L526 1067.7L527 1069L528 1069L529 1070.1L530 1070.8L531 1071.1L532 1070.2L533 1070.2L534 1069.7L535 1070.7L536 1072.6L537 1075.1L538 1076.2L539 1076.7L540 1076.8L541 1078.3L542 1079.4L543 1079.5L544 1080.6L545 1080.8L546 1082.4L547 1083.2L548 1084.7L549 1084.6L550 1085.2L551 1086.1L552 1087.6L553 1087.9L554 1087.4L555 1088.6L556 1089.4L557 1091.4L558 1091.7L559 1090.3L560 1089.9L561 1090.3L562 1089L563 1087.8L564 1085.4L565 1084.6L566 1084.8L567 1084.8L568 1083L569 1081.5L570 1080L571 1080.1L572 1078.4L573 1078.1L574 1077.8L575 1077.5L576 1076.6L577 1074.5L578 1073.3L579 1072.4L580 1071L581 1069.2L582 1069.1L583 1067.8L584 1067.2L585 1065.3L586 1063.4L587 1062.1L588 1062.4L589 1062.1L590 1061.5L591 1060.7L592 1060.8L593 1060.5L594 1060.3L595 1058.4L596 1057.3L597 1058.6L598 1058.5L599 1058.5L600 1056.2L601 1055.1L602 1055.3L603 1055.1L604 1055.1L605 1054.5L606 1053.7L607 1054.4L608 1053.2L609 1052.8L610 1052.6L611 1052.6L612 1051.2L613 1050.3L614 1050.3L615 1049.6L616 1048.6L617 1047.5L618 1046.9L619 1046.7L620 1044.3L621 1043.3L622 1042.3L623 1041.4L624 1039.4L625 1038.3L626 1036.2L627 1037L628 1035.2L629 1035L630 1033.6L631 1032.6L632 1032.5L633 1032.1L634 1033.4L635 1033.2L636 1033L637 1033L638 1033.5L639 1032.9L640 1031.1L641 1031L642 1031.1L643 1032.3L644 1030.8L645 1029.2L646 1028.2L647 1029.6L648 1030.5L649 1032.1L650 1030.9L651 1032.6L652 1032.7L653 1033.2L654 1032.7L655 1033.6L656 1036.2L657 1035.6L658 1034.7L659 1033.9L660 1034.7L661 1034.9L662 1034L663 1034.6L664 1034.1L665 1034.2L666 1034L667 1034.7L668 1035" fill="none" stroke="#2ba2da" stroke-width="1.9" stroke-linejoin="round"/>
<path d="M445 1001.8L446 1001.4L447 1001.5L448 1001L449 1002L450 1000.8L451 1000.9L452 1001.2L453 1001.3L454 1001.4L455 999.9L456 998.8L457 998.9L458 999.2L459 998.3L460 997.6L461 997.3L462 997.6L463 999L464 998.8L465 999.7L466 998.2L467 997.6L468 997.7L469 998.3L470 998.6L471 1000L472 1000L473 1000.5L474 999.2L475 999.7L476 1000.1L477 1001.2L478 999.6L479 1000.1L480 1000.1L481 1000.4L482 1000.5L483 999.7L484 1001.2L485 999.4L486 999.5L487 999.1L488 1000.1L489 1000L490 998.6L491 999.1L492 998.1L493 998.9L494 997.8L495 999.4L496 1000.1L497 999.1L498 997.7L499 996.2L500 995.1L501 996.3L502 996L503 997.4L504 996.7L505 997L506 997.3L507 998.6L508 998.3L509 999.8L510 999.8L511 999.1L512 999.7L513 999.9L514 1000.8L515 1001.3L516 1001.5L517 1000.9L518 998.9L519 998.7L520 999.2L521 1000.1L522 1000.6L523 1000.2L524 999.9L525 999.7L526 1000L527 1000L528 1000.1L529 1000.9L530 1000.8L531 1000.3L532 1000.3L533 1000.9L534 1000.7L535 1002L536 1001.8L537 1001.7L538 1001.3L539 1000.8L540 1001.2L541 1001.6L542 1002L543 1002.7L544 1003.3L545 1004.4L546 1004.9L547 1005L548 1005.1L549 1006.2L550 1006.3L551 1009L552 1010.6L553 1011.7L554 1011L555 1011.4L556 1011.5L557 1011.8L558 1013.4L559 1013.4L560 1014L561 1014L562 1014.9L563 1014.5L564 1014.4L565 1012.3L566 1013.2L567 1012L568 1011.3L569 1010.4L570 1008.7L571 1006.8L572 1007L573 1005.9L574 1005.8L575 1003.4L576 1001.5L577 1000L578 999.5L579 1000.5L580 1001.5L581 1001.5L582 1000.8L583 998.6L584 998.3L585 998.5L586 997.9L587 998.7L588 998.7L589 1000.8L590 999.5L591 998.3L592 997.5L593 997.2L594 996.3L595 996.1L596 997.4L597 998.2L598 999.8L599 999.6L600 998.4L601 998.2L602 998.9L603 999.9L604 999.8L605 999.2L606 998.8L607 997.5L608 997.8L609 997.5L610 997.7L611 998L612 996.9L613 996.7L614 996.2L615 996.5L616 995.9L617 997.2L618 997.5L619 997L620 994.4L621 995.5L622 993.9L623 994.3L624 993.6L625 995.3L626 995.8L627 995.1L628 995.2L629 995L630 995.7L631 995.7L632 995.8L633 996.9L634 997.2L635 997L636 996.2L637 996.7L638 996.5L639 995.4L640 994.7L641 995.2L642 995.9L643 996.2L644 996.9L645 998L646 998L647 995.6L648 995.7L649 995.2L650 996.3L651 996.1L652 997.4L653 996L654 996.3L655 994.3L656 994.8L657 995.1L658 996.3L659 994.9L660 994.9L661 994.6L662 996.3L663 995.9L664 995.3L665 995.6L666 997.2L667 998.3L668 999.6" fill="none" stroke="#74c8c0" stroke-width="1.6" stroke-linejoin="round"/>
<path d="M445 997.6L446 995.7L447 994.6L448 993.1L449 993.3L450 994.6L451 996.6L452 996.9L453 994.5L454 995.1L455 996.3L456 998.1L457 997.9L458 998.2L459 998.3L460 998.1L461 996.7L462 994.9L463 994.9L464 996L465 997.1L466 997.2L467 997.4L468 996.3L469 997.1L470 997.6L471 997.7L472 996L473 995L474 994.5L475 994.5L476 993.9L477 993.8L478 993.5L479 994.8L480 997.2L481 997.9L482 997.6L483 997L484 996.6L485 995.3L486 994.4L487 992.5L488 992.5L489 992.8L490 995.2L491 996.4L492 997.2L493 996.3L494 997.7L495 999.9L496 1000.3L497 999.6L498 997.2L499 996.8L500 996.3L501 996L502 997L503 995.3L504 995.4L505 994.5L506 996.2L507 997.1L508 995.6L509 995.1L510 993.9L511 995.2L512 995.7L513 995.4L514 997.3L515 998.2L516 999.1L517 1000.6L518 1003.2L519 1004.9L520 1003.1L521 1000.4L522 997.8L523 996.3L524 995.7L525 995.7L526 995.7L527 994.6L528 993.1L529 992.3L530 993.5L531 992.3L532 993.1L533 991L534 991.9L535 990.2L536 992.5L537 993.8L538 997.3L539 996.6L540 996.5L541 995.4L542 996.6L543 995.8L544 992.9L545 992.4L546 992.1L547 992.7L548 989.8L549 988.9L550 987.6L551 987.7L552 988.2L553 990.9L554 991.5L555 992.1L556 991.3L557 990.8L558 990.5L559 988.6L560 989.3L561 989.5L562 990.5L563 992L564 993.7L565 993.3L566 991.7L567 991.7L568 992.6L569 993.2L570 993.3L571 993.4L572 995.1L573 994.4L574 996.9L575 995.1L576 995.2L577 994L578 993.8L579 994.3L580 993.8L581 992.5L582 992.8L583 993L584 995L585 997.2L586 998.6L587 998.3L588 996.5L589 995.8L590 996.3L591 995.6L592 995.5L593 994.3L594 995.2L595 993.8L596 994.6L597 994.3L598 994.2L599 993.4L600 993L601 993.9L602 994.7L603 995.2L604 995.1L605 995.5L606 994.2L607 994.3L608 992.6L609 995.1L610 993.9L611 994L612 992.1L613 992.5L614 993L615 994.6L616 994L617 993.4L618 995.3L619 997.3L620 998L621 996.2L622 994.2L623 994.8L624 995L625 996.2L626 996.2L627 995.8L628 996.2L629 996.1L630 997.3L631 997.6L632 997.1L633 995.6L634 994.5L635 995.4L636 997.3L637 998.6L638 998L639 996L640 995.3L641 994.4L642 995.6L643 994.5L644 995.2L645 994.5L646 994.6L647 996L648 995.9L649 995.8L650 994.9L651 994.7L652 994.8L653 993.5L654 994.6L655 993.7L656 993.1L657 994.1L658 993.7L659 993.7L660 993L661 992.6L662 994.7L663 993.8L664 993.3L665 992.3L666 993.4L667 993.2L668 993.5" fill="none" stroke="#4ab2aa" stroke-width="2.3" stroke-linejoin="round" stroke-dasharray="7 4"/>
<path d="M445 1009.7L446 1010L447 1009.9L448 1010.3L449 1009L450 1009.4L451 1008.7L452 1008.7L453 1007.9L454 1007.8L455 1006.5L456 1005.5L457 1006.3L458 1008.1L459 1008.8L460 1008.5L461 1008.8L462 1008.8L463 1009.2L464 1007.5L465 1008.4L466 1006.4L467 1006.4L468 1005.7L469 1008L470 1008.2L471 1010.5L472 1009.6L473 1010.9L474 1010.6L475 1011.8L476 1012.2L477 1012.9L478 1014.2L479 1015.3L480 1016.6L481 1016.2L482 1017.3L483 1016.3L484 1015.8L485 1014.4L486 1014.6L487 1014L488 1014.7L489 1014.4L490 1014.8L491 1014.9L492 1015.2L493 1014.3L494 1016.2L495 1016L496 1017.3L497 1017L498 1017.4L499 1017.3L500 1017.7L501 1018.3L502 1019.9L503 1021.4L504 1020.4L505 1019.9L506 1019.8L507 1020.8L508 1021.7L509 1021L510 1019.2L511 1020.7L512 1021L513 1023.1L514 1023.5L515 1027L516 1027.5L517 1027.6L518 1026.2L519 1026.3L520 1026.5L521 1026.1L522 1024.5L523 1020.9L524 1019.7L525 1019L526 1020.7L527 1020L528 1022L529 1022.5L530 1024.5L531 1026.9L532 1028.3L533 1028.3L534 1026.1L535 1022.7L536 1020L537 1017.1L538 1017.6L539 1018.3L540 1019.8L541 1020.6L542 1022L543 1022.8L544 1022.3L545 1024.7L546 1026.3L547 1028.9L548 1030.6L549 1030.2L550 1031.9L551 1031.6L552 1032.6L553 1033.2L554 1035.1L555 1034.6L556 1033.1L557 1030.9L558 1031.6L559 1031.1L560 1031L561 1029.9L562 1028.7L563 1026L564 1023.4L565 1021.9L566 1023.8L567 1022L568 1021.6L569 1019.4L570 1019.1L571 1018L572 1017.6L573 1017.3L574 1016.2L575 1015.8L576 1015.8L577 1016.6L578 1018.1L579 1018.9L580 1020.3L581 1019.7L582 1020.4L583 1018.6L584 1016.8L585 1014.7L586 1014.2L587 1013.4L588 1012.6L589 1012.4L590 1011.5L591 1011.2L592 1011.6L593 1011.3L594 1011.3L595 1012.2L596 1012.5L597 1013.1L598 1013.3L599 1014.3L600 1015.2L601 1015.2L602 1014L603 1012.6L604 1011.6L605 1011.4L606 1012.5L607 1013.5L608 1014.4L609 1013.9L610 1012.1L611 1012.7L612 1013.6L613 1015.3L614 1014.8L615 1014.1L616 1014.9L617 1014.1L618 1014.2L619 1012.8L620 1013.2L621 1012.9L622 1013.2L623 1013.3L624 1014.4L625 1015L626 1015.4L627 1015.7L628 1015.9L629 1017.9L630 1018.3L631 1019.3L632 1017L633 1015.7L634 1014.9L635 1014.3L636 1014.3L637 1014.1L638 1015.3L639 1015.4L640 1014.6L641 1013.3L642 1012.4L643 1013.5L644 1012.8L645 1012L646 1009.4L647 1009.2L648 1009.2L649 1010.1L650 1010.6L651 1009.3L652 1008.6L653 1007.7L654 1007.6L655 1009.2L656 1011.1L657 1011.9L658 1011.2L659 1010L660 1010.3L661 1010.4L662 1009.5L663 1010.3L664 1010.1L665 1010.8L666 1009.1L667 1008.4L668 1007.9" fill="none" stroke="#3cab7a" stroke-width="2.8" stroke-linejoin="round"/>
<path d="M445 985.6L446 986.4L447 987.6L448 987.6L449 987.3L450 986.9L451 986.9L452 987.4L453 988L454 989.2L455 989.4L456 989.7L457 989.2L458 990.2L459 990.5L460 992.1L461 991.4L462 992L463 992.2L464 993.5L465 993.4L466 993.8L467 993.2L468 993.5L469 993.3L470 993.4L471 993.5L472 992.9L473 992.7L474 992.5L475 992.3L476 991.5L477 990.8L478 990L479 990.3L480 990.1L481 990.2L482 989.1L483 987.9L484 986.7L485 986.2L486 986.2L487 985.8L488 985.7L489 985.1L490 985.1L491 985.1L492 985.1L493 984.3L494 984.2L495 983.9L496 983.4L497 982.7L498 983.8L499 983.4L500 984.5L501 984.2L502 985.1L503 985.4L504 985.4L505 984.7L506 984.8L507 983.9L508 984.2L509 984.3L510 984.8L511 985L512 984.6L513 983.8L514 982.4L515 980.6L516 980.6L517 979.7L518 979.2L519 977.8L520 977.5L521 976.9L522 976.5L523 975.7L524 974.9L525 974L526 973.6L527 973.9L528 974.1L529 973.5L530 972.2L531 971.6L532 971.3L533 970.4L534 969.6L535 968.5L536 968.7L537 967.2L538 965.2L539 963.7L540 962.4L541 961.5L542 959.7L543 959.4L544 957.6L545 957L546 956.7L547 956.5L548 955.3L549 953.8L550 953.9L551 954.5L552 955.3L553 954.3L554 954.8L555 954.8L556 957.3L557 958.2L558 959.2L559 960.1L560 962L561 963.8L562 965.4L563 965.1L564 965.8L565 966.1L566 967.9L567 969.6L568 971.3L569 971.9L570 971.6L571 972.2L572 972.5L573 972.1L574 970.7L575 970.1L576 969.9L577 971.3L578 971.3L579 970.9L580 970.3L581 971.6L582 971.9L583 973.2L584 973L585 974.3L586 974.6L587 974.2L588 973.4L589 973.1L590 973.5L591 972.8L592 973.8L593 973.3L594 973.5L595 972.5L596 973.1L597 973.2L598 974.3L599 974.7L600 975L601 975L602 975.7L603 976.3L604 977.1L605 977.8L606 978.9L607 978.2L608 978.2L609 978.6L610 980.3L611 980.6L612 981.4L613 980.9L614 981.6L615 981.1L616 982L617 982.8L618 983.5L619 983.4L620 984.3L621 984L622 984.3L623 984.6L624 985.5L625 986.9L626 986.4L627 986.6L628 986.6L629 987.6L630 988.1L631 988.4L632 988.8L633 990.2L634 990.8L635 991L636 991.4L637 991.7L638 991.2L639 992L640 993L641 993.7L642 993.1L643 992.2L644 991.2L645 990.9L646 990.1L647 990.9L648 989.8L649 990.2L650 990L651 990.9L652 990.6L653 989.9L654 988.5L655 987.8L656 986.9L657 987.3L658 986.8L659 986L660 984.8L661 984.3L662 984.5L663 985.8L664 986.5L665 987L666 987.2L667 987.4L668 986.8" fill="none" stroke="#98d68c" stroke-width="1.8" stroke-linejoin="round" stroke-dasharray="7 4"/>
<path d="M445 976.9L446 977.1L447 978.1L448 978.1L449 979.1L450 978.2L451 979.2L452 978.6L453 979.1L454 979.7L455 980.7L456 982.8L457 982.9L458 984.8L459 985.7L460 986.9L461 987.6L462 988.9L463 989.4L464 990.5L465 992L466 993.5L467 993.7L468 992.2L469 991.8L470 990.6L471 988.6L472 987.2L473 986.2L474 987.7L475 986.7L476 985.7L477 983.8L478 982.9L479 981.5L480 980.4L481 978.3L482 977.9L483 977L484 975.8L485 975.2L486 975.3L487 973.7L488 973.3L489 971.5L490 972.5L491 971.5L492 972.4L493 972.5L494 973.9L495 975L496 976.1L497 977L498 977.8L499 979.2L500 981.2L501 981.8L502 982.4L503 982.8L504 983.1L505 983.1L506 984.1L507 984.5L508 984.9L509 983.6L510 984L511 984.2L512 984.1L513 983L514 980.6L515 980.4L516 979.3L517 978.3L518 977.5L519 977L520 977.4L521 977.2L522 976.8L523 976.1L524 976.2L525 976.3L526 975.6L527 975.9L528 975.3L529 975L530 973.7L531 973.5L532 973.8L533 973.9L534 973.3L535 970.9L536 969.1L537 966.4L538 965.4L539 964.2L540 962L541 961.7L542 959.5L543 958.7L544 956.1L545 955L546 952.9L547 949.4L548 946.4L549 945L550 944.6L551 943.8L552 941.7L553 942.1L554 942.3L555 943L556 943.2L557 944L558 944.7L559 945.6L560 946.7L561 948.9L562 951.4L563 952.3L564 953.4L565 954.3L566 955.2L567 956L568 957.4L569 958.7L570 960.6L571 960.6L572 960.9L573 961.8L574 962.2L575 963.3L576 963.2L577 963.1L578 962.6L579 962.6L580 963.1L581 964.1L582 963.7L583 963.4L584 962.1L585 961.9L586 962.3L587 962.3L588 962.7L589 962.7L590 962.7L591 963.7L592 964.4L593 965.3L594 965.8L595 966.3L596 966.6L597 968L598 969.8L599 971.5L600 971.8L601 970.6L602 970.7L603 971.6L604 971.8L605 972L606 971.9L607 972.4L608 972L609 972.2L610 971.8L611 971.9L612 971.7L613 971.6L614 973.5L615 973.6L616 973.9L617 974.8L618 976.5L619 978.7L620 979.2L621 978.2L622 977.6L623 977.7L624 978.8L625 978.5L626 979.3L627 980.2L628 981.6L629 982.5L630 983.1L631 984L632 985.1L633 985.3L634 986.3L635 986.7L636 986.8L637 987.7L638 987.8L639 988.1L640 988.5L641 988.5L642 989L643 989.2L644 989.4L645 988.9L646 988.7L647 988.6L648 987.8L649 986.7L650 986.8L651 988.1L652 987.9L653 986.2L654 985.7L655 985.7L656 986.3L657 985.8L658 985.8L659 984.3L660 983.9L661 983.8L662 983.2L663 982.9L664 982.7L665 983.7L666 983.6L667 983L668 982.4" fill="none" stroke="#f5a21e" stroke-width="2.3" stroke-linejoin="round"/>
<path d="M445 966.9L446 965.7L447 964.1L448 963.9L449 962.7L450 961.8L451 961.1L452 960.3L453 961.3L454 960.8L455 960.4L456 958.7L457 957.7L458 956.8L459 956L460 956.1L461 955.6L462 955.2L463 954.3L464 953.8L465 953.6L466 953.2L467 952.2L468 951.2L469 950.8L470 951.4L471 950.8L472 949.9L473 949.1L474 948.5L475 947.8L476 947.4L477 947.1L478 946.7L479 945.8L480 943.8L481 943.3L482 942.2L483 941.6L484 940.7L485 940.5L486 940.1L487 939L488 938L489 937.2L490 937.2L491 936.8L492 936.1L493 935.3L494 934.3L495 933.5L496 932.6L497 932.1L498 931.5L499 930.5L500 929.5L501 927.9L502 927.2L503 926.1L504 925.4L505 924.1L506 922.2L507 922.1L508 920L509 918.7L510 917.8L511 917.3L512 915.9L513 914.3L514 912.8L515 912.1L516 911.2L517 909.1L518 908.2L519 905.7L520 905.1L521 903.5L522 902.3L523 900.3L524 899.8L525 899.4L526 899.5L527 898.8L528 898L529 896.8L530 895.5L531 894.2L532 893.9L533 892.8L534 891.6L535 889.8L536 889.1L537 888.4L538 887L539 885.2L540 883.5L541 882.8L542 881.8L543 879.8L544 876.9L545 874.6L546 872.3L547 870.9L548 868.5L549 866.2L550 863.5L551 861.1L552 858.1L553 856.2L554 854.4L555 853.8L556 853.2L557 853.1L558 853.6L559 856.1L560 857.6L561 861.1L562 864.2L563 867.1L564 869.2L565 870.8L566 873.6L567 876.5L568 879.5L569 881.8L570 884.1L571 885.3L572 887.6L573 888.3L574 889.1L575 888.7L576 888.9L577 888.7L578 890L579 890.6L580 891.2L581 891.2L582 891.3L583 891.6L584 892.1L585 892.5L586 894.1L587 895.5L588 897.1L589 898.3L590 899.9L591 902.1L592 904.9L593 907.4L594 909.1L595 910.5L596 911.8L597 912.6L598 913.5L599 914.7L600 916.2L601 917.4L602 918L603 919.1L604 920.5L605 921.6L606 922.5L607 923L608 924.2L609 925.6L610 925.5L611 926.3L612 926.3L613 927.9L614 929L615 930.6L616 931.8L617 932.5L618 933.5L619 934.1L620 935.2L621 936.1L622 936.8L623 938.7L624 940.1L625 942.3L626 942.9L627 943.6L628 944.1L629 945.7L630 946.6L631 947.8L632 948.7L633 950.7L634 951.1L635 952.5L636 952.7L637 953.5L638 953.7L639 954.4L640 955.4L641 957L642 958.1L643 959.1L644 960.3L645 961.1L646 961.7L647 961.8L648 962L649 962.8L650 962.7L651 964L652 964.2L653 965.7L654 966.2L655 966.5L656 966.9L657 967.6L658 968.2L659 968.8L660 969.4L661 969.8L662 970.1L663 970.7L664 970.4L665 971.3L666 971.4L667 973L668 973.8" fill="none" stroke="#e8562c" stroke-width="2.2" stroke-linejoin="round" stroke-dasharray="7 5"/>
<path d="M445 961L446 961L447 962L448 961.9L449 961.8L450 961.6L451 963.3L452 963.7L453 964.5L454 962.7L455 961.6L456 961.2L457 960.3L458 960L459 959.3L460 958.8L461 958.2L462 957.4L463 958.2L464 959L465 958.9L466 957.7L467 954.5L468 954.5L469 954L470 954.7L471 955.4L472 954.3L473 955.2L474 955L475 954.6L476 955.3L477 955.5L478 955.2L479 953.2L480 951.9L481 952.4L482 952.6L483 951.9L484 951.2L485 951.9L486 951.9L487 952.2L488 953.4L489 953.3L490 952.9L491 951.7L492 950.6L493 950L494 947.8L495 946.1L496 944.6L497 945.2L498 943.6L499 942.2L500 940.4L501 940L502 938.6L503 937.4L504 935.2L505 933.9L506 933.1L507 931.9L508 931.5L509 931.4L510 930.2L511 929.4L512 927.7L513 928.2L514 927.3L515 927.2L516 927.8L517 929.2L518 930.2L519 930L520 928.3L521 927.1L522 926.5L523 925.1L524 923.5L525 921.7L526 919.9L527 918.5L528 917.1L529 916.5L530 915.3L531 913.2L532 912.3L533 912.6L534 912.1L535 910.6L536 908.9L537 908.2L538 905.7L539 904.6L540 901.6L541 901.4L542 899.6L543 897.8L544 895.5L545 894.7L546 893.3L547 891.6L548 889.5L549 887.2L550 886.8L551 886.1L552 885.1L553 882.7L554 880.9L555 880.9L556 882.2L557 885.8L558 886.9L559 886.8L560 888.4L561 892.3L562 896L563 899.2L564 901L565 902.3L566 903.5L567 905L568 907.2L569 909L570 910L571 911.8L572 913.3L573 916.7L574 919.9L575 921.4L576 920.8L577 920.1L578 921.8L579 925L580 926.7L581 927.1L582 927.3L583 928.4L584 929.2L585 931.6L586 931.5L587 933.9L588 934.3L589 936.3L590 937.9L591 938.2L592 939.3L593 940.3L594 942.8L595 945L596 945.6L597 946.1L598 945.7L599 945.6L600 946.4L601 945.8L602 946.9L603 947L604 947.5L605 946.7L606 947.1L607 948.2L608 949L609 949.9L610 951.4L611 953L612 953.1L613 954.5L614 956.2L615 956.5L616 956.6L617 956.6L618 957.9L619 957.3L620 958.6L621 958.4L622 960L623 959.2L624 960.1L625 959.9L626 960L627 959.7L628 961L629 961.4L630 962.4L631 962.1L632 962.2L633 962.4L634 962.6L635 963.9L636 962.6L637 962.9L638 961.9L639 962L640 962.6L641 963.4L642 963.8L643 963.3L644 964.4L645 964L646 963.9L647 963.6L648 964.2L649 964.8L650 965.6L651 966L652 966.4L653 967.4L654 968.8L655 969.9L656 969.1L657 968.2L658 967L659 967.7L660 967L661 967.5L662 968.6L663 971.3L664 972.2L665 971.4L666 970.3L667 969.5L668 969.8" fill="none" stroke="#2543a3" stroke-width="2.8" stroke-linejoin="round"/>
<line x1="445" y1="815.3" x2="445" y2="1172.3" stroke="#666" stroke-width="1.0"/>
<line x1="445" y1="1172.3" x2="668.4" y2="1172.3" stroke="#666" stroke-width="1.0"/>
<line x1="436.8" y1="837.9" x2="445" y2="837.9" stroke="#666" stroke-width="0.9"/>
<text x="433.2" y="842.1" font-size="12.7" text-anchor="end" textLength="15.5" lengthAdjust="spacingAndGlyphs">0.1</text>
<line x1="436.8" y1="921.4" x2="445" y2="921.4" stroke="#666" stroke-width="0.9"/>
<line x1="436.8" y1="1005.8" x2="445" y2="1005.8" stroke="#666" stroke-width="0.9"/>
<text x="433.2" y="1010" font-size="12.7" text-anchor="end" textLength="6.2" lengthAdjust="spacingAndGlyphs">0</text>
<line x1="436.8" y1="1089.4" x2="445" y2="1089.4" stroke="#666" stroke-width="0.9"/>
<line x1="436.8" y1="1172.3" x2="445" y2="1172.3" stroke="#666" stroke-width="0.9"/>
<text x="433.2" y="1176.5" font-size="12.7" text-anchor="end" textLength="22.1" lengthAdjust="spacingAndGlyphs">−0.1</text>
<line x1="445" y1="1172.3" x2="445" y2="1179.6" stroke="#666" stroke-width="0.9"/>
<text x="443" y="1194.2" font-size="12.7" text-anchor="middle" textLength="22.1" lengthAdjust="spacingAndGlyphs">−0.5</text>
<text x="554" y="1194.2" font-size="12.7" text-anchor="middle" textLength="6.2" lengthAdjust="spacingAndGlyphs">0</text>
<line x1="668.4" y1="1172.3" x2="668.4" y2="1179.6" stroke="#666" stroke-width="0.9"/>
<text x="668.4" y="1194.2" font-size="12.7" text-anchor="middle" textLength="15.5" lengthAdjust="spacingAndGlyphs">0.5</text>
<text x="450.7" y="1215.2" font-size="15.2" textLength="208" lengthAdjust="spacingAndGlyphs">Time from replay event onset (s)</text>
<text font-size="15.2" text-anchor="middle" textLength="280.3" lengthAdjust="spacingAndGlyphs" transform="translate(407.7 1008) rotate(-90)">Change in RSN-state activation probability</text>
<path d="M586.4 892.7L592 885.6H603" fill="none" stroke="#555" stroke-width="0.8"/>
<text x="605" y="891.2" font-size="15.2" textLength="33.5" lengthAdjust="spacingAndGlyphs">DMN</text>
<path d="M623.6 952.6H630V1092.2H623.6M630 1022.5H638" fill="none" stroke="#555" stroke-width="0.9"/>
<text x="640.3" y="1028.1" font-size="15.2" textLength="38.4" lengthAdjust="spacingAndGlyphs">Other</text>
</g>
</svg>
</body>
</html>
